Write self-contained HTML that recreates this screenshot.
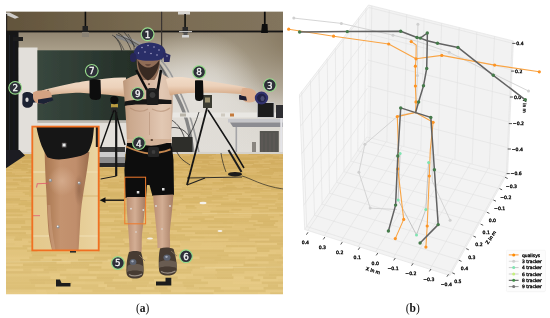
<!DOCTYPE html>
<html><head><meta charset="utf-8"><style>
html,body{margin:0;padding:0;background:#fff;width:550px;height:318px;overflow:hidden}
svg{position:absolute;left:0;top:0}
</style></head><body>
<svg width="550" height="318" viewBox="0 0 550 318">
<defs>
<clipPath id="pc"><rect x="6" y="11.5" width="277" height="282.7"/></clipPath>
<clipPath id="ic"><rect x="32.6" y="127" width="65.4" height="123"/></clipPath>
<linearGradient id="wallg" x1="0" y1="11.5" x2="0" y2="161.5" gradientUnits="userSpaceOnUse">
 <stop offset="0.13" stop-color="#908470"/><stop offset="0.25" stop-color="#a89d88"/><stop offset="0.4" stop-color="#c5beb0"/>
 <stop offset="0.6" stop-color="#d8d4cc"/><stop offset="1" stop-color="#e1ded9"/>
</linearGradient>
<linearGradient id="ceilg" x1="0" y1="0" x2="1" y2="0">
 <stop offset="0" stop-color="#62543c"/><stop offset="0.5" stop-color="#786a51"/><stop offset="1" stop-color="#82745d"/>
</linearGradient>
<radialGradient id="wallr" cx="292" cy="38" r="85" gradientUnits="userSpaceOnUse">
 <stop offset="0" stop-color="#84765e" stop-opacity="0.95"/><stop offset="0.6" stop-color="#968a74" stop-opacity="0.55"/><stop offset="1" stop-color="#a09480" stop-opacity="0"/>
</radialGradient>
<radialGradient id="walll" cx="195" cy="100" r="70" gradientUnits="userSpaceOnUse">
 <stop offset="0" stop-color="#e4e1dc" stop-opacity="0.9"/><stop offset="1" stop-color="#e4e1dc" stop-opacity="0"/>
</radialGradient>
<linearGradient id="chalk" x1="0" y1="0" x2="1" y2="0">
 <stop offset="0" stop-color="#38473e"/><stop offset="0.5" stop-color="#2d3a32"/><stop offset="1" stop-color="#222c25"/>
</linearGradient>
<linearGradient id="floorg" x1="0" y1="0" x2="0" y2="1">
 <stop offset="0" stop-color="#cca355"/><stop offset="0.3" stop-color="#d8b568"/><stop offset="0.7" stop-color="#e0c27b"/><stop offset="1" stop-color="#e4c984"/>
</linearGradient>
<linearGradient id="torso" x1="0" y1="0" x2="1" y2="0">
 <stop offset="0" stop-color="#bc9679"/><stop offset="0.15" stop-color="#cba98e"/><stop offset="0.5" stop-color="#d6b7a0"/><stop offset="0.78" stop-color="#e2c8b3"/><stop offset="0.95" stop-color="#dcc0aa"/><stop offset="1" stop-color="#c4a48c"/>
</linearGradient>
<linearGradient id="legg" x1="0" y1="0" x2="1" y2="0">
 <stop offset="0" stop-color="#b88a6c"/><stop offset="0.5" stop-color="#cfa487"/><stop offset="1" stop-color="#b2876b"/>
</linearGradient>
<linearGradient id="ilegg" x1="0" y1="0" x2="1" y2="0">
 <stop offset="0" stop-color="#a8764f"/><stop offset="0.35" stop-color="#c4936f"/><stop offset="0.7" stop-color="#c08e6c"/><stop offset="1" stop-color="#9b6c4c"/>
</linearGradient>
<linearGradient id="insetfl" x1="0" y1="0" x2="1" y2="0">
 <stop offset="0" stop-color="#e2c585" stop-opacity="0.6"/><stop offset="0.5" stop-color="#e2c585" stop-opacity="0"/><stop offset="1" stop-color="#efdcb0" stop-opacity="0.6"/>
</linearGradient>
<radialGradient id="kneeg"><stop offset="0" stop-color="#d8b092" stop-opacity="0.8"/><stop offset="1" stop-color="#d8b092" stop-opacity="0"/></radialGradient>
<radialGradient id="kneesh"><stop offset="0" stop-color="#7e553d" stop-opacity="0.5"/><stop offset="1" stop-color="#7e553d" stop-opacity="0"/></radialGradient>
<filter id="soft" x="-5%" y="-5%" width="110%" height="110%"><feGaussianBlur stdDeviation="0.6"/></filter>
</defs>
<g clip-path="url(#pc)">
<g filter="url(#soft)">
<!-- wall -->
<rect x="6" y="11.5" width="277" height="150" fill="url(#wallg)"/>
<rect x="100" y="31" width="183" height="100" fill="url(#wallr)"/>
<rect x="120" y="31" width="163" height="120" fill="url(#walll)"/>
<!-- ceiling -->
<rect x="6" y="11.5" width="277" height="20" fill="url(#ceilg)"/>
<polygon points="6,12.6 9.5,12.6 19,17.3 15,18.8 8,15.8 6,15.5" fill="#cfcdca"/>
<rect x="6" y="14" width="1.2" height="17" fill="#2a2520"/>
<rect x="178" y="11.5" width="12" height="3" fill="#d9d7d3"/>
<rect x="6" y="30.6" width="277" height="1.8" fill="#171614"/>
<!-- hanging cameras -->
<rect x="84.6" y="11.5" width="1.6" height="20" fill="#111"/><rect x="82.5" y="26" width="5.5" height="6" fill="#222"/><rect x="82" y="32" width="7" height="5" fill="#8a8274"/>
<rect x="184.3" y="14" width="1.6" height="18" fill="#111"/><rect x="182.5" y="27" width="5.5" height="6" fill="#2a2a2a"/><rect x="179" y="31" width="13" height="1.2" fill="#bdbdbd"/><rect x="182" y="35" width="7" height="2.5" fill="#d6d6d6"/><rect x="183.5" y="33" width="4" height="2" fill="#555"/>
<rect x="263.9" y="11.5" width="1.8" height="20" fill="#111"/><polygon points="262,24 267.5,24 268,33 261,33" fill="#111"/>
<rect x="161" y="11.5" width="1.2" height="50" fill="#3a3630"/>
<!-- curtain -->
<polygon points="6,31 18.5,31 19.5,160 19,167 6,167" fill="#131519"/>
<rect x="9" y="35" width="1" height="128" fill="#1f222a"/><rect x="13.5" y="35" width="1" height="128" fill="#1c1f26"/>
<rect x="13" y="37" width="10" height="4" fill="#1d1d1d"/>
<!-- white wall panel -->
<rect x="18.5" y="47.5" width="19" height="106" fill="#e2dfda"/>
<!-- chalkboard -->
<rect x="37.4" y="50.3" width="105" height="70.3" fill="url(#chalk)"/>
<rect x="37.4" y="120.3" width="105" height="2.6" fill="#bcb8b0"/>
<rect x="37.4" y="123" width="105" height="30" fill="#e3e0db"/>
<!-- metal arc -->
<path d="M116,36 C140,44 158,58 168,80 C178,98 188,112 193,153" fill="none" stroke="#858585" stroke-width="3.4"/>
<path d="M123,36 C146,44 164,58 174,80 C183,98 192,115 199,153" fill="none" stroke="#9a9a9a" stroke-width="1.6"/>
<path d="M116,34.5 C140,42.5 158,56.5 167,78" fill="none" stroke="#4a4a4a" stroke-width="0.8"/>
<path d="M112,35 C118,38 121,44 124,50 M128,34 C132,40 135,46 134,52" fill="none" stroke="#444" stroke-width="0.8"/>
<!-- outlets / desk right -->
<rect x="165" y="112.5" width="118" height="5" fill="#e9e7e3"/>
<rect x="180" y="113.5" width="6" height="3" fill="#b8b3a8"/><rect x="230" y="113.5" width="4" height="3" fill="#c47a3a"/><rect x="221" y="113.5" width="4" height="3" fill="#cfcac0"/>
<rect x="257" y="102.2" width="17.4" height="15.6" fill="#c9c9cb"/><rect x="257.8" y="103" width="15.8" height="14" fill="#1a1a1c"/><rect x="276" y="105" width="7" height="13" fill="#2e2e30"/>
<rect x="228" y="118.9" width="55" height="3.6" fill="#c6c6ca"/>
<polygon points="230,122.5 283,122.5 283,127 233,127" fill="#8c8c92"/>
<polyline points="236.3,127 236.3,162 240.5,165.5" fill="none" stroke="#a5a5a8" stroke-width="1.6"/>
<rect x="259.8" y="131" width="19" height="27" fill="#3f3d3a" opacity="0.85"/>
<path d="M262,133 L262,157 M266,133 L266,157 M270,133 L270,157 M274,133 L274,157" stroke="#6a6660" stroke-width="0.6"/>
<rect x="252" y="142" width="4" height="14" fill="#8a8680"/>
<rect x="280.3" y="118" width="2.2" height="44" fill="#e4e4e8"/>
<rect x="272" y="160" width="11" height="5" fill="#d6d6dc"/><circle cx="274.5" cy="166" r="1.6" fill="#444"/>
<path d="M168,118 C176,122 182,128 185,140 M170,128 C178,126 186,130 190,138 M199,112 C196,122 192,132 186,140" fill="none" stroke="#2a2a2a" stroke-width="0.8"/>
<rect x="172" y="137" width="20.5" height="19" fill="#2e2d2c"/>
<rect x="172" y="156" width="20.5" height="4.5" fill="#9a9896"/>
<rect x="172" y="160.5" width="20.5" height="4.5" fill="#c4c2bf"/>
<!-- floor -->
<rect x="6" y="153" width="277" height="142" fill="url(#floorg)"/>
<g opacity="0.45">
<rect x="6.0" y="154.0" width="8.9" height="1.20" fill="rgb(216, 185, 110)"/>
<rect x="14.9" y="154.0" width="5.4" height="1.20" fill="rgb(216, 185, 110)"/>
<rect x="20.4" y="154.0" width="5.5" height="1.20" fill="rgb(219, 189, 115)"/>
<rect x="25.9" y="154.0" width="10.4" height="1.20" fill="rgb(217, 186, 112)"/>
<rect x="36.3" y="154.0" width="11.9" height="1.20" fill="rgb(211, 180, 103)"/>
<rect x="48.1" y="154.0" width="6.4" height="1.20" fill="rgb(213, 182, 106)"/>
<rect x="54.5" y="154.0" width="12.3" height="1.20" fill="rgb(214, 183, 107)"/>
<rect x="66.8" y="154.0" width="9.9" height="1.20" fill="rgb(219, 189, 115)"/>
<rect x="76.6" y="154.0" width="15.8" height="1.20" fill="rgb(232, 203, 134)"/>
<rect x="92.4" y="154.0" width="11.7" height="1.20" fill="rgb(233, 204, 136)"/>
<rect x="104.1" y="154.0" width="13.5" height="1.20" fill="rgb(214, 183, 107)"/>
<rect x="117.7" y="154.0" width="13.0" height="1.20" fill="rgb(228, 199, 129)"/>
<rect x="130.7" y="154.0" width="13.9" height="1.20" fill="rgb(213, 182, 106)"/>
<rect x="144.6" y="154.0" width="11.2" height="1.20" fill="rgb(235, 206, 139)"/>
<rect x="155.7" y="154.0" width="10.8" height="1.20" fill="rgb(231, 202, 133)"/>
<rect x="166.5" y="154.0" width="8.0" height="1.20" fill="rgb(213, 181, 105)"/>
<rect x="174.5" y="154.0" width="7.9" height="1.20" fill="rgb(233, 204, 135)"/>
<rect x="182.4" y="154.0" width="16.0" height="1.20" fill="rgb(230, 201, 132)"/>
<rect x="198.4" y="154.0" width="17.3" height="1.20" fill="rgb(214, 183, 108)"/>
<rect x="215.7" y="154.0" width="6.9" height="1.20" fill="rgb(229, 200, 130)"/>
<rect x="222.6" y="154.0" width="11.1" height="1.20" fill="rgb(210, 179, 101)"/>
<rect x="233.7" y="154.0" width="5.8" height="1.20" fill="rgb(231, 202, 133)"/>
<rect x="239.5" y="154.0" width="9.3" height="1.20" fill="rgb(233, 204, 136)"/>
<rect x="248.8" y="154.0" width="10.6" height="1.20" fill="rgb(210, 179, 101)"/>
<rect x="259.4" y="154.0" width="10.9" height="1.20" fill="rgb(219, 188, 115)"/>
<rect x="270.3" y="154.0" width="13.8" height="1.20" fill="rgb(230, 201, 132)"/>
<rect x="6.0" y="155.2" width="9.8" height="1.21" fill="rgb(228, 198, 128)"/>
<rect x="15.8" y="155.2" width="10.8" height="1.21" fill="rgb(213, 182, 106)"/>
<rect x="26.6" y="155.2" width="11.2" height="1.21" fill="rgb(212, 181, 104)"/>
<rect x="37.8" y="155.2" width="6.5" height="1.21" fill="rgb(216, 185, 110)"/>
<rect x="44.3" y="155.2" width="16.6" height="1.21" fill="rgb(228, 199, 129)"/>
<rect x="60.9" y="155.2" width="10.6" height="1.21" fill="rgb(236, 208, 141)"/>
<rect x="71.5" y="155.2" width="15.4" height="1.21" fill="rgb(235, 206, 138)"/>
<rect x="86.9" y="155.2" width="17.5" height="1.21" fill="rgb(237, 208, 142)"/>
<rect x="104.4" y="155.2" width="6.8" height="1.21" fill="rgb(218, 187, 113)"/>
<rect x="111.2" y="155.2" width="13.3" height="1.21" fill="rgb(215, 184, 108)"/>
<rect x="124.5" y="155.2" width="12.4" height="1.21" fill="rgb(230, 201, 132)"/>
<rect x="137.0" y="155.2" width="6.7" height="1.21" fill="rgb(234, 205, 137)"/>
<rect x="143.7" y="155.2" width="8.9" height="1.21" fill="rgb(213, 182, 105)"/>
<rect x="152.6" y="155.2" width="11.5" height="1.21" fill="rgb(215, 184, 109)"/>
<rect x="164.1" y="155.2" width="16.1" height="1.21" fill="rgb(231, 202, 133)"/>
<rect x="180.1" y="155.2" width="9.9" height="1.21" fill="rgb(234, 205, 137)"/>
<rect x="190.0" y="155.2" width="5.6" height="1.21" fill="rgb(210, 178, 101)"/>
<rect x="195.7" y="155.2" width="10.5" height="1.21" fill="rgb(216, 185, 110)"/>
<rect x="206.2" y="155.2" width="5.5" height="1.21" fill="rgb(214, 183, 107)"/>
<rect x="211.7" y="155.2" width="11.7" height="1.21" fill="rgb(234, 205, 137)"/>
<rect x="223.4" y="155.2" width="5.7" height="1.21" fill="rgb(213, 182, 106)"/>
<rect x="229.2" y="155.2" width="6.7" height="1.21" fill="rgb(237, 208, 142)"/>
<rect x="235.9" y="155.2" width="12.6" height="1.21" fill="rgb(229, 199, 129)"/>
<rect x="248.5" y="155.2" width="15.8" height="1.21" fill="rgb(232, 203, 135)"/>
<rect x="264.3" y="155.2" width="8.8" height="1.21" fill="rgb(218, 188, 114)"/>
<rect x="273.1" y="155.2" width="9.2" height="1.21" fill="rgb(232, 203, 135)"/>
<rect x="282.4" y="155.2" width="13.7" height="1.21" fill="rgb(217, 187, 112)"/>
<rect x="6.0" y="156.4" width="17.2" height="1.23" fill="rgb(229, 200, 130)"/>
<rect x="23.2" y="156.4" width="11.9" height="1.23" fill="rgb(212, 181, 104)"/>
<rect x="35.1" y="156.4" width="8.7" height="1.23" fill="rgb(213, 181, 105)"/>
<rect x="43.8" y="156.4" width="8.2" height="1.23" fill="rgb(237, 208, 141)"/>
<rect x="52.1" y="156.4" width="9.5" height="1.23" fill="rgb(214, 183, 108)"/>
<rect x="61.6" y="156.4" width="15.0" height="1.23" fill="rgb(234, 205, 137)"/>
<rect x="76.5" y="156.4" width="12.8" height="1.23" fill="rgb(211, 180, 103)"/>
<rect x="89.3" y="156.4" width="15.5" height="1.23" fill="rgb(218, 187, 113)"/>
<rect x="104.8" y="156.4" width="11.3" height="1.23" fill="rgb(210, 178, 101)"/>
<rect x="116.1" y="156.4" width="15.1" height="1.23" fill="rgb(230, 201, 131)"/>
<rect x="131.2" y="156.4" width="13.8" height="1.23" fill="rgb(232, 203, 134)"/>
<rect x="145.0" y="156.4" width="17.0" height="1.23" fill="rgb(237, 208, 142)"/>
<rect x="162.0" y="156.4" width="9.6" height="1.23" fill="rgb(218, 188, 114)"/>
<rect x="171.6" y="156.4" width="11.0" height="1.23" fill="rgb(230, 200, 131)"/>
<rect x="182.6" y="156.4" width="13.0" height="1.23" fill="rgb(215, 184, 108)"/>
<rect x="195.5" y="156.4" width="13.3" height="1.23" fill="rgb(211, 180, 103)"/>
<rect x="208.8" y="156.4" width="6.4" height="1.23" fill="rgb(235, 207, 139)"/>
<rect x="215.3" y="156.4" width="14.6" height="1.23" fill="rgb(236, 208, 141)"/>
<rect x="229.8" y="156.4" width="10.5" height="1.23" fill="rgb(228, 199, 129)"/>
<rect x="240.3" y="156.4" width="17.1" height="1.23" fill="rgb(232, 203, 134)"/>
<rect x="257.5" y="156.4" width="14.5" height="1.23" fill="rgb(212, 181, 105)"/>
<rect x="272.0" y="156.4" width="7.1" height="1.23" fill="rgb(219, 189, 115)"/>
<rect x="279.0" y="156.4" width="12.5" height="1.23" fill="rgb(236, 207, 140)"/>
<rect x="6.0" y="157.6" width="6.8" height="1.24" fill="rgb(234, 205, 137)"/>
<rect x="12.8" y="157.6" width="9.5" height="1.24" fill="rgb(219, 189, 115)"/>
<rect x="22.3" y="157.6" width="15.3" height="1.24" fill="rgb(214, 183, 108)"/>
<rect x="37.6" y="157.6" width="17.1" height="1.24" fill="rgb(237, 209, 142)"/>
<rect x="54.7" y="157.6" width="7.4" height="1.24" fill="rgb(219, 189, 115)"/>
<rect x="62.1" y="157.6" width="7.7" height="1.24" fill="rgb(212, 181, 104)"/>
<rect x="69.8" y="157.6" width="9.1" height="1.24" fill="rgb(236, 207, 140)"/>
<rect x="78.9" y="157.6" width="5.7" height="1.24" fill="rgb(236, 208, 141)"/>
<rect x="84.6" y="157.6" width="13.5" height="1.24" fill="rgb(236, 207, 140)"/>
<rect x="98.2" y="157.6" width="16.4" height="1.24" fill="rgb(214, 183, 108)"/>
<rect x="114.5" y="157.6" width="11.7" height="1.24" fill="rgb(211, 179, 102)"/>
<rect x="126.2" y="157.6" width="15.0" height="1.24" fill="rgb(212, 181, 104)"/>
<rect x="141.3" y="157.6" width="6.8" height="1.24" fill="rgb(215, 184, 108)"/>
<rect x="148.1" y="157.6" width="14.4" height="1.24" fill="rgb(216, 186, 111)"/>
<rect x="162.5" y="157.6" width="11.7" height="1.24" fill="rgb(235, 207, 139)"/>
<rect x="174.1" y="157.6" width="6.3" height="1.24" fill="rgb(217, 186, 112)"/>
<rect x="180.4" y="157.6" width="8.5" height="1.24" fill="rgb(214, 184, 108)"/>
<rect x="188.9" y="157.6" width="12.2" height="1.24" fill="rgb(215, 184, 109)"/>
<rect x="201.1" y="157.6" width="12.9" height="1.24" fill="rgb(213, 181, 105)"/>
<rect x="214.0" y="157.6" width="10.8" height="1.24" fill="rgb(233, 203, 135)"/>
<rect x="224.8" y="157.6" width="8.1" height="1.24" fill="rgb(237, 208, 141)"/>
<rect x="232.9" y="157.6" width="16.5" height="1.24" fill="rgb(211, 180, 103)"/>
<rect x="249.5" y="157.6" width="6.7" height="1.24" fill="rgb(216, 185, 110)"/>
<rect x="256.2" y="157.6" width="9.0" height="1.24" fill="rgb(215, 184, 109)"/>
<rect x="265.2" y="157.6" width="7.7" height="1.24" fill="rgb(235, 207, 139)"/>
<rect x="272.9" y="157.6" width="16.6" height="1.24" fill="rgb(210, 179, 101)"/>
<rect x="6.0" y="158.9" width="13.4" height="1.26" fill="rgb(229, 199, 130)"/>
<rect x="19.4" y="158.9" width="16.5" height="1.26" fill="rgb(230, 200, 131)"/>
<rect x="35.9" y="158.9" width="17.4" height="1.26" fill="rgb(236, 208, 141)"/>
<rect x="53.3" y="158.9" width="7.1" height="1.26" fill="rgb(218, 187, 113)"/>
<rect x="60.4" y="158.9" width="10.6" height="1.26" fill="rgb(231, 202, 133)"/>
<rect x="71.0" y="158.9" width="7.5" height="1.26" fill="rgb(228, 199, 129)"/>
<rect x="78.5" y="158.9" width="9.7" height="1.26" fill="rgb(233, 204, 136)"/>
<rect x="88.2" y="158.9" width="10.7" height="1.26" fill="rgb(216, 185, 110)"/>
<rect x="98.9" y="158.9" width="11.7" height="1.26" fill="rgb(233, 204, 135)"/>
<rect x="110.7" y="158.9" width="5.8" height="1.26" fill="rgb(210, 178, 101)"/>
<rect x="116.4" y="158.9" width="6.3" height="1.26" fill="rgb(230, 201, 132)"/>
<rect x="122.7" y="158.9" width="16.8" height="1.26" fill="rgb(217, 186, 111)"/>
<rect x="139.6" y="158.9" width="6.6" height="1.26" fill="rgb(236, 207, 140)"/>
<rect x="146.2" y="158.9" width="13.8" height="1.26" fill="rgb(232, 202, 134)"/>
<rect x="160.0" y="158.9" width="12.0" height="1.26" fill="rgb(235, 206, 138)"/>
<rect x="172.0" y="158.9" width="6.1" height="1.26" fill="rgb(212, 180, 104)"/>
<rect x="178.1" y="158.9" width="7.3" height="1.26" fill="rgb(217, 186, 111)"/>
<rect x="185.4" y="158.9" width="5.1" height="1.26" fill="rgb(211, 180, 103)"/>
<rect x="190.5" y="158.9" width="6.0" height="1.26" fill="rgb(219, 188, 115)"/>
<rect x="196.6" y="158.9" width="16.3" height="1.26" fill="rgb(228, 198, 128)"/>
<rect x="212.8" y="158.9" width="18.0" height="1.26" fill="rgb(237, 208, 141)"/>
<rect x="230.8" y="158.9" width="8.4" height="1.26" fill="rgb(219, 189, 115)"/>
<rect x="239.2" y="158.9" width="14.2" height="1.26" fill="rgb(210, 178, 101)"/>
<rect x="253.5" y="158.9" width="8.4" height="1.26" fill="rgb(217, 187, 112)"/>
<rect x="261.9" y="158.9" width="9.0" height="1.26" fill="rgb(233, 204, 135)"/>
<rect x="270.9" y="158.9" width="7.6" height="1.26" fill="rgb(233, 203, 135)"/>
<rect x="278.5" y="158.9" width="7.3" height="1.26" fill="rgb(236, 207, 140)"/>
<rect x="6.0" y="160.1" width="18.1" height="1.27" fill="rgb(219, 189, 115)"/>
<rect x="24.1" y="160.1" width="14.6" height="1.27" fill="rgb(214, 183, 108)"/>
<rect x="38.8" y="160.1" width="8.2" height="1.27" fill="rgb(229, 199, 129)"/>
<rect x="47.0" y="160.1" width="15.8" height="1.27" fill="rgb(234, 205, 137)"/>
<rect x="62.7" y="160.1" width="12.2" height="1.27" fill="rgb(237, 209, 142)"/>
<rect x="74.9" y="160.1" width="9.0" height="1.27" fill="rgb(210, 178, 101)"/>
<rect x="83.9" y="160.1" width="9.5" height="1.27" fill="rgb(215, 185, 109)"/>
<rect x="93.4" y="160.1" width="9.6" height="1.27" fill="rgb(211, 180, 103)"/>
<rect x="103.0" y="160.1" width="5.1" height="1.27" fill="rgb(232, 203, 134)"/>
<rect x="108.1" y="160.1" width="5.7" height="1.27" fill="rgb(236, 207, 141)"/>
<rect x="113.8" y="160.1" width="13.8" height="1.27" fill="rgb(233, 204, 136)"/>
<rect x="127.7" y="160.1" width="14.1" height="1.27" fill="rgb(215, 184, 109)"/>
<rect x="141.8" y="160.1" width="7.0" height="1.27" fill="rgb(228, 198, 128)"/>
<rect x="148.8" y="160.1" width="9.8" height="1.27" fill="rgb(237, 209, 142)"/>
<rect x="158.6" y="160.1" width="12.2" height="1.27" fill="rgb(219, 189, 115)"/>
<rect x="170.8" y="160.1" width="16.6" height="1.27" fill="rgb(216, 185, 110)"/>
<rect x="187.4" y="160.1" width="5.0" height="1.27" fill="rgb(228, 199, 129)"/>
<rect x="192.4" y="160.1" width="8.6" height="1.27" fill="rgb(217, 186, 112)"/>
<rect x="201.0" y="160.1" width="15.2" height="1.27" fill="rgb(217, 186, 112)"/>
<rect x="216.2" y="160.1" width="6.1" height="1.27" fill="rgb(233, 204, 136)"/>
<rect x="222.4" y="160.1" width="10.2" height="1.27" fill="rgb(231, 201, 132)"/>
<rect x="232.5" y="160.1" width="8.0" height="1.27" fill="rgb(213, 182, 106)"/>
<rect x="240.6" y="160.1" width="14.4" height="1.27" fill="rgb(235, 206, 139)"/>
<rect x="255.0" y="160.1" width="14.5" height="1.27" fill="rgb(229, 200, 130)"/>
<rect x="269.5" y="160.1" width="14.5" height="1.27" fill="rgb(219, 189, 115)"/>
<rect x="6.0" y="161.4" width="16.1" height="1.28" fill="rgb(235, 206, 139)"/>
<rect x="22.1" y="161.4" width="15.8" height="1.28" fill="rgb(210, 179, 102)"/>
<rect x="37.9" y="161.4" width="15.0" height="1.28" fill="rgb(211, 180, 103)"/>
<rect x="52.9" y="161.4" width="12.8" height="1.28" fill="rgb(219, 188, 114)"/>
<rect x="65.7" y="161.4" width="5.5" height="1.28" fill="rgb(237, 208, 142)"/>
<rect x="71.2" y="161.4" width="10.0" height="1.28" fill="rgb(233, 204, 136)"/>
<rect x="81.2" y="161.4" width="13.3" height="1.28" fill="rgb(215, 184, 108)"/>
<rect x="94.6" y="161.4" width="5.0" height="1.28" fill="rgb(212, 181, 104)"/>
<rect x="99.6" y="161.4" width="11.7" height="1.28" fill="rgb(213, 182, 106)"/>
<rect x="111.3" y="161.4" width="5.9" height="1.28" fill="rgb(230, 201, 131)"/>
<rect x="117.2" y="161.4" width="6.0" height="1.28" fill="rgb(230, 200, 131)"/>
<rect x="123.1" y="161.4" width="15.1" height="1.28" fill="rgb(212, 181, 104)"/>
<rect x="138.2" y="161.4" width="18.0" height="1.28" fill="rgb(236, 207, 140)"/>
<rect x="156.2" y="161.4" width="6.0" height="1.28" fill="rgb(235, 206, 139)"/>
<rect x="162.2" y="161.4" width="13.2" height="1.28" fill="rgb(219, 188, 114)"/>
<rect x="175.4" y="161.4" width="7.0" height="1.28" fill="rgb(234, 205, 137)"/>
<rect x="182.3" y="161.4" width="14.2" height="1.28" fill="rgb(219, 189, 115)"/>
<rect x="196.6" y="161.4" width="5.8" height="1.28" fill="rgb(237, 209, 142)"/>
<rect x="202.4" y="161.4" width="6.3" height="1.28" fill="rgb(213, 182, 105)"/>
<rect x="208.7" y="161.4" width="8.9" height="1.28" fill="rgb(232, 203, 134)"/>
<rect x="217.5" y="161.4" width="11.2" height="1.28" fill="rgb(210, 178, 101)"/>
<rect x="228.7" y="161.4" width="12.3" height="1.28" fill="rgb(237, 209, 142)"/>
<rect x="241.0" y="161.4" width="17.5" height="1.28" fill="rgb(217, 186, 111)"/>
<rect x="258.5" y="161.4" width="6.0" height="1.28" fill="rgb(237, 209, 142)"/>
<rect x="264.5" y="161.4" width="10.1" height="1.28" fill="rgb(219, 188, 114)"/>
<rect x="274.6" y="161.4" width="6.2" height="1.28" fill="rgb(237, 208, 142)"/>
<rect x="280.8" y="161.4" width="6.8" height="1.28" fill="rgb(236, 208, 141)"/>
<rect x="6.0" y="162.7" width="14.4" height="1.30" fill="rgb(215, 184, 108)"/>
<rect x="20.4" y="162.7" width="16.8" height="1.30" fill="rgb(228, 198, 128)"/>
<rect x="37.2" y="162.7" width="5.1" height="1.30" fill="rgb(234, 205, 138)"/>
<rect x="42.3" y="162.7" width="10.5" height="1.30" fill="rgb(215, 185, 109)"/>
<rect x="52.7" y="162.7" width="10.1" height="1.30" fill="rgb(211, 180, 103)"/>
<rect x="62.8" y="162.7" width="5.0" height="1.30" fill="rgb(236, 207, 140)"/>
<rect x="67.8" y="162.7" width="6.6" height="1.30" fill="rgb(212, 181, 105)"/>
<rect x="74.5" y="162.7" width="17.1" height="1.30" fill="rgb(230, 201, 131)"/>
<rect x="91.6" y="162.7" width="5.9" height="1.30" fill="rgb(237, 209, 142)"/>
<rect x="97.5" y="162.7" width="12.9" height="1.30" fill="rgb(237, 208, 141)"/>
<rect x="110.4" y="162.7" width="15.1" height="1.30" fill="rgb(217, 186, 111)"/>
<rect x="125.5" y="162.7" width="5.7" height="1.30" fill="rgb(234, 205, 137)"/>
<rect x="131.2" y="162.7" width="7.0" height="1.30" fill="rgb(232, 203, 134)"/>
<rect x="138.3" y="162.7" width="9.3" height="1.30" fill="rgb(235, 207, 139)"/>
<rect x="147.5" y="162.7" width="10.8" height="1.30" fill="rgb(211, 180, 103)"/>
<rect x="158.3" y="162.7" width="13.5" height="1.30" fill="rgb(212, 181, 105)"/>
<rect x="171.7" y="162.7" width="5.7" height="1.30" fill="rgb(232, 203, 134)"/>
<rect x="177.4" y="162.7" width="15.1" height="1.30" fill="rgb(232, 203, 135)"/>
<rect x="192.5" y="162.7" width="17.2" height="1.30" fill="rgb(218, 187, 113)"/>
<rect x="209.8" y="162.7" width="10.6" height="1.30" fill="rgb(230, 201, 132)"/>
<rect x="220.4" y="162.7" width="14.9" height="1.30" fill="rgb(232, 202, 134)"/>
<rect x="235.3" y="162.7" width="8.2" height="1.30" fill="rgb(233, 204, 136)"/>
<rect x="243.5" y="162.7" width="10.3" height="1.30" fill="rgb(213, 182, 106)"/>
<rect x="253.8" y="162.7" width="6.0" height="1.30" fill="rgb(233, 204, 136)"/>
<rect x="259.8" y="162.7" width="11.1" height="1.30" fill="rgb(237, 209, 142)"/>
<rect x="270.9" y="162.7" width="11.1" height="1.30" fill="rgb(214, 183, 107)"/>
<rect x="282.0" y="162.7" width="8.3" height="1.30" fill="rgb(216, 185, 110)"/>
<rect x="6.0" y="164.0" width="6.3" height="1.31" fill="rgb(216, 185, 110)"/>
<rect x="12.3" y="164.0" width="16.0" height="1.31" fill="rgb(211, 179, 102)"/>
<rect x="28.3" y="164.0" width="15.2" height="1.31" fill="rgb(231, 202, 133)"/>
<rect x="43.4" y="164.0" width="15.1" height="1.31" fill="rgb(216, 185, 110)"/>
<rect x="58.5" y="164.0" width="9.6" height="1.31" fill="rgb(215, 184, 108)"/>
<rect x="68.2" y="164.0" width="12.8" height="1.31" fill="rgb(229, 199, 129)"/>
<rect x="81.0" y="164.0" width="11.8" height="1.31" fill="rgb(219, 188, 114)"/>
<rect x="92.8" y="164.0" width="17.2" height="1.31" fill="rgb(231, 202, 133)"/>
<rect x="110.0" y="164.0" width="11.1" height="1.31" fill="rgb(236, 207, 140)"/>
<rect x="121.0" y="164.0" width="16.8" height="1.31" fill="rgb(218, 188, 114)"/>
<rect x="137.9" y="164.0" width="10.8" height="1.31" fill="rgb(237, 209, 142)"/>
<rect x="148.6" y="164.0" width="11.7" height="1.31" fill="rgb(216, 185, 110)"/>
<rect x="160.3" y="164.0" width="17.6" height="1.31" fill="rgb(237, 209, 142)"/>
<rect x="177.9" y="164.0" width="8.4" height="1.31" fill="rgb(217, 187, 112)"/>
<rect x="186.3" y="164.0" width="7.1" height="1.31" fill="rgb(210, 179, 101)"/>
<rect x="193.4" y="164.0" width="14.8" height="1.31" fill="rgb(228, 199, 129)"/>
<rect x="208.2" y="164.0" width="15.5" height="1.31" fill="rgb(212, 180, 104)"/>
<rect x="223.7" y="164.0" width="8.2" height="1.31" fill="rgb(213, 182, 106)"/>
<rect x="231.9" y="164.0" width="9.2" height="1.31" fill="rgb(213, 182, 106)"/>
<rect x="241.0" y="164.0" width="12.2" height="1.31" fill="rgb(234, 206, 138)"/>
<rect x="253.2" y="164.0" width="6.6" height="1.31" fill="rgb(216, 186, 111)"/>
<rect x="259.8" y="164.0" width="17.8" height="1.31" fill="rgb(216, 185, 110)"/>
<rect x="277.6" y="164.0" width="8.1" height="1.31" fill="rgb(219, 189, 115)"/>
<rect x="6.0" y="165.3" width="9.2" height="1.33" fill="rgb(230, 201, 132)"/>
<rect x="15.2" y="165.3" width="9.4" height="1.33" fill="rgb(215, 184, 108)"/>
<rect x="24.6" y="165.3" width="8.3" height="1.33" fill="rgb(219, 189, 115)"/>
<rect x="32.8" y="165.3" width="10.7" height="1.33" fill="rgb(228, 199, 128)"/>
<rect x="43.5" y="165.3" width="7.7" height="1.33" fill="rgb(228, 199, 129)"/>
<rect x="51.3" y="165.3" width="8.2" height="1.33" fill="rgb(237, 208, 141)"/>
<rect x="59.4" y="165.3" width="8.2" height="1.33" fill="rgb(213, 181, 105)"/>
<rect x="67.6" y="165.3" width="14.8" height="1.33" fill="rgb(234, 205, 138)"/>
<rect x="82.4" y="165.3" width="7.8" height="1.33" fill="rgb(235, 206, 139)"/>
<rect x="90.2" y="165.3" width="11.9" height="1.33" fill="rgb(215, 184, 108)"/>
<rect x="102.2" y="165.3" width="7.8" height="1.33" fill="rgb(217, 187, 112)"/>
<rect x="110.0" y="165.3" width="8.1" height="1.33" fill="rgb(229, 199, 129)"/>
<rect x="118.1" y="165.3" width="13.6" height="1.33" fill="rgb(211, 179, 102)"/>
<rect x="131.6" y="165.3" width="11.7" height="1.33" fill="rgb(210, 179, 101)"/>
<rect x="143.3" y="165.3" width="7.1" height="1.33" fill="rgb(228, 198, 128)"/>
<rect x="150.4" y="165.3" width="5.4" height="1.33" fill="rgb(215, 185, 109)"/>
<rect x="155.8" y="165.3" width="14.7" height="1.33" fill="rgb(216, 185, 110)"/>
<rect x="170.5" y="165.3" width="17.3" height="1.33" fill="rgb(235, 206, 138)"/>
<rect x="187.8" y="165.3" width="18.6" height="1.33" fill="rgb(216, 185, 111)"/>
<rect x="206.4" y="165.3" width="7.6" height="1.33" fill="rgb(228, 198, 128)"/>
<rect x="214.1" y="165.3" width="14.1" height="1.33" fill="rgb(236, 207, 140)"/>
<rect x="228.2" y="165.3" width="18.5" height="1.33" fill="rgb(229, 200, 130)"/>
<rect x="246.6" y="165.3" width="5.1" height="1.33" fill="rgb(228, 199, 129)"/>
<rect x="251.8" y="165.3" width="10.8" height="1.33" fill="rgb(214, 183, 107)"/>
<rect x="262.6" y="165.3" width="15.4" height="1.33" fill="rgb(231, 202, 133)"/>
<rect x="277.9" y="165.3" width="16.2" height="1.33" fill="rgb(228, 199, 129)"/>
<rect x="6.0" y="166.6" width="14.8" height="1.34" fill="rgb(216, 185, 110)"/>
<rect x="20.8" y="166.6" width="17.7" height="1.34" fill="rgb(216, 186, 111)"/>
<rect x="38.5" y="166.6" width="15.2" height="1.34" fill="rgb(228, 198, 128)"/>
<rect x="53.7" y="166.6" width="10.7" height="1.34" fill="rgb(228, 198, 128)"/>
<rect x="64.4" y="166.6" width="5.6" height="1.34" fill="rgb(211, 180, 103)"/>
<rect x="70.0" y="166.6" width="6.0" height="1.34" fill="rgb(212, 181, 104)"/>
<rect x="76.0" y="166.6" width="17.4" height="1.34" fill="rgb(231, 202, 133)"/>
<rect x="93.4" y="166.6" width="9.7" height="1.34" fill="rgb(217, 186, 112)"/>
<rect x="103.1" y="166.6" width="14.9" height="1.34" fill="rgb(237, 208, 141)"/>
<rect x="118.0" y="166.6" width="9.2" height="1.34" fill="rgb(219, 189, 115)"/>
<rect x="127.2" y="166.6" width="8.3" height="1.34" fill="rgb(235, 206, 138)"/>
<rect x="135.5" y="166.6" width="11.5" height="1.34" fill="rgb(235, 207, 139)"/>
<rect x="147.0" y="166.6" width="17.6" height="1.34" fill="rgb(229, 199, 129)"/>
<rect x="164.6" y="166.6" width="11.9" height="1.34" fill="rgb(211, 180, 103)"/>
<rect x="176.5" y="166.6" width="15.2" height="1.34" fill="rgb(213, 182, 106)"/>
<rect x="191.7" y="166.6" width="9.6" height="1.34" fill="rgb(232, 203, 134)"/>
<rect x="201.3" y="166.6" width="15.8" height="1.34" fill="rgb(214, 183, 108)"/>
<rect x="217.2" y="166.6" width="10.5" height="1.34" fill="rgb(217, 186, 112)"/>
<rect x="227.7" y="166.6" width="6.0" height="1.34" fill="rgb(215, 184, 108)"/>
<rect x="233.7" y="166.6" width="12.6" height="1.34" fill="rgb(210, 178, 101)"/>
<rect x="246.2" y="166.6" width="17.2" height="1.34" fill="rgb(217, 186, 112)"/>
<rect x="263.4" y="166.6" width="6.3" height="1.34" fill="rgb(215, 184, 109)"/>
<rect x="269.7" y="166.6" width="18.6" height="1.34" fill="rgb(229, 200, 130)"/>
<rect x="6.0" y="168.0" width="7.0" height="1.36" fill="rgb(234, 205, 137)"/>
<rect x="13.0" y="168.0" width="14.4" height="1.36" fill="rgb(212, 181, 104)"/>
<rect x="27.4" y="168.0" width="9.2" height="1.36" fill="rgb(233, 204, 136)"/>
<rect x="36.6" y="168.0" width="10.3" height="1.36" fill="rgb(229, 200, 130)"/>
<rect x="46.9" y="168.0" width="8.6" height="1.36" fill="rgb(217, 187, 112)"/>
<rect x="55.5" y="168.0" width="9.0" height="1.36" fill="rgb(216, 186, 111)"/>
<rect x="64.5" y="168.0" width="10.6" height="1.36" fill="rgb(214, 184, 108)"/>
<rect x="75.1" y="168.0" width="8.3" height="1.36" fill="rgb(213, 182, 106)"/>
<rect x="83.5" y="168.0" width="18.8" height="1.36" fill="rgb(219, 189, 115)"/>
<rect x="102.3" y="168.0" width="17.3" height="1.36" fill="rgb(211, 180, 103)"/>
<rect x="119.6" y="168.0" width="17.7" height="1.36" fill="rgb(211, 179, 102)"/>
<rect x="137.3" y="168.0" width="8.4" height="1.36" fill="rgb(218, 187, 113)"/>
<rect x="145.7" y="168.0" width="18.5" height="1.36" fill="rgb(210, 179, 102)"/>
<rect x="164.2" y="168.0" width="10.3" height="1.36" fill="rgb(215, 184, 109)"/>
<rect x="174.5" y="168.0" width="8.7" height="1.36" fill="rgb(218, 188, 114)"/>
<rect x="183.2" y="168.0" width="13.4" height="1.36" fill="rgb(230, 200, 131)"/>
<rect x="196.6" y="168.0" width="10.2" height="1.36" fill="rgb(219, 189, 115)"/>
<rect x="206.8" y="168.0" width="18.9" height="1.36" fill="rgb(214, 183, 107)"/>
<rect x="225.7" y="168.0" width="14.1" height="1.36" fill="rgb(211, 180, 103)"/>
<rect x="239.9" y="168.0" width="16.4" height="1.36" fill="rgb(234, 205, 138)"/>
<rect x="256.3" y="168.0" width="7.7" height="1.36" fill="rgb(228, 199, 129)"/>
<rect x="264.0" y="168.0" width="5.6" height="1.36" fill="rgb(233, 204, 136)"/>
<rect x="269.6" y="168.0" width="6.0" height="1.36" fill="rgb(212, 180, 104)"/>
<rect x="275.6" y="168.0" width="14.3" height="1.36" fill="rgb(213, 182, 106)"/>
<rect x="6.0" y="169.3" width="6.5" height="1.38" fill="rgb(216, 185, 110)"/>
<rect x="12.5" y="169.3" width="9.0" height="1.38" fill="rgb(234, 205, 138)"/>
<rect x="21.4" y="169.3" width="11.0" height="1.38" fill="rgb(216, 186, 111)"/>
<rect x="32.4" y="169.3" width="13.0" height="1.38" fill="rgb(232, 202, 134)"/>
<rect x="45.4" y="169.3" width="5.4" height="1.38" fill="rgb(234, 205, 137)"/>
<rect x="50.9" y="169.3" width="10.6" height="1.38" fill="rgb(230, 200, 131)"/>
<rect x="61.5" y="169.3" width="5.3" height="1.38" fill="rgb(215, 184, 109)"/>
<rect x="66.8" y="169.3" width="16.6" height="1.38" fill="rgb(233, 204, 136)"/>
<rect x="83.3" y="169.3" width="10.2" height="1.38" fill="rgb(218, 188, 114)"/>
<rect x="93.6" y="169.3" width="5.9" height="1.38" fill="rgb(213, 182, 106)"/>
<rect x="99.5" y="169.3" width="17.8" height="1.38" fill="rgb(214, 183, 107)"/>
<rect x="117.3" y="169.3" width="18.0" height="1.38" fill="rgb(218, 187, 113)"/>
<rect x="135.3" y="169.3" width="9.1" height="1.38" fill="rgb(210, 179, 102)"/>
<rect x="144.4" y="169.3" width="6.7" height="1.38" fill="rgb(235, 206, 139)"/>
<rect x="151.1" y="169.3" width="16.2" height="1.38" fill="rgb(216, 186, 111)"/>
<rect x="167.3" y="169.3" width="16.8" height="1.38" fill="rgb(210, 178, 101)"/>
<rect x="184.1" y="169.3" width="11.9" height="1.38" fill="rgb(213, 182, 106)"/>
<rect x="196.0" y="169.3" width="14.0" height="1.38" fill="rgb(210, 179, 102)"/>
<rect x="210.0" y="169.3" width="13.8" height="1.38" fill="rgb(213, 182, 106)"/>
<rect x="223.8" y="169.3" width="17.1" height="1.38" fill="rgb(234, 205, 137)"/>
<rect x="240.8" y="169.3" width="7.9" height="1.38" fill="rgb(229, 200, 130)"/>
<rect x="248.7" y="169.3" width="8.2" height="1.38" fill="rgb(237, 208, 142)"/>
<rect x="257.0" y="169.3" width="7.4" height="1.38" fill="rgb(229, 199, 129)"/>
<rect x="264.3" y="169.3" width="8.6" height="1.38" fill="rgb(219, 189, 115)"/>
<rect x="272.9" y="169.3" width="13.0" height="1.38" fill="rgb(213, 182, 105)"/>
<rect x="6.0" y="170.7" width="9.8" height="1.39" fill="rgb(233, 204, 136)"/>
<rect x="15.8" y="170.7" width="12.9" height="1.39" fill="rgb(234, 205, 137)"/>
<rect x="28.7" y="170.7" width="9.5" height="1.39" fill="rgb(215, 184, 109)"/>
<rect x="38.2" y="170.7" width="14.4" height="1.39" fill="rgb(233, 203, 135)"/>
<rect x="52.6" y="170.7" width="7.7" height="1.39" fill="rgb(213, 182, 106)"/>
<rect x="60.3" y="170.7" width="12.1" height="1.39" fill="rgb(215, 184, 109)"/>
<rect x="72.4" y="170.7" width="13.9" height="1.39" fill="rgb(236, 207, 140)"/>
<rect x="86.2" y="170.7" width="16.5" height="1.39" fill="rgb(229, 199, 129)"/>
<rect x="102.8" y="170.7" width="7.0" height="1.39" fill="rgb(231, 202, 133)"/>
<rect x="109.8" y="170.7" width="16.4" height="1.39" fill="rgb(219, 189, 115)"/>
<rect x="126.2" y="170.7" width="7.0" height="1.39" fill="rgb(235, 206, 139)"/>
<rect x="133.3" y="170.7" width="12.4" height="1.39" fill="rgb(212, 181, 104)"/>
<rect x="145.6" y="170.7" width="17.7" height="1.39" fill="rgb(219, 189, 115)"/>
<rect x="163.3" y="170.7" width="6.2" height="1.39" fill="rgb(218, 187, 113)"/>
<rect x="169.5" y="170.7" width="18.9" height="1.39" fill="rgb(230, 201, 132)"/>
<rect x="188.4" y="170.7" width="16.5" height="1.39" fill="rgb(213, 182, 105)"/>
<rect x="204.9" y="170.7" width="15.3" height="1.39" fill="rgb(219, 188, 115)"/>
<rect x="220.2" y="170.7" width="10.1" height="1.39" fill="rgb(229, 200, 130)"/>
<rect x="230.4" y="170.7" width="17.7" height="1.39" fill="rgb(237, 208, 141)"/>
<rect x="248.1" y="170.7" width="11.6" height="1.39" fill="rgb(233, 203, 135)"/>
<rect x="259.7" y="170.7" width="18.1" height="1.39" fill="rgb(214, 183, 107)"/>
<rect x="277.7" y="170.7" width="13.8" height="1.39" fill="rgb(216, 186, 111)"/>
<rect x="6.0" y="172.1" width="5.8" height="1.41" fill="rgb(215, 185, 109)"/>
<rect x="11.8" y="172.1" width="14.2" height="1.41" fill="rgb(234, 205, 138)"/>
<rect x="26.0" y="172.1" width="17.8" height="1.41" fill="rgb(212, 180, 104)"/>
<rect x="43.8" y="172.1" width="9.0" height="1.41" fill="rgb(213, 182, 106)"/>
<rect x="52.8" y="172.1" width="10.3" height="1.41" fill="rgb(233, 204, 136)"/>
<rect x="63.1" y="172.1" width="13.4" height="1.41" fill="rgb(217, 186, 112)"/>
<rect x="76.5" y="172.1" width="12.8" height="1.41" fill="rgb(235, 206, 139)"/>
<rect x="89.3" y="172.1" width="10.5" height="1.41" fill="rgb(237, 209, 142)"/>
<rect x="99.8" y="172.1" width="13.4" height="1.41" fill="rgb(231, 202, 132)"/>
<rect x="113.2" y="172.1" width="6.4" height="1.41" fill="rgb(218, 187, 113)"/>
<rect x="119.6" y="172.1" width="15.7" height="1.41" fill="rgb(217, 186, 111)"/>
<rect x="135.3" y="172.1" width="12.5" height="1.41" fill="rgb(234, 205, 137)"/>
<rect x="147.8" y="172.1" width="19.1" height="1.41" fill="rgb(235, 206, 138)"/>
<rect x="166.9" y="172.1" width="15.8" height="1.41" fill="rgb(218, 187, 113)"/>
<rect x="182.6" y="172.1" width="13.9" height="1.41" fill="rgb(232, 202, 134)"/>
<rect x="196.6" y="172.1" width="10.4" height="1.41" fill="rgb(218, 188, 114)"/>
<rect x="206.9" y="172.1" width="8.5" height="1.41" fill="rgb(219, 189, 115)"/>
<rect x="215.4" y="172.1" width="5.3" height="1.41" fill="rgb(231, 201, 132)"/>
<rect x="220.7" y="172.1" width="12.6" height="1.41" fill="rgb(215, 185, 109)"/>
<rect x="233.3" y="172.1" width="9.5" height="1.41" fill="rgb(217, 187, 112)"/>
<rect x="242.8" y="172.1" width="14.0" height="1.41" fill="rgb(229, 200, 130)"/>
<rect x="256.8" y="172.1" width="5.5" height="1.41" fill="rgb(212, 181, 105)"/>
<rect x="262.3" y="172.1" width="11.6" height="1.41" fill="rgb(213, 182, 106)"/>
<rect x="273.9" y="172.1" width="17.5" height="1.41" fill="rgb(232, 202, 134)"/>
<rect x="6.0" y="173.5" width="9.0" height="1.42" fill="rgb(219, 188, 115)"/>
<rect x="15.0" y="173.5" width="16.9" height="1.42" fill="rgb(233, 204, 136)"/>
<rect x="31.9" y="173.5" width="13.5" height="1.42" fill="rgb(230, 201, 131)"/>
<rect x="45.4" y="173.5" width="18.1" height="1.42" fill="rgb(219, 188, 115)"/>
<rect x="63.5" y="173.5" width="5.7" height="1.42" fill="rgb(217, 186, 112)"/>
<rect x="69.2" y="173.5" width="6.1" height="1.42" fill="rgb(219, 189, 115)"/>
<rect x="75.3" y="173.5" width="13.1" height="1.42" fill="rgb(218, 188, 113)"/>
<rect x="88.4" y="173.5" width="8.1" height="1.42" fill="rgb(236, 207, 140)"/>
<rect x="96.5" y="173.5" width="7.8" height="1.42" fill="rgb(228, 199, 128)"/>
<rect x="104.3" y="173.5" width="14.2" height="1.42" fill="rgb(235, 206, 138)"/>
<rect x="118.4" y="173.5" width="5.4" height="1.42" fill="rgb(235, 206, 139)"/>
<rect x="123.8" y="173.5" width="11.9" height="1.42" fill="rgb(229, 200, 130)"/>
<rect x="135.7" y="173.5" width="19.4" height="1.42" fill="rgb(230, 200, 131)"/>
<rect x="155.1" y="173.5" width="5.9" height="1.42" fill="rgb(236, 208, 141)"/>
<rect x="160.9" y="173.5" width="18.4" height="1.42" fill="rgb(235, 206, 138)"/>
<rect x="179.3" y="173.5" width="9.1" height="1.42" fill="rgb(234, 205, 138)"/>
<rect x="188.4" y="173.5" width="18.3" height="1.42" fill="rgb(230, 201, 132)"/>
<rect x="206.7" y="173.5" width="18.4" height="1.42" fill="rgb(219, 188, 114)"/>
<rect x="225.1" y="173.5" width="12.5" height="1.42" fill="rgb(217, 186, 112)"/>
<rect x="237.6" y="173.5" width="8.6" height="1.42" fill="rgb(210, 179, 101)"/>
<rect x="246.2" y="173.5" width="15.9" height="1.42" fill="rgb(229, 200, 130)"/>
<rect x="262.0" y="173.5" width="10.8" height="1.42" fill="rgb(216, 185, 110)"/>
<rect x="272.8" y="173.5" width="17.3" height="1.42" fill="rgb(232, 203, 135)"/>
<rect x="6.0" y="174.9" width="12.9" height="1.44" fill="rgb(211, 180, 103)"/>
<rect x="18.9" y="174.9" width="11.6" height="1.44" fill="rgb(214, 183, 107)"/>
<rect x="30.5" y="174.9" width="9.7" height="1.44" fill="rgb(216, 185, 110)"/>
<rect x="40.2" y="174.9" width="13.7" height="1.44" fill="rgb(218, 188, 113)"/>
<rect x="53.8" y="174.9" width="5.7" height="1.44" fill="rgb(213, 182, 106)"/>
<rect x="59.6" y="174.9" width="7.6" height="1.44" fill="rgb(212, 181, 105)"/>
<rect x="67.2" y="174.9" width="5.8" height="1.44" fill="rgb(213, 181, 105)"/>
<rect x="73.0" y="174.9" width="14.4" height="1.44" fill="rgb(212, 181, 104)"/>
<rect x="87.3" y="174.9" width="6.3" height="1.44" fill="rgb(229, 200, 130)"/>
<rect x="93.6" y="174.9" width="18.9" height="1.44" fill="rgb(211, 179, 102)"/>
<rect x="112.5" y="174.9" width="16.1" height="1.44" fill="rgb(229, 199, 129)"/>
<rect x="128.6" y="174.9" width="8.3" height="1.44" fill="rgb(219, 189, 115)"/>
<rect x="136.9" y="174.9" width="18.9" height="1.44" fill="rgb(211, 180, 103)"/>
<rect x="155.8" y="174.9" width="14.3" height="1.44" fill="rgb(232, 203, 135)"/>
<rect x="170.1" y="174.9" width="7.2" height="1.44" fill="rgb(217, 186, 111)"/>
<rect x="177.3" y="174.9" width="10.1" height="1.44" fill="rgb(228, 198, 128)"/>
<rect x="187.5" y="174.9" width="9.0" height="1.44" fill="rgb(228, 198, 128)"/>
<rect x="196.4" y="174.9" width="16.2" height="1.44" fill="rgb(235, 206, 139)"/>
<rect x="212.6" y="174.9" width="13.9" height="1.44" fill="rgb(236, 207, 140)"/>
<rect x="226.5" y="174.9" width="14.1" height="1.44" fill="rgb(212, 180, 104)"/>
<rect x="240.6" y="174.9" width="5.8" height="1.44" fill="rgb(216, 185, 110)"/>
<rect x="246.4" y="174.9" width="15.4" height="1.44" fill="rgb(212, 181, 105)"/>
<rect x="261.8" y="174.9" width="17.1" height="1.44" fill="rgb(229, 200, 130)"/>
<rect x="278.9" y="174.9" width="5.4" height="1.44" fill="rgb(217, 186, 111)"/>
<rect x="6.0" y="176.4" width="16.1" height="1.46" fill="rgb(219, 189, 115)"/>
<rect x="22.1" y="176.4" width="12.4" height="1.46" fill="rgb(234, 206, 138)"/>
<rect x="34.5" y="176.4" width="17.2" height="1.46" fill="rgb(233, 204, 136)"/>
<rect x="51.8" y="176.4" width="19.1" height="1.46" fill="rgb(233, 204, 136)"/>
<rect x="70.8" y="176.4" width="7.7" height="1.46" fill="rgb(210, 179, 101)"/>
<rect x="78.5" y="176.4" width="8.7" height="1.46" fill="rgb(218, 188, 114)"/>
<rect x="87.2" y="176.4" width="14.5" height="1.46" fill="rgb(215, 184, 108)"/>
<rect x="101.7" y="176.4" width="19.6" height="1.46" fill="rgb(213, 182, 106)"/>
<rect x="121.3" y="176.4" width="10.5" height="1.46" fill="rgb(237, 208, 141)"/>
<rect x="131.7" y="176.4" width="18.2" height="1.46" fill="rgb(215, 184, 109)"/>
<rect x="149.9" y="176.4" width="14.6" height="1.46" fill="rgb(230, 200, 131)"/>
<rect x="164.5" y="176.4" width="9.1" height="1.46" fill="rgb(216, 185, 110)"/>
<rect x="173.7" y="176.4" width="18.0" height="1.46" fill="rgb(210, 179, 101)"/>
<rect x="191.7" y="176.4" width="7.2" height="1.46" fill="rgb(216, 185, 110)"/>
<rect x="198.9" y="176.4" width="10.1" height="1.46" fill="rgb(211, 180, 102)"/>
<rect x="209.0" y="176.4" width="11.8" height="1.46" fill="rgb(229, 200, 130)"/>
<rect x="220.8" y="176.4" width="11.7" height="1.46" fill="rgb(233, 204, 136)"/>
<rect x="232.5" y="176.4" width="7.2" height="1.46" fill="rgb(234, 205, 137)"/>
<rect x="239.7" y="176.4" width="15.4" height="1.46" fill="rgb(217, 186, 111)"/>
<rect x="255.0" y="176.4" width="16.2" height="1.46" fill="rgb(212, 181, 105)"/>
<rect x="271.2" y="176.4" width="19.3" height="1.46" fill="rgb(234, 205, 137)"/>
<rect x="6.0" y="177.8" width="10.4" height="1.47" fill="rgb(216, 185, 111)"/>
<rect x="16.4" y="177.8" width="8.1" height="1.47" fill="rgb(218, 187, 113)"/>
<rect x="24.6" y="177.8" width="14.9" height="1.47" fill="rgb(216, 185, 110)"/>
<rect x="39.5" y="177.8" width="19.6" height="1.47" fill="rgb(235, 206, 138)"/>
<rect x="59.1" y="177.8" width="11.7" height="1.47" fill="rgb(218, 188, 114)"/>
<rect x="70.8" y="177.8" width="18.6" height="1.47" fill="rgb(230, 200, 131)"/>
<rect x="89.4" y="177.8" width="11.0" height="1.47" fill="rgb(219, 189, 115)"/>
<rect x="100.4" y="177.8" width="17.7" height="1.47" fill="rgb(234, 206, 138)"/>
<rect x="118.1" y="177.8" width="12.6" height="1.47" fill="rgb(232, 203, 134)"/>
<rect x="130.8" y="177.8" width="7.5" height="1.47" fill="rgb(228, 198, 128)"/>
<rect x="138.2" y="177.8" width="8.9" height="1.47" fill="rgb(235, 206, 138)"/>
<rect x="147.1" y="177.8" width="13.9" height="1.47" fill="rgb(236, 207, 140)"/>
<rect x="161.0" y="177.8" width="15.1" height="1.47" fill="rgb(213, 182, 105)"/>
<rect x="176.1" y="177.8" width="14.7" height="1.47" fill="rgb(232, 203, 134)"/>
<rect x="190.8" y="177.8" width="9.2" height="1.47" fill="rgb(211, 179, 102)"/>
<rect x="199.9" y="177.8" width="8.9" height="1.47" fill="rgb(235, 206, 138)"/>
<rect x="208.8" y="177.8" width="14.5" height="1.47" fill="rgb(236, 207, 140)"/>
<rect x="223.3" y="177.8" width="12.4" height="1.47" fill="rgb(213, 182, 106)"/>
<rect x="235.7" y="177.8" width="11.3" height="1.47" fill="rgb(211, 179, 102)"/>
<rect x="247.0" y="177.8" width="10.1" height="1.47" fill="rgb(216, 185, 110)"/>
<rect x="257.2" y="177.8" width="12.5" height="1.47" fill="rgb(219, 189, 115)"/>
<rect x="269.7" y="177.8" width="13.3" height="1.47" fill="rgb(212, 181, 105)"/>
<rect x="282.9" y="177.8" width="19.1" height="1.47" fill="rgb(214, 183, 108)"/>
<rect x="6.0" y="179.3" width="6.9" height="1.49" fill="rgb(233, 204, 136)"/>
<rect x="12.9" y="179.3" width="15.9" height="1.49" fill="rgb(213, 182, 106)"/>
<rect x="28.8" y="179.3" width="17.5" height="1.49" fill="rgb(232, 202, 134)"/>
<rect x="46.3" y="179.3" width="19.2" height="1.49" fill="rgb(210, 178, 101)"/>
<rect x="65.5" y="179.3" width="8.1" height="1.49" fill="rgb(212, 181, 105)"/>
<rect x="73.6" y="179.3" width="14.4" height="1.49" fill="rgb(217, 186, 112)"/>
<rect x="88.0" y="179.3" width="11.0" height="1.49" fill="rgb(219, 189, 115)"/>
<rect x="99.0" y="179.3" width="11.5" height="1.49" fill="rgb(234, 205, 137)"/>
<rect x="110.6" y="179.3" width="15.3" height="1.49" fill="rgb(229, 199, 129)"/>
<rect x="125.8" y="179.3" width="9.9" height="1.49" fill="rgb(237, 208, 142)"/>
<rect x="135.7" y="179.3" width="13.1" height="1.49" fill="rgb(210, 178, 101)"/>
<rect x="148.8" y="179.3" width="19.4" height="1.49" fill="rgb(230, 200, 131)"/>
<rect x="168.2" y="179.3" width="7.3" height="1.49" fill="rgb(211, 180, 103)"/>
<rect x="175.5" y="179.3" width="14.7" height="1.49" fill="rgb(234, 205, 137)"/>
<rect x="190.2" y="179.3" width="15.9" height="1.49" fill="rgb(216, 185, 110)"/>
<rect x="206.1" y="179.3" width="14.7" height="1.49" fill="rgb(232, 203, 135)"/>
<rect x="220.9" y="179.3" width="9.7" height="1.49" fill="rgb(212, 181, 104)"/>
<rect x="230.6" y="179.3" width="12.3" height="1.49" fill="rgb(217, 186, 111)"/>
<rect x="242.9" y="179.3" width="10.9" height="1.49" fill="rgb(237, 209, 142)"/>
<rect x="253.8" y="179.3" width="15.3" height="1.49" fill="rgb(228, 198, 128)"/>
<rect x="269.1" y="179.3" width="15.9" height="1.49" fill="rgb(231, 202, 133)"/>
<rect x="6.0" y="180.8" width="15.1" height="1.51" fill="rgb(232, 203, 135)"/>
<rect x="21.1" y="180.8" width="11.8" height="1.51" fill="rgb(213, 182, 106)"/>
<rect x="32.8" y="180.8" width="10.8" height="1.51" fill="rgb(236, 207, 140)"/>
<rect x="43.6" y="180.8" width="6.3" height="1.51" fill="rgb(235, 207, 139)"/>
<rect x="49.9" y="180.8" width="7.5" height="1.51" fill="rgb(234, 205, 137)"/>
<rect x="57.5" y="180.8" width="5.7" height="1.51" fill="rgb(217, 187, 112)"/>
<rect x="63.2" y="180.8" width="6.5" height="1.51" fill="rgb(230, 201, 131)"/>
<rect x="69.7" y="180.8" width="7.0" height="1.51" fill="rgb(211, 180, 103)"/>
<rect x="76.7" y="180.8" width="8.2" height="1.51" fill="rgb(231, 202, 133)"/>
<rect x="84.9" y="180.8" width="7.7" height="1.51" fill="rgb(235, 207, 139)"/>
<rect x="92.6" y="180.8" width="7.9" height="1.51" fill="rgb(213, 182, 105)"/>
<rect x="100.6" y="180.8" width="18.6" height="1.51" fill="rgb(229, 200, 130)"/>
<rect x="119.2" y="180.8" width="15.6" height="1.51" fill="rgb(212, 181, 104)"/>
<rect x="134.8" y="180.8" width="11.9" height="1.51" fill="rgb(214, 183, 107)"/>
<rect x="146.7" y="180.8" width="9.4" height="1.51" fill="rgb(211, 180, 103)"/>
<rect x="156.1" y="180.8" width="12.4" height="1.51" fill="rgb(215, 184, 108)"/>
<rect x="168.5" y="180.8" width="18.7" height="1.51" fill="rgb(230, 201, 131)"/>
<rect x="187.2" y="180.8" width="7.9" height="1.51" fill="rgb(218, 187, 113)"/>
<rect x="195.1" y="180.8" width="10.2" height="1.51" fill="rgb(234, 205, 137)"/>
<rect x="205.3" y="180.8" width="17.8" height="1.51" fill="rgb(232, 203, 134)"/>
<rect x="223.1" y="180.8" width="20.1" height="1.51" fill="rgb(218, 187, 113)"/>
<rect x="243.2" y="180.8" width="10.8" height="1.51" fill="rgb(219, 189, 115)"/>
<rect x="254.0" y="180.8" width="6.2" height="1.51" fill="rgb(236, 207, 140)"/>
<rect x="260.1" y="180.8" width="6.9" height="1.51" fill="rgb(232, 203, 135)"/>
<rect x="267.0" y="180.8" width="18.6" height="1.51" fill="rgb(217, 187, 112)"/>
<rect x="6.0" y="182.3" width="11.7" height="1.52" fill="rgb(216, 185, 110)"/>
<rect x="17.7" y="182.3" width="18.2" height="1.52" fill="rgb(231, 202, 133)"/>
<rect x="35.9" y="182.3" width="17.0" height="1.52" fill="rgb(217, 186, 111)"/>
<rect x="52.9" y="182.3" width="10.6" height="1.52" fill="rgb(233, 204, 136)"/>
<rect x="63.5" y="182.3" width="17.7" height="1.52" fill="rgb(231, 202, 133)"/>
<rect x="81.2" y="182.3" width="12.8" height="1.52" fill="rgb(233, 203, 135)"/>
<rect x="94.0" y="182.3" width="9.5" height="1.52" fill="rgb(237, 209, 142)"/>
<rect x="103.5" y="182.3" width="15.2" height="1.52" fill="rgb(216, 185, 111)"/>
<rect x="118.7" y="182.3" width="10.2" height="1.52" fill="rgb(229, 199, 129)"/>
<rect x="128.9" y="182.3" width="19.9" height="1.52" fill="rgb(212, 180, 104)"/>
<rect x="148.8" y="182.3" width="6.1" height="1.52" fill="rgb(233, 204, 136)"/>
<rect x="154.9" y="182.3" width="6.3" height="1.52" fill="rgb(229, 199, 129)"/>
<rect x="161.1" y="182.3" width="6.2" height="1.52" fill="rgb(234, 205, 137)"/>
<rect x="167.3" y="182.3" width="15.2" height="1.52" fill="rgb(234, 205, 137)"/>
<rect x="182.6" y="182.3" width="14.8" height="1.52" fill="rgb(217, 187, 112)"/>
<rect x="197.3" y="182.3" width="15.4" height="1.52" fill="rgb(234, 205, 137)"/>
<rect x="212.7" y="182.3" width="8.1" height="1.52" fill="rgb(211, 180, 102)"/>
<rect x="220.8" y="182.3" width="11.7" height="1.52" fill="rgb(210, 179, 102)"/>
<rect x="232.5" y="182.3" width="15.2" height="1.52" fill="rgb(236, 207, 141)"/>
<rect x="247.7" y="182.3" width="7.6" height="1.52" fill="rgb(233, 204, 136)"/>
<rect x="255.3" y="182.3" width="9.3" height="1.52" fill="rgb(229, 200, 130)"/>
<rect x="264.6" y="182.3" width="6.0" height="1.52" fill="rgb(215, 184, 109)"/>
<rect x="270.7" y="182.3" width="15.0" height="1.52" fill="rgb(215, 184, 108)"/>
<rect x="6.0" y="183.8" width="13.3" height="1.54" fill="rgb(212, 181, 104)"/>
<rect x="19.3" y="183.8" width="11.8" height="1.54" fill="rgb(232, 203, 134)"/>
<rect x="31.1" y="183.8" width="5.8" height="1.54" fill="rgb(233, 204, 136)"/>
<rect x="36.9" y="183.8" width="20.3" height="1.54" fill="rgb(215, 184, 108)"/>
<rect x="57.2" y="183.8" width="11.7" height="1.54" fill="rgb(219, 188, 114)"/>
<rect x="68.9" y="183.8" width="12.6" height="1.54" fill="rgb(213, 182, 106)"/>
<rect x="81.5" y="183.8" width="11.9" height="1.54" fill="rgb(213, 182, 105)"/>
<rect x="93.4" y="183.8" width="7.4" height="1.54" fill="rgb(217, 187, 112)"/>
<rect x="100.8" y="183.8" width="7.4" height="1.54" fill="rgb(228, 198, 128)"/>
<rect x="108.1" y="183.8" width="16.2" height="1.54" fill="rgb(215, 184, 109)"/>
<rect x="124.4" y="183.8" width="16.6" height="1.54" fill="rgb(216, 185, 110)"/>
<rect x="141.0" y="183.8" width="16.7" height="1.54" fill="rgb(212, 181, 105)"/>
<rect x="157.7" y="183.8" width="6.8" height="1.54" fill="rgb(232, 203, 134)"/>
<rect x="164.5" y="183.8" width="19.4" height="1.54" fill="rgb(237, 208, 141)"/>
<rect x="183.9" y="183.8" width="6.3" height="1.54" fill="rgb(219, 189, 115)"/>
<rect x="190.2" y="183.8" width="5.8" height="1.54" fill="rgb(216, 185, 110)"/>
<rect x="196.0" y="183.8" width="10.2" height="1.54" fill="rgb(210, 179, 101)"/>
<rect x="206.2" y="183.8" width="18.0" height="1.54" fill="rgb(216, 186, 111)"/>
<rect x="224.2" y="183.8" width="19.7" height="1.54" fill="rgb(232, 203, 135)"/>
<rect x="243.8" y="183.8" width="8.0" height="1.54" fill="rgb(216, 185, 110)"/>
<rect x="251.9" y="183.8" width="15.1" height="1.54" fill="rgb(232, 203, 135)"/>
<rect x="267.0" y="183.8" width="17.1" height="1.54" fill="rgb(237, 208, 142)"/>
<rect x="6.0" y="185.4" width="17.3" height="1.56" fill="rgb(230, 201, 132)"/>
<rect x="23.3" y="185.4" width="6.5" height="1.56" fill="rgb(236, 207, 141)"/>
<rect x="29.9" y="185.4" width="16.5" height="1.56" fill="rgb(211, 180, 103)"/>
<rect x="46.3" y="185.4" width="14.6" height="1.56" fill="rgb(233, 204, 136)"/>
<rect x="60.9" y="185.4" width="20.2" height="1.56" fill="rgb(216, 185, 110)"/>
<rect x="81.1" y="185.4" width="15.8" height="1.56" fill="rgb(211, 180, 103)"/>
<rect x="96.9" y="185.4" width="9.8" height="1.56" fill="rgb(216, 186, 111)"/>
<rect x="106.8" y="185.4" width="9.6" height="1.56" fill="rgb(214, 183, 107)"/>
<rect x="116.4" y="185.4" width="17.8" height="1.56" fill="rgb(217, 186, 111)"/>
<rect x="134.2" y="185.4" width="7.7" height="1.56" fill="rgb(217, 186, 111)"/>
<rect x="141.9" y="185.4" width="18.3" height="1.56" fill="rgb(231, 202, 133)"/>
<rect x="160.3" y="185.4" width="6.9" height="1.56" fill="rgb(235, 207, 139)"/>
<rect x="167.1" y="185.4" width="8.6" height="1.56" fill="rgb(216, 186, 111)"/>
<rect x="175.7" y="185.4" width="6.5" height="1.56" fill="rgb(232, 203, 134)"/>
<rect x="182.2" y="185.4" width="8.7" height="1.56" fill="rgb(233, 204, 136)"/>
<rect x="190.9" y="185.4" width="5.7" height="1.56" fill="rgb(232, 203, 134)"/>
<rect x="196.6" y="185.4" width="6.9" height="1.56" fill="rgb(235, 206, 139)"/>
<rect x="203.6" y="185.4" width="9.1" height="1.56" fill="rgb(236, 208, 141)"/>
<rect x="212.6" y="185.4" width="13.4" height="1.56" fill="rgb(233, 203, 135)"/>
<rect x="226.1" y="185.4" width="8.6" height="1.56" fill="rgb(218, 187, 113)"/>
<rect x="234.7" y="185.4" width="8.3" height="1.56" fill="rgb(231, 202, 133)"/>
<rect x="243.0" y="185.4" width="14.0" height="1.56" fill="rgb(235, 206, 139)"/>
<rect x="257.0" y="185.4" width="18.4" height="1.56" fill="rgb(219, 189, 115)"/>
<rect x="275.5" y="185.4" width="20.5" height="1.56" fill="rgb(236, 207, 140)"/>
<rect x="6.0" y="186.9" width="11.2" height="1.58" fill="rgb(235, 207, 139)"/>
<rect x="17.2" y="186.9" width="8.0" height="1.58" fill="rgb(216, 185, 110)"/>
<rect x="25.2" y="186.9" width="13.5" height="1.58" fill="rgb(219, 188, 114)"/>
<rect x="38.7" y="186.9" width="8.7" height="1.58" fill="rgb(233, 204, 136)"/>
<rect x="47.4" y="186.9" width="8.9" height="1.58" fill="rgb(232, 203, 134)"/>
<rect x="56.3" y="186.9" width="19.9" height="1.58" fill="rgb(217, 186, 112)"/>
<rect x="76.2" y="186.9" width="6.2" height="1.58" fill="rgb(210, 178, 101)"/>
<rect x="82.4" y="186.9" width="11.3" height="1.58" fill="rgb(219, 189, 115)"/>
<rect x="93.8" y="186.9" width="14.0" height="1.58" fill="rgb(232, 203, 135)"/>
<rect x="107.8" y="186.9" width="18.4" height="1.58" fill="rgb(211, 180, 103)"/>
<rect x="126.2" y="186.9" width="15.3" height="1.58" fill="rgb(212, 181, 105)"/>
<rect x="141.5" y="186.9" width="7.0" height="1.58" fill="rgb(233, 204, 136)"/>
<rect x="148.5" y="186.9" width="15.3" height="1.58" fill="rgb(229, 200, 130)"/>
<rect x="163.8" y="186.9" width="18.4" height="1.58" fill="rgb(237, 209, 142)"/>
<rect x="182.2" y="186.9" width="20.6" height="1.58" fill="rgb(218, 187, 113)"/>
<rect x="202.8" y="186.9" width="19.8" height="1.58" fill="rgb(228, 199, 128)"/>
<rect x="222.6" y="186.9" width="14.0" height="1.58" fill="rgb(211, 180, 103)"/>
<rect x="236.6" y="186.9" width="6.4" height="1.58" fill="rgb(228, 199, 128)"/>
<rect x="242.9" y="186.9" width="7.8" height="1.58" fill="rgb(210, 179, 101)"/>
<rect x="250.7" y="186.9" width="15.8" height="1.58" fill="rgb(233, 204, 136)"/>
<rect x="266.6" y="186.9" width="12.3" height="1.58" fill="rgb(215, 184, 108)"/>
<rect x="278.9" y="186.9" width="11.2" height="1.58" fill="rgb(229, 199, 129)"/>
<rect x="6.0" y="188.5" width="13.0" height="1.59" fill="rgb(215, 184, 109)"/>
<rect x="19.0" y="188.5" width="17.9" height="1.59" fill="rgb(215, 184, 108)"/>
<rect x="36.9" y="188.5" width="19.5" height="1.59" fill="rgb(218, 187, 113)"/>
<rect x="56.4" y="188.5" width="18.3" height="1.59" fill="rgb(210, 179, 101)"/>
<rect x="74.8" y="188.5" width="18.8" height="1.59" fill="rgb(212, 181, 104)"/>
<rect x="93.6" y="188.5" width="20.2" height="1.59" fill="rgb(236, 207, 140)"/>
<rect x="113.8" y="188.5" width="15.2" height="1.59" fill="rgb(237, 209, 142)"/>
<rect x="129.0" y="188.5" width="10.6" height="1.59" fill="rgb(215, 184, 108)"/>
<rect x="139.6" y="188.5" width="15.2" height="1.59" fill="rgb(216, 185, 111)"/>
<rect x="154.8" y="188.5" width="16.8" height="1.59" fill="rgb(212, 181, 105)"/>
<rect x="171.7" y="188.5" width="14.1" height="1.59" fill="rgb(215, 184, 109)"/>
<rect x="185.8" y="188.5" width="8.0" height="1.59" fill="rgb(232, 202, 134)"/>
<rect x="193.7" y="188.5" width="8.0" height="1.59" fill="rgb(233, 204, 136)"/>
<rect x="201.8" y="188.5" width="10.2" height="1.59" fill="rgb(217, 186, 112)"/>
<rect x="211.9" y="188.5" width="7.3" height="1.59" fill="rgb(237, 208, 141)"/>
<rect x="219.3" y="188.5" width="7.4" height="1.59" fill="rgb(213, 182, 106)"/>
<rect x="226.7" y="188.5" width="17.6" height="1.59" fill="rgb(214, 183, 107)"/>
<rect x="244.3" y="188.5" width="18.4" height="1.59" fill="rgb(217, 186, 112)"/>
<rect x="262.7" y="188.5" width="8.7" height="1.59" fill="rgb(232, 203, 134)"/>
<rect x="271.4" y="188.5" width="9.7" height="1.59" fill="rgb(210, 179, 102)"/>
<rect x="281.1" y="188.5" width="7.2" height="1.59" fill="rgb(232, 202, 134)"/>
<rect x="6.0" y="190.1" width="8.2" height="1.61" fill="rgb(229, 199, 130)"/>
<rect x="14.2" y="190.1" width="15.5" height="1.61" fill="rgb(236, 207, 140)"/>
<rect x="29.7" y="190.1" width="10.9" height="1.61" fill="rgb(215, 184, 109)"/>
<rect x="40.6" y="190.1" width="17.8" height="1.61" fill="rgb(229, 200, 130)"/>
<rect x="58.4" y="190.1" width="12.4" height="1.61" fill="rgb(230, 200, 131)"/>
<rect x="70.8" y="190.1" width="14.5" height="1.61" fill="rgb(211, 180, 103)"/>
<rect x="85.3" y="190.1" width="13.7" height="1.61" fill="rgb(212, 181, 105)"/>
<rect x="99.0" y="190.1" width="8.7" height="1.61" fill="rgb(211, 180, 103)"/>
<rect x="107.7" y="190.1" width="19.3" height="1.61" fill="rgb(235, 206, 139)"/>
<rect x="127.0" y="190.1" width="8.4" height="1.61" fill="rgb(213, 182, 106)"/>
<rect x="135.4" y="190.1" width="16.5" height="1.61" fill="rgb(214, 183, 107)"/>
<rect x="151.9" y="190.1" width="8.8" height="1.61" fill="rgb(213, 181, 105)"/>
<rect x="160.8" y="190.1" width="13.7" height="1.61" fill="rgb(214, 183, 108)"/>
<rect x="174.4" y="190.1" width="11.0" height="1.61" fill="rgb(236, 207, 140)"/>
<rect x="185.5" y="190.1" width="18.9" height="1.61" fill="rgb(228, 199, 129)"/>
<rect x="204.4" y="190.1" width="12.0" height="1.61" fill="rgb(229, 199, 129)"/>
<rect x="216.4" y="190.1" width="15.9" height="1.61" fill="rgb(218, 187, 113)"/>
<rect x="232.3" y="190.1" width="18.4" height="1.61" fill="rgb(228, 198, 128)"/>
<rect x="250.7" y="190.1" width="16.5" height="1.61" fill="rgb(216, 185, 110)"/>
<rect x="267.2" y="190.1" width="20.0" height="1.61" fill="rgb(218, 188, 114)"/>
<rect x="6.0" y="191.7" width="16.8" height="1.63" fill="rgb(235, 206, 139)"/>
<rect x="22.8" y="191.7" width="19.1" height="1.63" fill="rgb(217, 186, 111)"/>
<rect x="41.9" y="191.7" width="7.4" height="1.63" fill="rgb(232, 203, 134)"/>
<rect x="49.3" y="191.7" width="6.2" height="1.63" fill="rgb(219, 189, 115)"/>
<rect x="55.5" y="191.7" width="20.7" height="1.63" fill="rgb(213, 182, 106)"/>
<rect x="76.1" y="191.7" width="8.4" height="1.63" fill="rgb(230, 201, 131)"/>
<rect x="84.5" y="191.7" width="18.3" height="1.63" fill="rgb(219, 189, 115)"/>
<rect x="102.8" y="191.7" width="20.0" height="1.63" fill="rgb(217, 186, 112)"/>
<rect x="122.8" y="191.7" width="18.7" height="1.63" fill="rgb(233, 204, 135)"/>
<rect x="141.5" y="191.7" width="16.6" height="1.63" fill="rgb(216, 185, 110)"/>
<rect x="158.1" y="191.7" width="7.2" height="1.63" fill="rgb(219, 189, 115)"/>
<rect x="165.3" y="191.7" width="7.7" height="1.63" fill="rgb(233, 204, 136)"/>
<rect x="173.0" y="191.7" width="17.5" height="1.63" fill="rgb(218, 188, 114)"/>
<rect x="190.4" y="191.7" width="12.0" height="1.63" fill="rgb(214, 183, 107)"/>
<rect x="202.5" y="191.7" width="9.3" height="1.63" fill="rgb(218, 187, 113)"/>
<rect x="211.7" y="191.7" width="14.6" height="1.63" fill="rgb(229, 200, 130)"/>
<rect x="226.3" y="191.7" width="18.5" height="1.63" fill="rgb(234, 206, 138)"/>
<rect x="244.8" y="191.7" width="15.0" height="1.63" fill="rgb(216, 185, 110)"/>
<rect x="259.7" y="191.7" width="20.3" height="1.63" fill="rgb(231, 202, 133)"/>
<rect x="280.0" y="191.7" width="9.5" height="1.63" fill="rgb(235, 206, 138)"/>
<rect x="6.0" y="193.3" width="18.9" height="1.65" fill="rgb(236, 207, 140)"/>
<rect x="24.9" y="193.3" width="18.9" height="1.65" fill="rgb(216, 186, 111)"/>
<rect x="43.8" y="193.3" width="8.1" height="1.65" fill="rgb(230, 201, 131)"/>
<rect x="51.9" y="193.3" width="12.4" height="1.65" fill="rgb(216, 185, 110)"/>
<rect x="64.3" y="193.3" width="14.0" height="1.65" fill="rgb(216, 186, 111)"/>
<rect x="78.3" y="193.3" width="8.9" height="1.65" fill="rgb(217, 187, 112)"/>
<rect x="87.2" y="193.3" width="12.3" height="1.65" fill="rgb(235, 206, 139)"/>
<rect x="99.6" y="193.3" width="20.3" height="1.65" fill="rgb(211, 180, 103)"/>
<rect x="119.9" y="193.3" width="19.5" height="1.65" fill="rgb(219, 189, 115)"/>
<rect x="139.4" y="193.3" width="15.8" height="1.65" fill="rgb(237, 208, 141)"/>
<rect x="155.2" y="193.3" width="15.5" height="1.65" fill="rgb(213, 182, 106)"/>
<rect x="170.6" y="193.3" width="9.7" height="1.65" fill="rgb(215, 184, 109)"/>
<rect x="180.3" y="193.3" width="20.5" height="1.65" fill="rgb(229, 199, 129)"/>
<rect x="200.9" y="193.3" width="11.2" height="1.65" fill="rgb(218, 188, 114)"/>
<rect x="212.1" y="193.3" width="15.0" height="1.65" fill="rgb(228, 199, 129)"/>
<rect x="227.1" y="193.3" width="15.0" height="1.65" fill="rgb(215, 184, 109)"/>
<rect x="242.0" y="193.3" width="13.7" height="1.65" fill="rgb(237, 208, 141)"/>
<rect x="255.8" y="193.3" width="14.8" height="1.65" fill="rgb(230, 201, 131)"/>
<rect x="270.5" y="193.3" width="7.2" height="1.65" fill="rgb(236, 207, 140)"/>
<rect x="277.7" y="193.3" width="15.3" height="1.65" fill="rgb(213, 182, 106)"/>
<rect x="6.0" y="195.0" width="9.0" height="1.67" fill="rgb(232, 203, 134)"/>
<rect x="15.0" y="195.0" width="14.4" height="1.67" fill="rgb(232, 203, 135)"/>
<rect x="29.4" y="195.0" width="10.7" height="1.67" fill="rgb(216, 185, 110)"/>
<rect x="40.1" y="195.0" width="8.8" height="1.67" fill="rgb(237, 209, 142)"/>
<rect x="48.9" y="195.0" width="12.0" height="1.67" fill="rgb(229, 200, 130)"/>
<rect x="60.9" y="195.0" width="20.7" height="1.67" fill="rgb(233, 204, 136)"/>
<rect x="81.7" y="195.0" width="13.5" height="1.67" fill="rgb(236, 208, 141)"/>
<rect x="95.2" y="195.0" width="9.2" height="1.67" fill="rgb(212, 181, 104)"/>
<rect x="104.4" y="195.0" width="8.3" height="1.67" fill="rgb(213, 182, 106)"/>
<rect x="112.7" y="195.0" width="11.3" height="1.67" fill="rgb(214, 183, 108)"/>
<rect x="124.0" y="195.0" width="18.9" height="1.67" fill="rgb(235, 206, 139)"/>
<rect x="142.9" y="195.0" width="7.6" height="1.67" fill="rgb(210, 178, 101)"/>
<rect x="150.5" y="195.0" width="16.4" height="1.67" fill="rgb(215, 185, 109)"/>
<rect x="166.9" y="195.0" width="16.3" height="1.67" fill="rgb(213, 182, 105)"/>
<rect x="183.2" y="195.0" width="15.5" height="1.67" fill="rgb(236, 207, 140)"/>
<rect x="198.7" y="195.0" width="13.9" height="1.67" fill="rgb(230, 201, 132)"/>
<rect x="212.6" y="195.0" width="15.7" height="1.67" fill="rgb(215, 185, 109)"/>
<rect x="228.3" y="195.0" width="7.5" height="1.67" fill="rgb(235, 206, 139)"/>
<rect x="235.8" y="195.0" width="15.0" height="1.67" fill="rgb(231, 202, 133)"/>
<rect x="250.8" y="195.0" width="21.4" height="1.67" fill="rgb(215, 185, 109)"/>
<rect x="272.1" y="195.0" width="18.1" height="1.67" fill="rgb(216, 185, 110)"/>
<rect x="6.0" y="196.7" width="13.0" height="1.69" fill="rgb(230, 201, 132)"/>
<rect x="19.0" y="196.7" width="11.4" height="1.69" fill="rgb(231, 202, 133)"/>
<rect x="30.5" y="196.7" width="14.6" height="1.69" fill="rgb(234, 205, 137)"/>
<rect x="45.1" y="196.7" width="6.0" height="1.69" fill="rgb(231, 202, 133)"/>
<rect x="51.1" y="196.7" width="10.6" height="1.69" fill="rgb(236, 207, 140)"/>
<rect x="61.7" y="196.7" width="12.7" height="1.69" fill="rgb(233, 204, 136)"/>
<rect x="74.4" y="196.7" width="7.3" height="1.69" fill="rgb(231, 201, 132)"/>
<rect x="81.7" y="196.7" width="19.2" height="1.69" fill="rgb(210, 179, 101)"/>
<rect x="100.9" y="196.7" width="9.1" height="1.69" fill="rgb(236, 208, 141)"/>
<rect x="110.0" y="196.7" width="20.9" height="1.69" fill="rgb(219, 189, 115)"/>
<rect x="130.9" y="196.7" width="14.8" height="1.69" fill="rgb(230, 201, 132)"/>
<rect x="145.7" y="196.7" width="14.3" height="1.69" fill="rgb(233, 204, 136)"/>
<rect x="160.0" y="196.7" width="21.6" height="1.69" fill="rgb(231, 202, 133)"/>
<rect x="181.6" y="196.7" width="11.5" height="1.69" fill="rgb(232, 203, 134)"/>
<rect x="193.2" y="196.7" width="6.1" height="1.69" fill="rgb(214, 183, 108)"/>
<rect x="199.2" y="196.7" width="7.5" height="1.69" fill="rgb(233, 203, 135)"/>
<rect x="206.7" y="196.7" width="16.1" height="1.69" fill="rgb(211, 179, 102)"/>
<rect x="222.8" y="196.7" width="21.1" height="1.69" fill="rgb(232, 202, 134)"/>
<rect x="243.8" y="196.7" width="18.0" height="1.69" fill="rgb(234, 206, 138)"/>
<rect x="261.8" y="196.7" width="17.6" height="1.69" fill="rgb(218, 187, 113)"/>
<rect x="279.4" y="196.7" width="10.9" height="1.69" fill="rgb(211, 180, 103)"/>
<rect x="6.0" y="198.3" width="14.1" height="1.71" fill="rgb(213, 182, 106)"/>
<rect x="20.1" y="198.3" width="10.6" height="1.71" fill="rgb(236, 207, 140)"/>
<rect x="30.7" y="198.3" width="21.6" height="1.71" fill="rgb(234, 205, 137)"/>
<rect x="52.3" y="198.3" width="14.2" height="1.71" fill="rgb(214, 184, 108)"/>
<rect x="66.5" y="198.3" width="8.9" height="1.71" fill="rgb(219, 188, 115)"/>
<rect x="75.5" y="198.3" width="14.9" height="1.71" fill="rgb(216, 185, 110)"/>
<rect x="90.3" y="198.3" width="21.7" height="1.71" fill="rgb(213, 181, 105)"/>
<rect x="112.0" y="198.3" width="6.1" height="1.71" fill="rgb(216, 186, 111)"/>
<rect x="118.1" y="198.3" width="16.9" height="1.71" fill="rgb(210, 179, 102)"/>
<rect x="135.0" y="198.3" width="12.2" height="1.71" fill="rgb(214, 183, 107)"/>
<rect x="147.3" y="198.3" width="16.5" height="1.71" fill="rgb(218, 187, 113)"/>
<rect x="163.8" y="198.3" width="18.1" height="1.71" fill="rgb(236, 207, 141)"/>
<rect x="181.9" y="198.3" width="20.1" height="1.71" fill="rgb(214, 183, 107)"/>
<rect x="202.0" y="198.3" width="12.5" height="1.71" fill="rgb(218, 188, 113)"/>
<rect x="214.5" y="198.3" width="14.2" height="1.71" fill="rgb(219, 189, 115)"/>
<rect x="228.6" y="198.3" width="7.1" height="1.71" fill="rgb(236, 207, 140)"/>
<rect x="235.8" y="198.3" width="15.7" height="1.71" fill="rgb(213, 182, 106)"/>
<rect x="251.4" y="198.3" width="16.8" height="1.71" fill="rgb(229, 199, 130)"/>
<rect x="268.2" y="198.3" width="9.7" height="1.71" fill="rgb(229, 200, 130)"/>
<rect x="277.9" y="198.3" width="10.2" height="1.71" fill="rgb(211, 180, 103)"/>
<rect x="6.0" y="200.0" width="21.1" height="1.73" fill="rgb(216, 185, 110)"/>
<rect x="27.1" y="200.0" width="13.2" height="1.73" fill="rgb(228, 198, 128)"/>
<rect x="40.3" y="200.0" width="9.5" height="1.73" fill="rgb(233, 204, 136)"/>
<rect x="49.8" y="200.0" width="21.3" height="1.73" fill="rgb(228, 199, 128)"/>
<rect x="71.1" y="200.0" width="9.8" height="1.73" fill="rgb(219, 189, 115)"/>
<rect x="80.8" y="200.0" width="20.8" height="1.73" fill="rgb(216, 186, 111)"/>
<rect x="101.7" y="200.0" width="20.3" height="1.73" fill="rgb(231, 201, 132)"/>
<rect x="122.0" y="200.0" width="15.6" height="1.73" fill="rgb(237, 209, 142)"/>
<rect x="137.6" y="200.0" width="7.1" height="1.73" fill="rgb(234, 205, 138)"/>
<rect x="144.7" y="200.0" width="15.3" height="1.73" fill="rgb(231, 201, 132)"/>
<rect x="160.0" y="200.0" width="20.0" height="1.73" fill="rgb(228, 198, 128)"/>
<rect x="179.9" y="200.0" width="19.8" height="1.73" fill="rgb(218, 187, 113)"/>
<rect x="199.8" y="200.0" width="11.7" height="1.73" fill="rgb(219, 189, 115)"/>
<rect x="211.5" y="200.0" width="20.1" height="1.73" fill="rgb(233, 204, 136)"/>
<rect x="231.5" y="200.0" width="7.8" height="1.73" fill="rgb(231, 202, 133)"/>
<rect x="239.4" y="200.0" width="16.4" height="1.73" fill="rgb(215, 184, 109)"/>
<rect x="255.7" y="200.0" width="20.6" height="1.73" fill="rgb(216, 185, 110)"/>
<rect x="276.3" y="200.0" width="13.4" height="1.73" fill="rgb(230, 201, 131)"/>
<rect x="6.0" y="201.8" width="6.6" height="1.75" fill="rgb(216, 185, 110)"/>
<rect x="12.6" y="201.8" width="8.5" height="1.75" fill="rgb(219, 188, 114)"/>
<rect x="21.1" y="201.8" width="10.4" height="1.75" fill="rgb(214, 183, 107)"/>
<rect x="31.5" y="201.8" width="13.5" height="1.75" fill="rgb(218, 187, 113)"/>
<rect x="45.0" y="201.8" width="11.7" height="1.75" fill="rgb(231, 202, 133)"/>
<rect x="56.7" y="201.8" width="21.4" height="1.75" fill="rgb(217, 186, 111)"/>
<rect x="78.2" y="201.8" width="13.7" height="1.75" fill="rgb(217, 187, 112)"/>
<rect x="91.8" y="201.8" width="13.3" height="1.75" fill="rgb(210, 179, 101)"/>
<rect x="105.1" y="201.8" width="22.1" height="1.75" fill="rgb(233, 204, 136)"/>
<rect x="127.2" y="201.8" width="11.9" height="1.75" fill="rgb(215, 185, 109)"/>
<rect x="139.2" y="201.8" width="14.2" height="1.75" fill="rgb(211, 180, 102)"/>
<rect x="153.4" y="201.8" width="8.0" height="1.75" fill="rgb(214, 183, 107)"/>
<rect x="161.4" y="201.8" width="10.4" height="1.75" fill="rgb(228, 198, 128)"/>
<rect x="171.8" y="201.8" width="17.6" height="1.75" fill="rgb(216, 186, 111)"/>
<rect x="189.3" y="201.8" width="12.3" height="1.75" fill="rgb(213, 181, 105)"/>
<rect x="201.6" y="201.8" width="18.5" height="1.75" fill="rgb(216, 186, 111)"/>
<rect x="220.1" y="201.8" width="16.7" height="1.75" fill="rgb(219, 188, 114)"/>
<rect x="236.8" y="201.8" width="20.7" height="1.75" fill="rgb(229, 200, 130)"/>
<rect x="257.6" y="201.8" width="17.6" height="1.75" fill="rgb(217, 187, 112)"/>
<rect x="275.1" y="201.8" width="8.1" height="1.75" fill="rgb(230, 201, 132)"/>
<rect x="6.0" y="203.5" width="12.6" height="1.77" fill="rgb(235, 206, 139)"/>
<rect x="18.6" y="203.5" width="20.4" height="1.77" fill="rgb(210, 179, 101)"/>
<rect x="39.0" y="203.5" width="8.9" height="1.77" fill="rgb(234, 205, 138)"/>
<rect x="47.9" y="203.5" width="16.8" height="1.77" fill="rgb(236, 208, 141)"/>
<rect x="64.7" y="203.5" width="6.5" height="1.77" fill="rgb(230, 201, 131)"/>
<rect x="71.2" y="203.5" width="19.8" height="1.77" fill="rgb(237, 208, 141)"/>
<rect x="91.0" y="203.5" width="7.7" height="1.77" fill="rgb(229, 199, 129)"/>
<rect x="98.7" y="203.5" width="20.9" height="1.77" fill="rgb(212, 181, 105)"/>
<rect x="119.5" y="203.5" width="6.7" height="1.77" fill="rgb(213, 182, 106)"/>
<rect x="126.2" y="203.5" width="13.0" height="1.77" fill="rgb(229, 200, 130)"/>
<rect x="139.3" y="203.5" width="18.0" height="1.77" fill="rgb(234, 205, 137)"/>
<rect x="157.3" y="203.5" width="21.3" height="1.77" fill="rgb(214, 183, 107)"/>
<rect x="178.6" y="203.5" width="17.7" height="1.77" fill="rgb(237, 208, 141)"/>
<rect x="196.3" y="203.5" width="16.9" height="1.77" fill="rgb(237, 208, 142)"/>
<rect x="213.2" y="203.5" width="7.9" height="1.77" fill="rgb(237, 208, 141)"/>
<rect x="221.1" y="203.5" width="20.2" height="1.77" fill="rgb(210, 178, 101)"/>
<rect x="241.4" y="203.5" width="17.1" height="1.77" fill="rgb(212, 180, 104)"/>
<rect x="258.5" y="203.5" width="9.5" height="1.77" fill="rgb(235, 206, 139)"/>
<rect x="268.0" y="203.5" width="7.5" height="1.77" fill="rgb(237, 209, 142)"/>
<rect x="275.4" y="203.5" width="16.0" height="1.77" fill="rgb(217, 186, 111)"/>
<rect x="6.0" y="205.3" width="7.6" height="1.79" fill="rgb(232, 203, 134)"/>
<rect x="13.6" y="205.3" width="11.7" height="1.79" fill="rgb(233, 203, 135)"/>
<rect x="25.3" y="205.3" width="17.2" height="1.79" fill="rgb(215, 184, 109)"/>
<rect x="42.4" y="205.3" width="14.5" height="1.79" fill="rgb(215, 184, 108)"/>
<rect x="56.9" y="205.3" width="9.2" height="1.79" fill="rgb(229, 200, 130)"/>
<rect x="66.1" y="205.3" width="8.8" height="1.79" fill="rgb(214, 183, 107)"/>
<rect x="74.9" y="205.3" width="10.2" height="1.79" fill="rgb(218, 187, 113)"/>
<rect x="85.1" y="205.3" width="11.8" height="1.79" fill="rgb(217, 187, 112)"/>
<rect x="96.9" y="205.3" width="11.2" height="1.79" fill="rgb(213, 182, 105)"/>
<rect x="108.0" y="205.3" width="14.1" height="1.79" fill="rgb(230, 201, 131)"/>
<rect x="122.1" y="205.3" width="10.1" height="1.79" fill="rgb(229, 199, 129)"/>
<rect x="132.2" y="205.3" width="16.6" height="1.79" fill="rgb(229, 199, 130)"/>
<rect x="148.7" y="205.3" width="17.7" height="1.79" fill="rgb(216, 185, 110)"/>
<rect x="166.4" y="205.3" width="19.4" height="1.79" fill="rgb(235, 206, 139)"/>
<rect x="185.8" y="205.3" width="8.9" height="1.79" fill="rgb(214, 183, 107)"/>
<rect x="194.7" y="205.3" width="13.6" height="1.79" fill="rgb(236, 207, 140)"/>
<rect x="208.4" y="205.3" width="8.0" height="1.79" fill="rgb(228, 198, 128)"/>
<rect x="216.3" y="205.3" width="14.1" height="1.79" fill="rgb(219, 188, 115)"/>
<rect x="230.4" y="205.3" width="10.7" height="1.79" fill="rgb(218, 188, 114)"/>
<rect x="241.1" y="205.3" width="11.2" height="1.79" fill="rgb(218, 187, 113)"/>
<rect x="252.3" y="205.3" width="13.4" height="1.79" fill="rgb(230, 201, 132)"/>
<rect x="265.6" y="205.3" width="15.2" height="1.79" fill="rgb(219, 189, 115)"/>
<rect x="280.9" y="205.3" width="22.3" height="1.79" fill="rgb(228, 199, 129)"/>
<rect x="6.0" y="207.1" width="18.0" height="1.81" fill="rgb(229, 199, 129)"/>
<rect x="24.0" y="207.1" width="14.2" height="1.81" fill="rgb(232, 203, 135)"/>
<rect x="38.2" y="207.1" width="19.1" height="1.81" fill="rgb(228, 198, 128)"/>
<rect x="57.2" y="207.1" width="21.3" height="1.81" fill="rgb(234, 205, 137)"/>
<rect x="78.5" y="207.1" width="21.5" height="1.81" fill="rgb(234, 205, 137)"/>
<rect x="100.0" y="207.1" width="7.4" height="1.81" fill="rgb(219, 189, 115)"/>
<rect x="107.5" y="207.1" width="12.7" height="1.81" fill="rgb(217, 186, 111)"/>
<rect x="120.1" y="207.1" width="9.2" height="1.81" fill="rgb(218, 188, 114)"/>
<rect x="129.4" y="207.1" width="18.0" height="1.81" fill="rgb(235, 206, 139)"/>
<rect x="147.3" y="207.1" width="11.5" height="1.81" fill="rgb(213, 182, 106)"/>
<rect x="158.9" y="207.1" width="12.0" height="1.81" fill="rgb(216, 185, 110)"/>
<rect x="170.9" y="207.1" width="15.2" height="1.81" fill="rgb(236, 207, 140)"/>
<rect x="186.1" y="207.1" width="10.3" height="1.81" fill="rgb(219, 189, 115)"/>
<rect x="196.5" y="207.1" width="15.5" height="1.81" fill="rgb(237, 208, 141)"/>
<rect x="211.9" y="207.1" width="21.7" height="1.81" fill="rgb(232, 203, 134)"/>
<rect x="233.6" y="207.1" width="18.2" height="1.81" fill="rgb(234, 205, 137)"/>
<rect x="251.8" y="207.1" width="16.5" height="1.81" fill="rgb(213, 182, 105)"/>
<rect x="268.3" y="207.1" width="8.9" height="1.81" fill="rgb(234, 205, 137)"/>
<rect x="277.1" y="207.1" width="12.8" height="1.81" fill="rgb(211, 180, 103)"/>
<rect x="6.0" y="208.9" width="14.2" height="1.83" fill="rgb(212, 181, 105)"/>
<rect x="20.2" y="208.9" width="6.3" height="1.83" fill="rgb(229, 199, 130)"/>
<rect x="26.4" y="208.9" width="7.4" height="1.83" fill="rgb(214, 183, 108)"/>
<rect x="33.8" y="208.9" width="13.2" height="1.83" fill="rgb(228, 199, 128)"/>
<rect x="47.0" y="208.9" width="6.4" height="1.83" fill="rgb(210, 179, 102)"/>
<rect x="53.4" y="208.9" width="8.9" height="1.83" fill="rgb(228, 198, 128)"/>
<rect x="62.3" y="208.9" width="19.5" height="1.83" fill="rgb(233, 204, 136)"/>
<rect x="81.8" y="208.9" width="14.0" height="1.83" fill="rgb(233, 204, 135)"/>
<rect x="95.8" y="208.9" width="13.3" height="1.83" fill="rgb(210, 178, 101)"/>
<rect x="109.1" y="208.9" width="22.1" height="1.83" fill="rgb(211, 180, 103)"/>
<rect x="131.2" y="208.9" width="7.2" height="1.83" fill="rgb(234, 205, 137)"/>
<rect x="138.5" y="208.9" width="11.1" height="1.83" fill="rgb(237, 208, 142)"/>
<rect x="149.6" y="208.9" width="14.2" height="1.83" fill="rgb(217, 186, 111)"/>
<rect x="163.8" y="208.9" width="11.9" height="1.83" fill="rgb(211, 180, 103)"/>
<rect x="175.7" y="208.9" width="9.9" height="1.83" fill="rgb(234, 206, 138)"/>
<rect x="185.6" y="208.9" width="8.6" height="1.83" fill="rgb(233, 204, 136)"/>
<rect x="194.2" y="208.9" width="21.8" height="1.83" fill="rgb(233, 204, 135)"/>
<rect x="216.0" y="208.9" width="15.6" height="1.83" fill="rgb(230, 201, 131)"/>
<rect x="231.6" y="208.9" width="10.0" height="1.83" fill="rgb(214, 183, 107)"/>
<rect x="241.6" y="208.9" width="8.1" height="1.83" fill="rgb(234, 205, 137)"/>
<rect x="249.6" y="208.9" width="9.3" height="1.83" fill="rgb(235, 206, 138)"/>
<rect x="259.0" y="208.9" width="10.0" height="1.83" fill="rgb(230, 200, 131)"/>
<rect x="268.9" y="208.9" width="15.7" height="1.83" fill="rgb(212, 181, 104)"/>
<rect x="6.0" y="210.7" width="21.4" height="1.85" fill="rgb(211, 180, 103)"/>
<rect x="27.4" y="210.7" width="17.6" height="1.85" fill="rgb(229, 199, 130)"/>
<rect x="45.0" y="210.7" width="14.7" height="1.85" fill="rgb(213, 182, 106)"/>
<rect x="59.7" y="210.7" width="22.3" height="1.85" fill="rgb(215, 184, 109)"/>
<rect x="82.0" y="210.7" width="17.7" height="1.85" fill="rgb(210, 178, 101)"/>
<rect x="99.7" y="210.7" width="9.5" height="1.85" fill="rgb(235, 206, 139)"/>
<rect x="109.1" y="210.7" width="8.5" height="1.85" fill="rgb(215, 185, 109)"/>
<rect x="117.7" y="210.7" width="7.0" height="1.85" fill="rgb(219, 189, 115)"/>
<rect x="124.7" y="210.7" width="16.2" height="1.85" fill="rgb(215, 184, 109)"/>
<rect x="140.9" y="210.7" width="8.3" height="1.85" fill="rgb(215, 184, 109)"/>
<rect x="149.2" y="210.7" width="21.1" height="1.85" fill="rgb(214, 183, 107)"/>
<rect x="170.3" y="210.7" width="21.6" height="1.85" fill="rgb(229, 200, 130)"/>
<rect x="191.8" y="210.7" width="18.7" height="1.85" fill="rgb(236, 207, 140)"/>
<rect x="210.5" y="210.7" width="18.5" height="1.85" fill="rgb(211, 180, 103)"/>
<rect x="229.1" y="210.7" width="8.3" height="1.85" fill="rgb(233, 204, 135)"/>
<rect x="237.4" y="210.7" width="15.0" height="1.85" fill="rgb(235, 206, 138)"/>
<rect x="252.4" y="210.7" width="7.0" height="1.85" fill="rgb(228, 199, 129)"/>
<rect x="259.4" y="210.7" width="15.4" height="1.85" fill="rgb(219, 189, 115)"/>
<rect x="274.8" y="210.7" width="21.4" height="1.85" fill="rgb(217, 186, 112)"/>
<rect x="6.0" y="212.6" width="9.6" height="1.87" fill="rgb(228, 198, 128)"/>
<rect x="15.6" y="212.6" width="22.9" height="1.87" fill="rgb(229, 199, 129)"/>
<rect x="38.5" y="212.6" width="6.7" height="1.87" fill="rgb(219, 188, 114)"/>
<rect x="45.1" y="212.6" width="10.7" height="1.87" fill="rgb(214, 183, 107)"/>
<rect x="55.8" y="212.6" width="11.2" height="1.87" fill="rgb(236, 207, 140)"/>
<rect x="67.0" y="212.6" width="16.2" height="1.87" fill="rgb(233, 204, 136)"/>
<rect x="83.2" y="212.6" width="17.9" height="1.87" fill="rgb(237, 208, 142)"/>
<rect x="101.1" y="212.6" width="6.5" height="1.87" fill="rgb(237, 209, 142)"/>
<rect x="107.6" y="212.6" width="14.5" height="1.87" fill="rgb(236, 208, 141)"/>
<rect x="122.1" y="212.6" width="19.8" height="1.87" fill="rgb(219, 188, 114)"/>
<rect x="141.9" y="212.6" width="16.7" height="1.87" fill="rgb(236, 207, 140)"/>
<rect x="158.6" y="212.6" width="22.6" height="1.87" fill="rgb(231, 202, 133)"/>
<rect x="181.2" y="212.6" width="21.0" height="1.87" fill="rgb(216, 185, 110)"/>
<rect x="202.2" y="212.6" width="15.2" height="1.87" fill="rgb(236, 208, 141)"/>
<rect x="217.4" y="212.6" width="16.2" height="1.87" fill="rgb(217, 187, 112)"/>
<rect x="233.6" y="212.6" width="20.1" height="1.87" fill="rgb(231, 202, 132)"/>
<rect x="253.7" y="212.6" width="14.2" height="1.87" fill="rgb(231, 201, 132)"/>
<rect x="267.8" y="212.6" width="11.9" height="1.87" fill="rgb(231, 202, 133)"/>
<rect x="279.8" y="212.6" width="6.7" height="1.87" fill="rgb(236, 208, 141)"/>
<rect x="6.0" y="214.4" width="16.7" height="1.89" fill="rgb(212, 181, 105)"/>
<rect x="22.7" y="214.4" width="8.8" height="1.89" fill="rgb(230, 201, 132)"/>
<rect x="31.5" y="214.4" width="14.8" height="1.89" fill="rgb(231, 202, 133)"/>
<rect x="46.3" y="214.4" width="16.1" height="1.89" fill="rgb(210, 178, 101)"/>
<rect x="62.4" y="214.4" width="6.9" height="1.89" fill="rgb(211, 180, 102)"/>
<rect x="69.3" y="214.4" width="19.5" height="1.89" fill="rgb(216, 185, 110)"/>
<rect x="88.8" y="214.4" width="11.1" height="1.89" fill="rgb(211, 179, 102)"/>
<rect x="99.9" y="214.4" width="22.3" height="1.89" fill="rgb(216, 186, 111)"/>
<rect x="122.1" y="214.4" width="19.3" height="1.89" fill="rgb(233, 203, 135)"/>
<rect x="141.4" y="214.4" width="17.1" height="1.89" fill="rgb(236, 208, 141)"/>
<rect x="158.5" y="214.4" width="18.5" height="1.89" fill="rgb(228, 199, 128)"/>
<rect x="177.0" y="214.4" width="12.1" height="1.89" fill="rgb(236, 208, 141)"/>
<rect x="189.1" y="214.4" width="19.6" height="1.89" fill="rgb(236, 208, 141)"/>
<rect x="208.7" y="214.4" width="20.1" height="1.89" fill="rgb(229, 200, 130)"/>
<rect x="228.8" y="214.4" width="9.8" height="1.89" fill="rgb(232, 202, 134)"/>
<rect x="238.6" y="214.4" width="13.1" height="1.89" fill="rgb(237, 208, 141)"/>
<rect x="251.7" y="214.4" width="16.3" height="1.89" fill="rgb(216, 186, 111)"/>
<rect x="268.0" y="214.4" width="11.6" height="1.89" fill="rgb(228, 199, 129)"/>
<rect x="279.5" y="214.4" width="9.6" height="1.89" fill="rgb(214, 183, 107)"/>
<rect x="6.0" y="216.3" width="11.6" height="1.91" fill="rgb(237, 209, 142)"/>
<rect x="17.6" y="216.3" width="12.5" height="1.91" fill="rgb(235, 206, 138)"/>
<rect x="30.1" y="216.3" width="22.1" height="1.91" fill="rgb(231, 201, 132)"/>
<rect x="52.2" y="216.3" width="9.4" height="1.91" fill="rgb(233, 204, 136)"/>
<rect x="61.6" y="216.3" width="19.4" height="1.91" fill="rgb(230, 201, 131)"/>
<rect x="81.0" y="216.3" width="6.7" height="1.91" fill="rgb(216, 185, 110)"/>
<rect x="87.7" y="216.3" width="9.8" height="1.91" fill="rgb(236, 207, 140)"/>
<rect x="97.6" y="216.3" width="17.5" height="1.91" fill="rgb(217, 186, 112)"/>
<rect x="115.0" y="216.3" width="7.4" height="1.91" fill="rgb(213, 182, 106)"/>
<rect x="122.4" y="216.3" width="7.8" height="1.91" fill="rgb(235, 206, 138)"/>
<rect x="130.1" y="216.3" width="6.5" height="1.91" fill="rgb(233, 204, 136)"/>
<rect x="136.6" y="216.3" width="21.3" height="1.91" fill="rgb(237, 208, 141)"/>
<rect x="158.0" y="216.3" width="10.0" height="1.91" fill="rgb(236, 207, 141)"/>
<rect x="168.0" y="216.3" width="6.9" height="1.91" fill="rgb(232, 202, 134)"/>
<rect x="174.9" y="216.3" width="18.0" height="1.91" fill="rgb(229, 200, 130)"/>
<rect x="192.9" y="216.3" width="21.1" height="1.91" fill="rgb(219, 188, 114)"/>
<rect x="214.0" y="216.3" width="16.9" height="1.91" fill="rgb(237, 209, 142)"/>
<rect x="230.9" y="216.3" width="13.2" height="1.91" fill="rgb(236, 208, 141)"/>
<rect x="244.1" y="216.3" width="6.8" height="1.91" fill="rgb(233, 204, 136)"/>
<rect x="250.9" y="216.3" width="23.3" height="1.91" fill="rgb(215, 185, 109)"/>
<rect x="274.2" y="216.3" width="18.5" height="1.91" fill="rgb(229, 200, 130)"/>
<rect x="6.0" y="218.2" width="6.8" height="1.93" fill="rgb(218, 188, 113)"/>
<rect x="12.8" y="218.2" width="19.7" height="1.93" fill="rgb(216, 185, 110)"/>
<rect x="32.4" y="218.2" width="12.7" height="1.93" fill="rgb(233, 204, 136)"/>
<rect x="45.1" y="218.2" width="16.6" height="1.93" fill="rgb(213, 182, 106)"/>
<rect x="61.7" y="218.2" width="16.8" height="1.93" fill="rgb(230, 200, 131)"/>
<rect x="78.5" y="218.2" width="17.1" height="1.93" fill="rgb(235, 206, 139)"/>
<rect x="95.6" y="218.2" width="19.8" height="1.93" fill="rgb(234, 205, 137)"/>
<rect x="115.4" y="218.2" width="15.9" height="1.93" fill="rgb(233, 204, 136)"/>
<rect x="131.3" y="218.2" width="12.7" height="1.93" fill="rgb(229, 199, 129)"/>
<rect x="143.9" y="218.2" width="6.6" height="1.93" fill="rgb(228, 199, 129)"/>
<rect x="150.6" y="218.2" width="20.4" height="1.93" fill="rgb(229, 200, 130)"/>
<rect x="170.9" y="218.2" width="17.3" height="1.93" fill="rgb(235, 206, 139)"/>
<rect x="188.2" y="218.2" width="8.0" height="1.93" fill="rgb(213, 182, 106)"/>
<rect x="196.2" y="218.2" width="8.6" height="1.93" fill="rgb(214, 183, 107)"/>
<rect x="204.7" y="218.2" width="9.6" height="1.93" fill="rgb(235, 206, 139)"/>
<rect x="214.3" y="218.2" width="22.0" height="1.93" fill="rgb(214, 183, 108)"/>
<rect x="236.3" y="218.2" width="12.5" height="1.93" fill="rgb(215, 184, 109)"/>
<rect x="248.8" y="218.2" width="21.2" height="1.93" fill="rgb(213, 182, 106)"/>
<rect x="270.0" y="218.2" width="12.4" height="1.93" fill="rgb(232, 203, 134)"/>
<rect x="282.4" y="218.2" width="12.0" height="1.93" fill="rgb(218, 188, 114)"/>
<rect x="6.0" y="220.2" width="19.2" height="1.96" fill="rgb(211, 180, 103)"/>
<rect x="25.2" y="220.2" width="22.3" height="1.96" fill="rgb(228, 199, 128)"/>
<rect x="47.6" y="220.2" width="16.3" height="1.96" fill="rgb(237, 208, 141)"/>
<rect x="63.8" y="220.2" width="13.0" height="1.96" fill="rgb(219, 189, 115)"/>
<rect x="76.9" y="220.2" width="6.9" height="1.96" fill="rgb(230, 201, 131)"/>
<rect x="83.7" y="220.2" width="12.6" height="1.96" fill="rgb(235, 206, 139)"/>
<rect x="96.4" y="220.2" width="17.6" height="1.96" fill="rgb(236, 208, 141)"/>
<rect x="114.0" y="220.2" width="15.1" height="1.96" fill="rgb(215, 184, 108)"/>
<rect x="129.1" y="220.2" width="22.7" height="1.96" fill="rgb(237, 208, 142)"/>
<rect x="151.8" y="220.2" width="8.9" height="1.96" fill="rgb(230, 201, 132)"/>
<rect x="160.7" y="220.2" width="12.2" height="1.96" fill="rgb(236, 207, 141)"/>
<rect x="173.0" y="220.2" width="10.8" height="1.96" fill="rgb(234, 205, 138)"/>
<rect x="183.8" y="220.2" width="16.9" height="1.96" fill="rgb(230, 200, 131)"/>
<rect x="200.6" y="220.2" width="7.4" height="1.96" fill="rgb(211, 180, 103)"/>
<rect x="208.1" y="220.2" width="19.3" height="1.96" fill="rgb(212, 181, 104)"/>
<rect x="227.3" y="220.2" width="21.5" height="1.96" fill="rgb(215, 184, 109)"/>
<rect x="248.8" y="220.2" width="8.9" height="1.96" fill="rgb(234, 205, 138)"/>
<rect x="257.7" y="220.2" width="20.5" height="1.96" fill="rgb(210, 178, 101)"/>
<rect x="278.2" y="220.2" width="6.7" height="1.96" fill="rgb(229, 200, 130)"/>
<rect x="6.0" y="222.1" width="19.4" height="1.98" fill="rgb(212, 181, 104)"/>
<rect x="25.4" y="222.1" width="14.7" height="1.98" fill="rgb(228, 199, 129)"/>
<rect x="40.1" y="222.1" width="12.5" height="1.98" fill="rgb(236, 208, 141)"/>
<rect x="52.6" y="222.1" width="23.7" height="1.98" fill="rgb(214, 183, 107)"/>
<rect x="76.2" y="222.1" width="10.1" height="1.98" fill="rgb(219, 189, 115)"/>
<rect x="86.3" y="222.1" width="15.4" height="1.98" fill="rgb(214, 183, 107)"/>
<rect x="101.7" y="222.1" width="18.8" height="1.98" fill="rgb(219, 189, 115)"/>
<rect x="120.4" y="222.1" width="22.2" height="1.98" fill="rgb(211, 179, 102)"/>
<rect x="142.6" y="222.1" width="8.7" height="1.98" fill="rgb(237, 209, 142)"/>
<rect x="151.2" y="222.1" width="15.7" height="1.98" fill="rgb(218, 187, 113)"/>
<rect x="167.0" y="222.1" width="18.5" height="1.98" fill="rgb(213, 182, 106)"/>
<rect x="185.5" y="222.1" width="16.1" height="1.98" fill="rgb(214, 183, 108)"/>
<rect x="201.6" y="222.1" width="21.2" height="1.98" fill="rgb(216, 185, 110)"/>
<rect x="222.8" y="222.1" width="10.3" height="1.98" fill="rgb(212, 181, 105)"/>
<rect x="233.1" y="222.1" width="11.3" height="1.98" fill="rgb(219, 189, 115)"/>
<rect x="244.4" y="222.1" width="11.3" height="1.98" fill="rgb(218, 187, 113)"/>
<rect x="255.7" y="222.1" width="7.4" height="1.98" fill="rgb(230, 201, 132)"/>
<rect x="263.1" y="222.1" width="12.2" height="1.98" fill="rgb(213, 182, 106)"/>
<rect x="275.3" y="222.1" width="16.1" height="1.98" fill="rgb(234, 205, 138)"/>
<rect x="6.0" y="224.1" width="23.9" height="2.00" fill="rgb(231, 202, 133)"/>
<rect x="29.9" y="224.1" width="12.2" height="2.00" fill="rgb(231, 202, 133)"/>
<rect x="42.1" y="224.1" width="9.3" height="2.00" fill="rgb(236, 208, 141)"/>
<rect x="51.4" y="224.1" width="20.8" height="2.00" fill="rgb(217, 186, 112)"/>
<rect x="72.1" y="224.1" width="15.4" height="2.00" fill="rgb(234, 206, 138)"/>
<rect x="87.5" y="224.1" width="19.5" height="2.00" fill="rgb(211, 180, 103)"/>
<rect x="107.0" y="224.1" width="18.3" height="2.00" fill="rgb(211, 180, 103)"/>
<rect x="125.3" y="224.1" width="20.4" height="2.00" fill="rgb(215, 185, 109)"/>
<rect x="145.7" y="224.1" width="16.4" height="2.00" fill="rgb(233, 204, 136)"/>
<rect x="162.1" y="224.1" width="12.2" height="2.00" fill="rgb(215, 184, 108)"/>
<rect x="174.3" y="224.1" width="18.0" height="2.00" fill="rgb(233, 204, 135)"/>
<rect x="192.3" y="224.1" width="17.0" height="2.00" fill="rgb(230, 200, 131)"/>
<rect x="209.3" y="224.1" width="17.7" height="2.00" fill="rgb(231, 202, 133)"/>
<rect x="227.0" y="224.1" width="7.7" height="2.00" fill="rgb(234, 205, 137)"/>
<rect x="234.7" y="224.1" width="18.5" height="2.00" fill="rgb(228, 199, 129)"/>
<rect x="253.3" y="224.1" width="20.6" height="2.00" fill="rgb(210, 179, 102)"/>
<rect x="273.9" y="224.1" width="20.1" height="2.00" fill="rgb(237, 208, 141)"/>
<rect x="6.0" y="226.1" width="15.1" height="2.02" fill="rgb(233, 204, 135)"/>
<rect x="21.1" y="226.1" width="15.1" height="2.02" fill="rgb(210, 178, 101)"/>
<rect x="36.2" y="226.1" width="7.8" height="2.02" fill="rgb(233, 204, 135)"/>
<rect x="44.0" y="226.1" width="16.0" height="2.02" fill="rgb(230, 201, 131)"/>
<rect x="60.0" y="226.1" width="9.7" height="2.02" fill="rgb(229, 200, 130)"/>
<rect x="69.7" y="226.1" width="23.5" height="2.02" fill="rgb(216, 186, 111)"/>
<rect x="93.2" y="226.1" width="13.1" height="2.02" fill="rgb(229, 199, 129)"/>
<rect x="106.2" y="226.1" width="9.4" height="2.02" fill="rgb(231, 202, 133)"/>
<rect x="115.6" y="226.1" width="13.1" height="2.02" fill="rgb(232, 203, 134)"/>
<rect x="128.8" y="226.1" width="8.2" height="2.02" fill="rgb(230, 201, 132)"/>
<rect x="137.0" y="226.1" width="14.6" height="2.02" fill="rgb(215, 184, 109)"/>
<rect x="151.5" y="226.1" width="15.1" height="2.02" fill="rgb(212, 181, 104)"/>
<rect x="166.7" y="226.1" width="9.3" height="2.02" fill="rgb(216, 185, 110)"/>
<rect x="176.0" y="226.1" width="15.9" height="2.02" fill="rgb(213, 182, 106)"/>
<rect x="191.9" y="226.1" width="15.9" height="2.02" fill="rgb(230, 201, 131)"/>
<rect x="207.8" y="226.1" width="16.5" height="2.02" fill="rgb(214, 183, 107)"/>
<rect x="224.4" y="226.1" width="7.7" height="2.02" fill="rgb(216, 186, 111)"/>
<rect x="232.0" y="226.1" width="16.3" height="2.02" fill="rgb(230, 201, 131)"/>
<rect x="248.4" y="226.1" width="11.4" height="2.02" fill="rgb(228, 199, 129)"/>
<rect x="259.7" y="226.1" width="17.9" height="2.02" fill="rgb(217, 187, 112)"/>
<rect x="277.7" y="226.1" width="14.2" height="2.02" fill="rgb(234, 205, 137)"/>
<rect x="6.0" y="228.1" width="13.4" height="2.05" fill="rgb(212, 181, 105)"/>
<rect x="19.4" y="228.1" width="13.4" height="2.05" fill="rgb(212, 181, 105)"/>
<rect x="32.8" y="228.1" width="12.0" height="2.05" fill="rgb(232, 203, 134)"/>
<rect x="44.8" y="228.1" width="17.6" height="2.05" fill="rgb(231, 202, 133)"/>
<rect x="62.3" y="228.1" width="13.6" height="2.05" fill="rgb(210, 179, 102)"/>
<rect x="75.9" y="228.1" width="10.1" height="2.05" fill="rgb(228, 199, 128)"/>
<rect x="86.1" y="228.1" width="10.3" height="2.05" fill="rgb(219, 188, 114)"/>
<rect x="96.4" y="228.1" width="14.7" height="2.05" fill="rgb(233, 204, 135)"/>
<rect x="111.1" y="228.1" width="15.6" height="2.05" fill="rgb(218, 188, 114)"/>
<rect x="126.7" y="228.1" width="16.8" height="2.05" fill="rgb(235, 206, 138)"/>
<rect x="143.4" y="228.1" width="14.5" height="2.05" fill="rgb(229, 200, 130)"/>
<rect x="157.9" y="228.1" width="7.9" height="2.05" fill="rgb(232, 203, 135)"/>
<rect x="165.8" y="228.1" width="15.9" height="2.05" fill="rgb(213, 182, 105)"/>
<rect x="181.7" y="228.1" width="19.9" height="2.05" fill="rgb(233, 204, 136)"/>
<rect x="201.6" y="228.1" width="23.3" height="2.05" fill="rgb(233, 204, 136)"/>
<rect x="224.9" y="228.1" width="20.5" height="2.05" fill="rgb(229, 199, 129)"/>
<rect x="245.3" y="228.1" width="10.7" height="2.05" fill="rgb(214, 183, 107)"/>
<rect x="256.0" y="228.1" width="7.0" height="2.05" fill="rgb(228, 199, 129)"/>
<rect x="263.0" y="228.1" width="20.2" height="2.05" fill="rgb(228, 199, 128)"/>
<rect x="6.0" y="230.2" width="19.0" height="2.07" fill="rgb(232, 203, 135)"/>
<rect x="25.0" y="230.2" width="7.7" height="2.07" fill="rgb(236, 207, 140)"/>
<rect x="32.8" y="230.2" width="9.3" height="2.07" fill="rgb(236, 207, 140)"/>
<rect x="42.1" y="230.2" width="22.5" height="2.07" fill="rgb(216, 186, 111)"/>
<rect x="64.5" y="230.2" width="10.2" height="2.07" fill="rgb(218, 187, 113)"/>
<rect x="74.7" y="230.2" width="16.5" height="2.07" fill="rgb(228, 199, 129)"/>
<rect x="91.2" y="230.2" width="13.7" height="2.07" fill="rgb(233, 204, 136)"/>
<rect x="104.9" y="230.2" width="16.0" height="2.07" fill="rgb(234, 205, 138)"/>
<rect x="120.8" y="230.2" width="12.3" height="2.07" fill="rgb(211, 180, 102)"/>
<rect x="133.1" y="230.2" width="21.2" height="2.07" fill="rgb(231, 201, 132)"/>
<rect x="154.3" y="230.2" width="9.1" height="2.07" fill="rgb(214, 183, 107)"/>
<rect x="163.5" y="230.2" width="13.5" height="2.07" fill="rgb(234, 205, 137)"/>
<rect x="177.0" y="230.2" width="19.6" height="2.07" fill="rgb(216, 185, 110)"/>
<rect x="196.5" y="230.2" width="21.2" height="2.07" fill="rgb(215, 184, 109)"/>
<rect x="217.7" y="230.2" width="19.5" height="2.07" fill="rgb(212, 181, 105)"/>
<rect x="237.2" y="230.2" width="6.9" height="2.07" fill="rgb(215, 185, 109)"/>
<rect x="244.1" y="230.2" width="16.9" height="2.07" fill="rgb(228, 198, 128)"/>
<rect x="261.1" y="230.2" width="10.7" height="2.07" fill="rgb(230, 201, 132)"/>
<rect x="271.8" y="230.2" width="19.6" height="2.07" fill="rgb(232, 202, 134)"/>
<rect x="6.0" y="232.2" width="20.0" height="2.09" fill="rgb(211, 179, 102)"/>
<rect x="26.0" y="232.2" width="7.9" height="2.09" fill="rgb(236, 207, 140)"/>
<rect x="33.9" y="232.2" width="9.1" height="2.09" fill="rgb(211, 180, 103)"/>
<rect x="43.0" y="232.2" width="8.1" height="2.09" fill="rgb(229, 200, 130)"/>
<rect x="51.1" y="232.2" width="23.6" height="2.09" fill="rgb(215, 184, 108)"/>
<rect x="74.7" y="232.2" width="19.1" height="2.09" fill="rgb(236, 207, 140)"/>
<rect x="93.7" y="232.2" width="16.5" height="2.09" fill="rgb(218, 187, 113)"/>
<rect x="110.2" y="232.2" width="23.5" height="2.09" fill="rgb(214, 183, 108)"/>
<rect x="133.7" y="232.2" width="15.3" height="2.09" fill="rgb(212, 180, 104)"/>
<rect x="149.0" y="232.2" width="24.1" height="2.09" fill="rgb(230, 200, 131)"/>
<rect x="173.1" y="232.2" width="22.0" height="2.09" fill="rgb(234, 205, 138)"/>
<rect x="195.0" y="232.2" width="9.6" height="2.09" fill="rgb(210, 179, 102)"/>
<rect x="204.6" y="232.2" width="9.2" height="2.09" fill="rgb(211, 180, 103)"/>
<rect x="213.9" y="232.2" width="12.1" height="2.09" fill="rgb(211, 179, 102)"/>
<rect x="226.0" y="232.2" width="21.3" height="2.09" fill="rgb(216, 186, 111)"/>
<rect x="247.3" y="232.2" width="11.5" height="2.09" fill="rgb(218, 187, 113)"/>
<rect x="258.8" y="232.2" width="21.3" height="2.09" fill="rgb(216, 185, 110)"/>
<rect x="280.1" y="232.2" width="7.4" height="2.09" fill="rgb(229, 200, 130)"/>
<rect x="6.0" y="234.3" width="12.2" height="2.12" fill="rgb(218, 187, 113)"/>
<rect x="18.2" y="234.3" width="9.6" height="2.12" fill="rgb(215, 184, 109)"/>
<rect x="27.8" y="234.3" width="19.3" height="2.12" fill="rgb(219, 189, 115)"/>
<rect x="47.1" y="234.3" width="13.3" height="2.12" fill="rgb(210, 178, 101)"/>
<rect x="60.4" y="234.3" width="24.1" height="2.12" fill="rgb(217, 186, 111)"/>
<rect x="84.5" y="234.3" width="13.2" height="2.12" fill="rgb(236, 208, 141)"/>
<rect x="97.7" y="234.3" width="23.6" height="2.12" fill="rgb(215, 184, 108)"/>
<rect x="121.3" y="234.3" width="22.7" height="2.12" fill="rgb(217, 187, 112)"/>
<rect x="144.0" y="234.3" width="15.5" height="2.12" fill="rgb(214, 183, 107)"/>
<rect x="159.4" y="234.3" width="12.4" height="2.12" fill="rgb(210, 178, 101)"/>
<rect x="171.8" y="234.3" width="13.2" height="2.12" fill="rgb(213, 182, 106)"/>
<rect x="185.0" y="234.3" width="7.8" height="2.12" fill="rgb(231, 202, 133)"/>
<rect x="192.7" y="234.3" width="15.7" height="2.12" fill="rgb(235, 206, 139)"/>
<rect x="208.4" y="234.3" width="10.1" height="2.12" fill="rgb(236, 207, 140)"/>
<rect x="218.6" y="234.3" width="20.1" height="2.12" fill="rgb(228, 199, 129)"/>
<rect x="238.7" y="234.3" width="17.0" height="2.12" fill="rgb(214, 183, 107)"/>
<rect x="255.6" y="234.3" width="15.3" height="2.12" fill="rgb(219, 189, 115)"/>
<rect x="270.9" y="234.3" width="17.5" height="2.12" fill="rgb(234, 205, 137)"/>
<rect x="6.0" y="236.4" width="9.4" height="2.14" fill="rgb(228, 199, 129)"/>
<rect x="15.4" y="236.4" width="20.3" height="2.14" fill="rgb(216, 185, 110)"/>
<rect x="35.7" y="236.4" width="19.2" height="2.14" fill="rgb(216, 185, 111)"/>
<rect x="54.9" y="236.4" width="22.5" height="2.14" fill="rgb(231, 201, 132)"/>
<rect x="77.3" y="236.4" width="11.7" height="2.14" fill="rgb(211, 179, 102)"/>
<rect x="89.1" y="236.4" width="9.1" height="2.14" fill="rgb(230, 201, 132)"/>
<rect x="98.1" y="236.4" width="16.9" height="2.14" fill="rgb(232, 203, 135)"/>
<rect x="115.0" y="236.4" width="9.9" height="2.14" fill="rgb(214, 184, 108)"/>
<rect x="125.0" y="236.4" width="13.7" height="2.14" fill="rgb(217, 186, 111)"/>
<rect x="138.7" y="236.4" width="17.2" height="2.14" fill="rgb(210, 179, 102)"/>
<rect x="155.8" y="236.4" width="20.3" height="2.14" fill="rgb(211, 179, 102)"/>
<rect x="176.2" y="236.4" width="7.2" height="2.14" fill="rgb(215, 184, 108)"/>
<rect x="183.4" y="236.4" width="21.5" height="2.14" fill="rgb(213, 182, 105)"/>
<rect x="204.9" y="236.4" width="11.2" height="2.14" fill="rgb(218, 187, 113)"/>
<rect x="216.0" y="236.4" width="11.8" height="2.14" fill="rgb(215, 184, 109)"/>
<rect x="227.8" y="236.4" width="18.4" height="2.14" fill="rgb(217, 186, 111)"/>
<rect x="246.3" y="236.4" width="23.4" height="2.14" fill="rgb(213, 182, 106)"/>
<rect x="269.6" y="236.4" width="10.9" height="2.14" fill="rgb(214, 183, 107)"/>
<rect x="280.6" y="236.4" width="21.4" height="2.14" fill="rgb(211, 180, 103)"/>
<rect x="6.0" y="238.6" width="8.3" height="2.17" fill="rgb(237, 209, 142)"/>
<rect x="14.3" y="238.6" width="7.7" height="2.17" fill="rgb(211, 180, 103)"/>
<rect x="22.1" y="238.6" width="13.3" height="2.17" fill="rgb(233, 204, 136)"/>
<rect x="35.4" y="238.6" width="10.4" height="2.17" fill="rgb(237, 208, 142)"/>
<rect x="45.8" y="238.6" width="14.6" height="2.17" fill="rgb(228, 198, 128)"/>
<rect x="60.4" y="238.6" width="21.6" height="2.17" fill="rgb(212, 181, 104)"/>
<rect x="82.1" y="238.6" width="19.6" height="2.17" fill="rgb(212, 180, 104)"/>
<rect x="101.7" y="238.6" width="21.3" height="2.17" fill="rgb(218, 187, 113)"/>
<rect x="123.0" y="238.6" width="11.1" height="2.17" fill="rgb(235, 206, 138)"/>
<rect x="134.0" y="238.6" width="8.2" height="2.17" fill="rgb(212, 180, 104)"/>
<rect x="142.3" y="238.6" width="15.9" height="2.17" fill="rgb(233, 204, 135)"/>
<rect x="158.2" y="238.6" width="13.1" height="2.17" fill="rgb(212, 181, 104)"/>
<rect x="171.3" y="238.6" width="18.8" height="2.17" fill="rgb(211, 180, 103)"/>
<rect x="190.1" y="238.6" width="7.9" height="2.17" fill="rgb(235, 207, 139)"/>
<rect x="198.0" y="238.6" width="8.7" height="2.17" fill="rgb(233, 204, 136)"/>
<rect x="206.7" y="238.6" width="21.9" height="2.17" fill="rgb(234, 205, 138)"/>
<rect x="228.6" y="238.6" width="20.8" height="2.17" fill="rgb(217, 186, 112)"/>
<rect x="249.4" y="238.6" width="19.9" height="2.17" fill="rgb(237, 208, 141)"/>
<rect x="269.3" y="238.6" width="20.8" height="2.17" fill="rgb(215, 184, 109)"/>
<rect x="6.0" y="240.8" width="22.5" height="2.19" fill="rgb(235, 206, 139)"/>
<rect x="28.5" y="240.8" width="18.2" height="2.19" fill="rgb(219, 188, 114)"/>
<rect x="46.7" y="240.8" width="21.7" height="2.19" fill="rgb(235, 206, 139)"/>
<rect x="68.4" y="240.8" width="22.9" height="2.19" fill="rgb(218, 187, 113)"/>
<rect x="91.3" y="240.8" width="15.6" height="2.19" fill="rgb(211, 179, 102)"/>
<rect x="106.9" y="240.8" width="17.8" height="2.19" fill="rgb(216, 185, 110)"/>
<rect x="124.7" y="240.8" width="21.7" height="2.19" fill="rgb(236, 207, 140)"/>
<rect x="146.5" y="240.8" width="14.6" height="2.19" fill="rgb(217, 187, 112)"/>
<rect x="161.1" y="240.8" width="19.6" height="2.19" fill="rgb(234, 205, 137)"/>
<rect x="180.7" y="240.8" width="24.0" height="2.19" fill="rgb(235, 207, 139)"/>
<rect x="204.7" y="240.8" width="7.1" height="2.19" fill="rgb(234, 205, 137)"/>
<rect x="211.8" y="240.8" width="24.9" height="2.19" fill="rgb(232, 203, 134)"/>
<rect x="236.7" y="240.8" width="18.4" height="2.19" fill="rgb(229, 200, 130)"/>
<rect x="255.1" y="240.8" width="17.3" height="2.19" fill="rgb(216, 185, 110)"/>
<rect x="272.3" y="240.8" width="22.9" height="2.19" fill="rgb(217, 186, 111)"/>
<rect x="6.0" y="243.0" width="8.8" height="2.22" fill="rgb(229, 200, 130)"/>
<rect x="14.8" y="243.0" width="23.9" height="2.22" fill="rgb(234, 205, 137)"/>
<rect x="38.6" y="243.0" width="22.3" height="2.22" fill="rgb(217, 187, 112)"/>
<rect x="61.0" y="243.0" width="18.9" height="2.22" fill="rgb(236, 207, 140)"/>
<rect x="79.9" y="243.0" width="10.6" height="2.22" fill="rgb(231, 202, 132)"/>
<rect x="90.5" y="243.0" width="9.9" height="2.22" fill="rgb(217, 187, 112)"/>
<rect x="100.4" y="243.0" width="23.9" height="2.22" fill="rgb(231, 201, 132)"/>
<rect x="124.3" y="243.0" width="13.1" height="2.22" fill="rgb(211, 180, 103)"/>
<rect x="137.4" y="243.0" width="25.4" height="2.22" fill="rgb(233, 204, 135)"/>
<rect x="162.8" y="243.0" width="7.1" height="2.22" fill="rgb(218, 188, 114)"/>
<rect x="169.9" y="243.0" width="11.7" height="2.22" fill="rgb(235, 206, 139)"/>
<rect x="181.7" y="243.0" width="19.9" height="2.22" fill="rgb(229, 199, 130)"/>
<rect x="201.5" y="243.0" width="21.3" height="2.22" fill="rgb(234, 205, 137)"/>
<rect x="222.9" y="243.0" width="8.5" height="2.22" fill="rgb(232, 203, 134)"/>
<rect x="231.4" y="243.0" width="25.2" height="2.22" fill="rgb(231, 201, 132)"/>
<rect x="256.6" y="243.0" width="20.5" height="2.22" fill="rgb(237, 208, 142)"/>
<rect x="277.1" y="243.0" width="22.4" height="2.22" fill="rgb(210, 179, 102)"/>
<rect x="6.0" y="245.2" width="16.6" height="2.24" fill="rgb(234, 206, 138)"/>
<rect x="22.6" y="245.2" width="7.5" height="2.24" fill="rgb(214, 183, 107)"/>
<rect x="30.1" y="245.2" width="15.7" height="2.24" fill="rgb(212, 181, 105)"/>
<rect x="45.8" y="245.2" width="21.4" height="2.24" fill="rgb(210, 179, 101)"/>
<rect x="67.2" y="245.2" width="16.3" height="2.24" fill="rgb(210, 179, 101)"/>
<rect x="83.6" y="245.2" width="24.1" height="2.24" fill="rgb(218, 187, 113)"/>
<rect x="107.7" y="245.2" width="24.6" height="2.24" fill="rgb(210, 178, 101)"/>
<rect x="132.3" y="245.2" width="10.5" height="2.24" fill="rgb(234, 205, 137)"/>
<rect x="142.8" y="245.2" width="11.7" height="2.24" fill="rgb(215, 184, 109)"/>
<rect x="154.5" y="245.2" width="25.8" height="2.24" fill="rgb(211, 180, 103)"/>
<rect x="180.3" y="245.2" width="20.0" height="2.24" fill="rgb(232, 203, 135)"/>
<rect x="200.3" y="245.2" width="25.7" height="2.24" fill="rgb(234, 205, 138)"/>
<rect x="226.0" y="245.2" width="12.4" height="2.24" fill="rgb(211, 180, 103)"/>
<rect x="238.5" y="245.2" width="16.6" height="2.24" fill="rgb(212, 180, 104)"/>
<rect x="255.1" y="245.2" width="13.8" height="2.24" fill="rgb(217, 187, 112)"/>
<rect x="268.8" y="245.2" width="22.5" height="2.24" fill="rgb(218, 187, 113)"/>
<rect x="6.0" y="247.4" width="21.4" height="2.27" fill="rgb(213, 182, 105)"/>
<rect x="27.4" y="247.4" width="24.6" height="2.27" fill="rgb(237, 209, 142)"/>
<rect x="52.0" y="247.4" width="22.1" height="2.27" fill="rgb(237, 208, 142)"/>
<rect x="74.1" y="247.4" width="10.8" height="2.27" fill="rgb(236, 208, 141)"/>
<rect x="84.9" y="247.4" width="16.3" height="2.27" fill="rgb(237, 208, 141)"/>
<rect x="101.3" y="247.4" width="14.9" height="2.27" fill="rgb(231, 202, 133)"/>
<rect x="116.2" y="247.4" width="13.3" height="2.27" fill="rgb(230, 201, 132)"/>
<rect x="129.5" y="247.4" width="11.1" height="2.27" fill="rgb(233, 203, 135)"/>
<rect x="140.7" y="247.4" width="15.0" height="2.27" fill="rgb(212, 181, 104)"/>
<rect x="155.7" y="247.4" width="13.2" height="2.27" fill="rgb(217, 186, 111)"/>
<rect x="168.9" y="247.4" width="17.5" height="2.27" fill="rgb(235, 206, 139)"/>
<rect x="186.4" y="247.4" width="12.5" height="2.27" fill="rgb(235, 206, 138)"/>
<rect x="198.9" y="247.4" width="14.8" height="2.27" fill="rgb(236, 207, 140)"/>
<rect x="213.7" y="247.4" width="9.5" height="2.27" fill="rgb(235, 206, 139)"/>
<rect x="223.3" y="247.4" width="8.0" height="2.27" fill="rgb(231, 202, 133)"/>
<rect x="231.3" y="247.4" width="25.3" height="2.27" fill="rgb(237, 209, 142)"/>
<rect x="256.5" y="247.4" width="24.2" height="2.27" fill="rgb(212, 181, 104)"/>
<rect x="280.7" y="247.4" width="20.2" height="2.27" fill="rgb(236, 207, 140)"/>
<rect x="6.0" y="249.7" width="21.0" height="2.29" fill="rgb(229, 200, 130)"/>
<rect x="27.0" y="249.7" width="10.7" height="2.29" fill="rgb(212, 181, 104)"/>
<rect x="37.7" y="249.7" width="14.9" height="2.29" fill="rgb(231, 202, 133)"/>
<rect x="52.6" y="249.7" width="16.9" height="2.29" fill="rgb(231, 202, 133)"/>
<rect x="69.6" y="249.7" width="10.9" height="2.29" fill="rgb(214, 183, 108)"/>
<rect x="80.4" y="249.7" width="17.4" height="2.29" fill="rgb(229, 199, 130)"/>
<rect x="97.8" y="249.7" width="13.8" height="2.29" fill="rgb(210, 179, 102)"/>
<rect x="111.6" y="249.7" width="8.6" height="2.29" fill="rgb(211, 180, 103)"/>
<rect x="120.1" y="249.7" width="20.2" height="2.29" fill="rgb(232, 202, 134)"/>
<rect x="140.3" y="249.7" width="18.4" height="2.29" fill="rgb(235, 207, 139)"/>
<rect x="158.7" y="249.7" width="20.4" height="2.29" fill="rgb(218, 187, 113)"/>
<rect x="179.1" y="249.7" width="20.3" height="2.29" fill="rgb(214, 184, 108)"/>
<rect x="199.4" y="249.7" width="24.7" height="2.29" fill="rgb(212, 181, 104)"/>
<rect x="224.0" y="249.7" width="23.2" height="2.29" fill="rgb(236, 208, 141)"/>
<rect x="247.2" y="249.7" width="9.8" height="2.29" fill="rgb(234, 205, 137)"/>
<rect x="257.0" y="249.7" width="12.6" height="2.29" fill="rgb(212, 181, 104)"/>
<rect x="269.6" y="249.7" width="19.0" height="2.29" fill="rgb(234, 205, 137)"/>
<rect x="6.0" y="252.0" width="25.0" height="2.32" fill="rgb(228, 199, 129)"/>
<rect x="31.0" y="252.0" width="20.5" height="2.32" fill="rgb(216, 185, 110)"/>
<rect x="51.5" y="252.0" width="21.0" height="2.32" fill="rgb(218, 188, 114)"/>
<rect x="72.4" y="252.0" width="25.9" height="2.32" fill="rgb(219, 189, 115)"/>
<rect x="98.4" y="252.0" width="19.6" height="2.32" fill="rgb(215, 184, 109)"/>
<rect x="118.0" y="252.0" width="17.1" height="2.32" fill="rgb(233, 204, 136)"/>
<rect x="135.1" y="252.0" width="18.9" height="2.32" fill="rgb(219, 189, 115)"/>
<rect x="154.1" y="252.0" width="23.5" height="2.32" fill="rgb(215, 184, 108)"/>
<rect x="177.5" y="252.0" width="13.1" height="2.32" fill="rgb(237, 209, 142)"/>
<rect x="190.6" y="252.0" width="17.7" height="2.32" fill="rgb(217, 187, 112)"/>
<rect x="208.3" y="252.0" width="22.8" height="2.32" fill="rgb(217, 186, 111)"/>
<rect x="231.1" y="252.0" width="26.3" height="2.32" fill="rgb(217, 187, 112)"/>
<rect x="257.4" y="252.0" width="10.7" height="2.32" fill="rgb(232, 203, 134)"/>
<rect x="268.1" y="252.0" width="8.5" height="2.32" fill="rgb(235, 206, 138)"/>
<rect x="276.7" y="252.0" width="18.7" height="2.32" fill="rgb(231, 202, 133)"/>
<rect x="6.0" y="254.3" width="26.2" height="2.35" fill="rgb(230, 200, 131)"/>
<rect x="32.2" y="254.3" width="24.5" height="2.35" fill="rgb(211, 180, 103)"/>
<rect x="56.6" y="254.3" width="26.3" height="2.35" fill="rgb(234, 205, 137)"/>
<rect x="82.9" y="254.3" width="12.3" height="2.35" fill="rgb(233, 204, 136)"/>
<rect x="95.2" y="254.3" width="15.9" height="2.35" fill="rgb(229, 200, 130)"/>
<rect x="111.1" y="254.3" width="19.5" height="2.35" fill="rgb(215, 185, 109)"/>
<rect x="130.6" y="254.3" width="12.9" height="2.35" fill="rgb(219, 188, 114)"/>
<rect x="143.5" y="254.3" width="25.0" height="2.35" fill="rgb(215, 184, 109)"/>
<rect x="168.6" y="254.3" width="11.3" height="2.35" fill="rgb(212, 181, 104)"/>
<rect x="179.8" y="254.3" width="11.3" height="2.35" fill="rgb(235, 206, 139)"/>
<rect x="191.2" y="254.3" width="26.0" height="2.35" fill="rgb(219, 188, 115)"/>
<rect x="217.2" y="254.3" width="11.4" height="2.35" fill="rgb(211, 180, 103)"/>
<rect x="228.6" y="254.3" width="20.0" height="2.35" fill="rgb(233, 204, 136)"/>
<rect x="248.7" y="254.3" width="19.7" height="2.35" fill="rgb(237, 209, 142)"/>
<rect x="268.4" y="254.3" width="13.4" height="2.35" fill="rgb(212, 181, 104)"/>
<rect x="281.8" y="254.3" width="21.0" height="2.35" fill="rgb(236, 208, 141)"/>
<rect x="6.0" y="256.6" width="23.4" height="2.37" fill="rgb(235, 206, 139)"/>
<rect x="29.4" y="256.6" width="14.2" height="2.37" fill="rgb(216, 185, 110)"/>
<rect x="43.6" y="256.6" width="25.0" height="2.37" fill="rgb(237, 209, 142)"/>
<rect x="68.6" y="256.6" width="25.5" height="2.37" fill="rgb(232, 203, 135)"/>
<rect x="94.1" y="256.6" width="23.7" height="2.37" fill="rgb(211, 180, 103)"/>
<rect x="117.9" y="256.6" width="17.9" height="2.37" fill="rgb(233, 203, 135)"/>
<rect x="135.8" y="256.6" width="11.6" height="2.37" fill="rgb(234, 205, 137)"/>
<rect x="147.4" y="256.6" width="26.0" height="2.37" fill="rgb(212, 181, 105)"/>
<rect x="173.4" y="256.6" width="26.2" height="2.37" fill="rgb(235, 206, 139)"/>
<rect x="199.6" y="256.6" width="21.8" height="2.37" fill="rgb(211, 180, 103)"/>
<rect x="221.5" y="256.6" width="24.1" height="2.37" fill="rgb(218, 188, 113)"/>
<rect x="245.6" y="256.6" width="9.6" height="2.37" fill="rgb(228, 198, 128)"/>
<rect x="255.2" y="256.6" width="23.6" height="2.37" fill="rgb(215, 184, 109)"/>
<rect x="278.8" y="256.6" width="8.3" height="2.37" fill="rgb(211, 180, 103)"/>
<rect x="6.0" y="259.0" width="14.3" height="2.40" fill="rgb(232, 203, 135)"/>
<rect x="20.3" y="259.0" width="20.3" height="2.40" fill="rgb(219, 189, 115)"/>
<rect x="40.6" y="259.0" width="11.6" height="2.40" fill="rgb(231, 202, 133)"/>
<rect x="52.1" y="259.0" width="9.6" height="2.40" fill="rgb(210, 179, 101)"/>
<rect x="61.7" y="259.0" width="16.3" height="2.40" fill="rgb(235, 206, 139)"/>
<rect x="78.0" y="259.0" width="18.9" height="2.40" fill="rgb(211, 180, 103)"/>
<rect x="96.9" y="259.0" width="10.9" height="2.40" fill="rgb(212, 181, 105)"/>
<rect x="107.8" y="259.0" width="16.9" height="2.40" fill="rgb(234, 205, 137)"/>
<rect x="124.7" y="259.0" width="9.9" height="2.40" fill="rgb(233, 204, 136)"/>
<rect x="134.6" y="259.0" width="8.8" height="2.40" fill="rgb(212, 180, 104)"/>
<rect x="143.3" y="259.0" width="25.3" height="2.40" fill="rgb(216, 185, 110)"/>
<rect x="168.6" y="259.0" width="23.3" height="2.40" fill="rgb(213, 182, 106)"/>
<rect x="191.9" y="259.0" width="22.3" height="2.40" fill="rgb(217, 186, 112)"/>
<rect x="214.2" y="259.0" width="25.7" height="2.40" fill="rgb(211, 180, 103)"/>
<rect x="239.9" y="259.0" width="8.3" height="2.40" fill="rgb(215, 185, 109)"/>
<rect x="248.1" y="259.0" width="26.3" height="2.40" fill="rgb(212, 181, 104)"/>
<rect x="274.5" y="259.0" width="8.4" height="2.40" fill="rgb(230, 201, 131)"/>
<rect x="282.8" y="259.0" width="10.6" height="2.40" fill="rgb(215, 184, 108)"/>
<rect x="6.0" y="261.4" width="26.8" height="2.43" fill="rgb(218, 187, 113)"/>
<rect x="32.8" y="261.4" width="23.8" height="2.43" fill="rgb(213, 182, 106)"/>
<rect x="56.7" y="261.4" width="14.1" height="2.43" fill="rgb(237, 208, 141)"/>
<rect x="70.8" y="261.4" width="7.6" height="2.43" fill="rgb(214, 183, 107)"/>
<rect x="78.4" y="261.4" width="24.1" height="2.43" fill="rgb(212, 181, 105)"/>
<rect x="102.5" y="261.4" width="20.9" height="2.43" fill="rgb(232, 203, 134)"/>
<rect x="123.4" y="261.4" width="21.1" height="2.43" fill="rgb(219, 189, 115)"/>
<rect x="144.5" y="261.4" width="24.3" height="2.43" fill="rgb(230, 200, 131)"/>
<rect x="168.8" y="261.4" width="21.8" height="2.43" fill="rgb(213, 182, 105)"/>
<rect x="190.6" y="261.4" width="27.4" height="2.43" fill="rgb(214, 183, 107)"/>
<rect x="218.0" y="261.4" width="14.7" height="2.43" fill="rgb(219, 188, 114)"/>
<rect x="232.7" y="261.4" width="12.4" height="2.43" fill="rgb(219, 188, 114)"/>
<rect x="245.1" y="261.4" width="13.1" height="2.43" fill="rgb(235, 206, 139)"/>
<rect x="258.1" y="261.4" width="10.5" height="2.43" fill="rgb(235, 206, 139)"/>
<rect x="268.7" y="261.4" width="7.7" height="2.43" fill="rgb(219, 189, 115)"/>
<rect x="276.4" y="261.4" width="21.3" height="2.43" fill="rgb(214, 183, 108)"/>
<rect x="6.0" y="263.8" width="16.9" height="2.46" fill="rgb(237, 208, 141)"/>
<rect x="22.9" y="263.8" width="19.3" height="2.46" fill="rgb(210, 179, 102)"/>
<rect x="42.2" y="263.8" width="22.5" height="2.46" fill="rgb(210, 179, 102)"/>
<rect x="64.7" y="263.8" width="24.6" height="2.46" fill="rgb(213, 182, 105)"/>
<rect x="89.4" y="263.8" width="10.4" height="2.46" fill="rgb(236, 207, 140)"/>
<rect x="99.7" y="263.8" width="8.7" height="2.46" fill="rgb(232, 203, 134)"/>
<rect x="108.5" y="263.8" width="22.0" height="2.46" fill="rgb(235, 207, 139)"/>
<rect x="130.5" y="263.8" width="24.8" height="2.46" fill="rgb(216, 186, 111)"/>
<rect x="155.3" y="263.8" width="9.6" height="2.46" fill="rgb(229, 200, 130)"/>
<rect x="164.8" y="263.8" width="26.9" height="2.46" fill="rgb(235, 206, 139)"/>
<rect x="191.7" y="263.8" width="24.6" height="2.46" fill="rgb(230, 201, 132)"/>
<rect x="216.3" y="263.8" width="12.7" height="2.46" fill="rgb(233, 204, 136)"/>
<rect x="229.1" y="263.8" width="14.6" height="2.46" fill="rgb(237, 208, 141)"/>
<rect x="243.6" y="263.8" width="14.3" height="2.46" fill="rgb(211, 179, 102)"/>
<rect x="257.9" y="263.8" width="23.8" height="2.46" fill="rgb(218, 188, 114)"/>
<rect x="281.7" y="263.8" width="24.4" height="2.46" fill="rgb(232, 203, 134)"/>
<rect x="6.0" y="266.3" width="14.6" height="2.48" fill="rgb(214, 183, 107)"/>
<rect x="20.6" y="266.3" width="27.5" height="2.48" fill="rgb(217, 187, 112)"/>
<rect x="48.1" y="266.3" width="8.8" height="2.48" fill="rgb(210, 179, 101)"/>
<rect x="56.9" y="266.3" width="16.0" height="2.48" fill="rgb(213, 182, 106)"/>
<rect x="72.9" y="266.3" width="12.2" height="2.48" fill="rgb(212, 181, 105)"/>
<rect x="85.1" y="266.3" width="16.5" height="2.48" fill="rgb(210, 178, 101)"/>
<rect x="101.6" y="266.3" width="11.3" height="2.48" fill="rgb(234, 205, 137)"/>
<rect x="112.9" y="266.3" width="11.1" height="2.48" fill="rgb(235, 206, 139)"/>
<rect x="124.0" y="266.3" width="12.8" height="2.48" fill="rgb(237, 208, 142)"/>
<rect x="136.8" y="266.3" width="9.6" height="2.48" fill="rgb(213, 182, 106)"/>
<rect x="146.3" y="266.3" width="20.4" height="2.48" fill="rgb(213, 182, 106)"/>
<rect x="166.7" y="266.3" width="19.9" height="2.48" fill="rgb(231, 201, 132)"/>
<rect x="186.6" y="266.3" width="9.0" height="2.48" fill="rgb(214, 183, 107)"/>
<rect x="195.6" y="266.3" width="9.2" height="2.48" fill="rgb(218, 188, 113)"/>
<rect x="204.8" y="266.3" width="10.0" height="2.48" fill="rgb(234, 205, 137)"/>
<rect x="214.8" y="266.3" width="18.1" height="2.48" fill="rgb(237, 208, 141)"/>
<rect x="233.0" y="266.3" width="16.9" height="2.48" fill="rgb(217, 186, 112)"/>
<rect x="249.9" y="266.3" width="15.8" height="2.48" fill="rgb(215, 184, 109)"/>
<rect x="265.7" y="266.3" width="22.6" height="2.48" fill="rgb(211, 180, 103)"/>
<rect x="6.0" y="268.8" width="17.3" height="2.51" fill="rgb(236, 207, 140)"/>
<rect x="23.3" y="268.8" width="8.4" height="2.51" fill="rgb(218, 188, 114)"/>
<rect x="31.7" y="268.8" width="12.1" height="2.51" fill="rgb(234, 205, 138)"/>
<rect x="43.7" y="268.8" width="13.5" height="2.51" fill="rgb(211, 180, 103)"/>
<rect x="57.2" y="268.8" width="9.3" height="2.51" fill="rgb(218, 187, 113)"/>
<rect x="66.5" y="268.8" width="21.4" height="2.51" fill="rgb(234, 205, 137)"/>
<rect x="87.8" y="268.8" width="11.5" height="2.51" fill="rgb(215, 184, 108)"/>
<rect x="99.3" y="268.8" width="25.0" height="2.51" fill="rgb(216, 185, 110)"/>
<rect x="124.4" y="268.8" width="21.2" height="2.51" fill="rgb(219, 188, 115)"/>
<rect x="145.6" y="268.8" width="13.9" height="2.51" fill="rgb(236, 207, 140)"/>
<rect x="159.5" y="268.8" width="10.4" height="2.51" fill="rgb(231, 202, 133)"/>
<rect x="169.9" y="268.8" width="22.7" height="2.51" fill="rgb(216, 185, 110)"/>
<rect x="192.6" y="268.8" width="23.0" height="2.51" fill="rgb(231, 202, 133)"/>
<rect x="215.6" y="268.8" width="18.6" height="2.51" fill="rgb(211, 180, 102)"/>
<rect x="234.2" y="268.8" width="26.5" height="2.51" fill="rgb(217, 186, 111)"/>
<rect x="260.7" y="268.8" width="15.6" height="2.51" fill="rgb(217, 187, 112)"/>
<rect x="276.3" y="268.8" width="11.8" height="2.51" fill="rgb(212, 181, 104)"/>
<rect x="6.0" y="271.3" width="25.6" height="2.54" fill="rgb(213, 182, 106)"/>
<rect x="31.6" y="271.3" width="17.6" height="2.54" fill="rgb(219, 189, 115)"/>
<rect x="49.2" y="271.3" width="21.6" height="2.54" fill="rgb(230, 200, 131)"/>
<rect x="70.9" y="271.3" width="8.4" height="2.54" fill="rgb(232, 203, 135)"/>
<rect x="79.3" y="271.3" width="10.1" height="2.54" fill="rgb(228, 199, 129)"/>
<rect x="89.4" y="271.3" width="10.3" height="2.54" fill="rgb(237, 208, 141)"/>
<rect x="99.7" y="271.3" width="26.8" height="2.54" fill="rgb(232, 203, 134)"/>
<rect x="126.5" y="271.3" width="10.3" height="2.54" fill="rgb(217, 186, 112)"/>
<rect x="136.8" y="271.3" width="17.1" height="2.54" fill="rgb(210, 179, 101)"/>
<rect x="153.8" y="271.3" width="19.4" height="2.54" fill="rgb(214, 183, 108)"/>
<rect x="173.2" y="271.3" width="17.9" height="2.54" fill="rgb(214, 183, 107)"/>
<rect x="191.1" y="271.3" width="26.0" height="2.54" fill="rgb(229, 199, 129)"/>
<rect x="217.1" y="271.3" width="27.5" height="2.54" fill="rgb(217, 186, 112)"/>
<rect x="244.5" y="271.3" width="11.4" height="2.54" fill="rgb(230, 200, 131)"/>
<rect x="255.9" y="271.3" width="9.5" height="2.54" fill="rgb(232, 203, 135)"/>
<rect x="265.5" y="271.3" width="27.5" height="2.54" fill="rgb(219, 188, 114)"/>
<rect x="6.0" y="273.8" width="17.4" height="2.57" fill="rgb(228, 199, 129)"/>
<rect x="23.4" y="273.8" width="13.8" height="2.57" fill="rgb(228, 199, 129)"/>
<rect x="37.2" y="273.8" width="22.7" height="2.57" fill="rgb(232, 203, 135)"/>
<rect x="59.8" y="273.8" width="11.7" height="2.57" fill="rgb(213, 182, 106)"/>
<rect x="71.5" y="273.8" width="24.9" height="2.57" fill="rgb(213, 182, 106)"/>
<rect x="96.4" y="273.8" width="22.3" height="2.57" fill="rgb(214, 183, 107)"/>
<rect x="118.8" y="273.8" width="12.8" height="2.57" fill="rgb(234, 205, 137)"/>
<rect x="131.6" y="273.8" width="10.8" height="2.57" fill="rgb(229, 199, 130)"/>
<rect x="142.4" y="273.8" width="24.8" height="2.57" fill="rgb(235, 206, 139)"/>
<rect x="167.1" y="273.8" width="25.9" height="2.57" fill="rgb(234, 205, 137)"/>
<rect x="193.0" y="273.8" width="21.6" height="2.57" fill="rgb(219, 189, 115)"/>
<rect x="214.6" y="273.8" width="17.5" height="2.57" fill="rgb(215, 184, 109)"/>
<rect x="232.1" y="273.8" width="25.7" height="2.57" fill="rgb(232, 203, 134)"/>
<rect x="257.9" y="273.8" width="10.8" height="2.57" fill="rgb(216, 186, 111)"/>
<rect x="268.7" y="273.8" width="14.5" height="2.57" fill="rgb(210, 179, 101)"/>
<rect x="6.0" y="276.4" width="16.5" height="2.60" fill="rgb(219, 189, 115)"/>
<rect x="22.5" y="276.4" width="28.0" height="2.60" fill="rgb(219, 188, 115)"/>
<rect x="50.5" y="276.4" width="15.9" height="2.60" fill="rgb(234, 205, 138)"/>
<rect x="66.4" y="276.4" width="12.4" height="2.60" fill="rgb(218, 187, 113)"/>
<rect x="78.8" y="276.4" width="17.9" height="2.60" fill="rgb(237, 209, 142)"/>
<rect x="96.7" y="276.4" width="17.6" height="2.60" fill="rgb(210, 178, 101)"/>
<rect x="114.4" y="276.4" width="24.0" height="2.60" fill="rgb(215, 185, 109)"/>
<rect x="138.3" y="276.4" width="15.2" height="2.60" fill="rgb(214, 183, 107)"/>
<rect x="153.6" y="276.4" width="24.3" height="2.60" fill="rgb(211, 180, 103)"/>
<rect x="177.8" y="276.4" width="8.0" height="2.60" fill="rgb(234, 205, 137)"/>
<rect x="185.8" y="276.4" width="18.0" height="2.60" fill="rgb(229, 199, 130)"/>
<rect x="203.8" y="276.4" width="13.0" height="2.60" fill="rgb(217, 186, 111)"/>
<rect x="216.8" y="276.4" width="16.8" height="2.60" fill="rgb(210, 178, 101)"/>
<rect x="233.6" y="276.4" width="10.8" height="2.60" fill="rgb(236, 208, 141)"/>
<rect x="244.4" y="276.4" width="9.2" height="2.60" fill="rgb(215, 184, 109)"/>
<rect x="253.6" y="276.4" width="9.6" height="2.60" fill="rgb(235, 207, 139)"/>
<rect x="263.2" y="276.4" width="13.3" height="2.60" fill="rgb(211, 180, 103)"/>
<rect x="276.5" y="276.4" width="28.2" height="2.60" fill="rgb(237, 209, 142)"/>
<rect x="6.0" y="279.0" width="23.2" height="2.63" fill="rgb(219, 189, 115)"/>
<rect x="29.2" y="279.0" width="27.6" height="2.63" fill="rgb(210, 178, 101)"/>
<rect x="56.8" y="279.0" width="27.3" height="2.63" fill="rgb(217, 186, 111)"/>
<rect x="84.1" y="279.0" width="28.7" height="2.63" fill="rgb(215, 184, 109)"/>
<rect x="112.8" y="279.0" width="19.3" height="2.63" fill="rgb(236, 207, 140)"/>
<rect x="132.1" y="279.0" width="22.0" height="2.63" fill="rgb(215, 184, 109)"/>
<rect x="154.1" y="279.0" width="18.7" height="2.63" fill="rgb(236, 208, 141)"/>
<rect x="172.8" y="279.0" width="28.6" height="2.63" fill="rgb(215, 184, 109)"/>
<rect x="201.4" y="279.0" width="20.7" height="2.63" fill="rgb(233, 204, 136)"/>
<rect x="222.1" y="279.0" width="11.9" height="2.63" fill="rgb(234, 205, 137)"/>
<rect x="233.9" y="279.0" width="16.8" height="2.63" fill="rgb(234, 205, 138)"/>
<rect x="250.8" y="279.0" width="9.6" height="2.63" fill="rgb(213, 182, 106)"/>
<rect x="260.4" y="279.0" width="18.1" height="2.63" fill="rgb(235, 207, 139)"/>
<rect x="278.4" y="279.0" width="8.2" height="2.63" fill="rgb(231, 202, 133)"/>
<rect x="6.0" y="281.6" width="24.5" height="2.66" fill="rgb(215, 184, 109)"/>
<rect x="30.5" y="281.6" width="15.1" height="2.66" fill="rgb(210, 178, 101)"/>
<rect x="45.5" y="281.6" width="10.0" height="2.66" fill="rgb(214, 183, 107)"/>
<rect x="55.5" y="281.6" width="16.7" height="2.66" fill="rgb(210, 179, 102)"/>
<rect x="72.3" y="281.6" width="13.1" height="2.66" fill="rgb(231, 202, 133)"/>
<rect x="85.4" y="281.6" width="18.7" height="2.66" fill="rgb(229, 199, 129)"/>
<rect x="104.1" y="281.6" width="12.9" height="2.66" fill="rgb(211, 179, 102)"/>
<rect x="117.0" y="281.6" width="10.5" height="2.66" fill="rgb(211, 179, 102)"/>
<rect x="127.5" y="281.6" width="21.4" height="2.66" fill="rgb(215, 184, 108)"/>
<rect x="148.9" y="281.6" width="17.9" height="2.66" fill="rgb(233, 204, 136)"/>
<rect x="166.7" y="281.6" width="15.7" height="2.66" fill="rgb(231, 201, 132)"/>
<rect x="182.5" y="281.6" width="25.6" height="2.66" fill="rgb(213, 182, 105)"/>
<rect x="208.0" y="281.6" width="24.9" height="2.66" fill="rgb(231, 202, 133)"/>
<rect x="233.0" y="281.6" width="28.8" height="2.66" fill="rgb(236, 207, 140)"/>
<rect x="261.8" y="281.6" width="21.9" height="2.66" fill="rgb(212, 181, 105)"/>
<rect x="6.0" y="284.3" width="29.2" height="2.69" fill="rgb(216, 185, 110)"/>
<rect x="35.2" y="284.3" width="26.6" height="2.69" fill="rgb(229, 200, 130)"/>
<rect x="61.8" y="284.3" width="9.6" height="2.69" fill="rgb(236, 207, 140)"/>
<rect x="71.3" y="284.3" width="27.2" height="2.69" fill="rgb(218, 187, 113)"/>
<rect x="98.5" y="284.3" width="8.5" height="2.69" fill="rgb(235, 206, 138)"/>
<rect x="107.0" y="284.3" width="14.1" height="2.69" fill="rgb(212, 180, 104)"/>
<rect x="121.1" y="284.3" width="26.3" height="2.69" fill="rgb(213, 181, 105)"/>
<rect x="147.4" y="284.3" width="8.2" height="2.69" fill="rgb(218, 187, 113)"/>
<rect x="155.6" y="284.3" width="27.7" height="2.69" fill="rgb(219, 189, 115)"/>
<rect x="183.4" y="284.3" width="10.6" height="2.69" fill="rgb(210, 178, 101)"/>
<rect x="194.0" y="284.3" width="11.4" height="2.69" fill="rgb(228, 199, 129)"/>
<rect x="205.4" y="284.3" width="15.7" height="2.69" fill="rgb(232, 202, 134)"/>
<rect x="221.1" y="284.3" width="18.6" height="2.69" fill="rgb(231, 202, 132)"/>
<rect x="239.7" y="284.3" width="28.3" height="2.69" fill="rgb(229, 200, 130)"/>
<rect x="268.0" y="284.3" width="10.1" height="2.69" fill="rgb(213, 181, 105)"/>
<rect x="278.1" y="284.3" width="13.9" height="2.69" fill="rgb(231, 202, 133)"/>
<rect x="6.0" y="287.0" width="19.0" height="2.72" fill="rgb(213, 182, 106)"/>
<rect x="25.0" y="287.0" width="29.9" height="2.72" fill="rgb(212, 181, 104)"/>
<rect x="54.9" y="287.0" width="26.6" height="2.72" fill="rgb(231, 202, 133)"/>
<rect x="81.5" y="287.0" width="23.9" height="2.72" fill="rgb(216, 186, 111)"/>
<rect x="105.4" y="287.0" width="9.8" height="2.72" fill="rgb(228, 199, 129)"/>
<rect x="115.2" y="287.0" width="21.1" height="2.72" fill="rgb(212, 180, 104)"/>
<rect x="136.3" y="287.0" width="18.1" height="2.72" fill="rgb(235, 207, 139)"/>
<rect x="154.4" y="287.0" width="13.3" height="2.72" fill="rgb(211, 180, 103)"/>
<rect x="167.7" y="287.0" width="18.6" height="2.72" fill="rgb(229, 199, 130)"/>
<rect x="186.3" y="287.0" width="12.4" height="2.72" fill="rgb(218, 188, 114)"/>
<rect x="198.7" y="287.0" width="22.1" height="2.72" fill="rgb(212, 181, 104)"/>
<rect x="220.9" y="287.0" width="19.2" height="2.72" fill="rgb(235, 206, 138)"/>
<rect x="240.1" y="287.0" width="8.9" height="2.72" fill="rgb(217, 187, 112)"/>
<rect x="249.0" y="287.0" width="14.6" height="2.72" fill="rgb(234, 205, 137)"/>
<rect x="263.6" y="287.0" width="28.0" height="2.72" fill="rgb(210, 178, 101)"/>
<rect x="6.0" y="289.7" width="30.3" height="2.75" fill="rgb(229, 199, 129)"/>
<rect x="36.3" y="289.7" width="9.7" height="2.75" fill="rgb(235, 206, 139)"/>
<rect x="46.0" y="289.7" width="26.6" height="2.75" fill="rgb(231, 202, 133)"/>
<rect x="72.5" y="289.7" width="19.8" height="2.75" fill="rgb(228, 199, 128)"/>
<rect x="92.4" y="289.7" width="21.8" height="2.75" fill="rgb(217, 186, 111)"/>
<rect x="114.1" y="289.7" width="15.5" height="2.75" fill="rgb(218, 187, 113)"/>
<rect x="129.6" y="289.7" width="28.9" height="2.75" fill="rgb(215, 184, 109)"/>
<rect x="158.5" y="289.7" width="12.7" height="2.75" fill="rgb(212, 180, 104)"/>
<rect x="171.1" y="289.7" width="24.2" height="2.75" fill="rgb(234, 205, 138)"/>
<rect x="195.3" y="289.7" width="18.8" height="2.75" fill="rgb(235, 206, 139)"/>
<rect x="214.1" y="289.7" width="10.6" height="2.75" fill="rgb(213, 182, 106)"/>
<rect x="224.8" y="289.7" width="18.0" height="2.75" fill="rgb(217, 186, 112)"/>
<rect x="242.7" y="289.7" width="23.1" height="2.75" fill="rgb(215, 184, 109)"/>
<rect x="265.8" y="289.7" width="27.1" height="2.75" fill="rgb(235, 206, 139)"/>
<rect x="6.0" y="292.4" width="16.6" height="2.78" fill="rgb(235, 206, 139)"/>
<rect x="22.6" y="292.4" width="24.5" height="2.78" fill="rgb(234, 205, 137)"/>
<rect x="47.2" y="292.4" width="10.7" height="2.78" fill="rgb(228, 199, 129)"/>
<rect x="57.9" y="292.4" width="28.9" height="2.78" fill="rgb(219, 189, 115)"/>
<rect x="86.8" y="292.4" width="30.2" height="2.78" fill="rgb(219, 188, 115)"/>
<rect x="117.0" y="292.4" width="23.6" height="2.78" fill="rgb(217, 186, 111)"/>
<rect x="140.6" y="292.4" width="9.9" height="2.78" fill="rgb(232, 203, 134)"/>
<rect x="150.5" y="292.4" width="10.3" height="2.78" fill="rgb(234, 206, 138)"/>
<rect x="160.8" y="292.4" width="24.3" height="2.78" fill="rgb(219, 189, 115)"/>
<rect x="185.1" y="292.4" width="28.6" height="2.78" fill="rgb(214, 183, 108)"/>
<rect x="213.7" y="292.4" width="24.0" height="2.78" fill="rgb(229, 200, 130)"/>
<rect x="237.7" y="292.4" width="20.2" height="2.78" fill="rgb(229, 200, 130)"/>
<rect x="257.9" y="292.4" width="12.2" height="2.78" fill="rgb(235, 206, 138)"/>
<rect x="270.2" y="292.4" width="16.4" height="2.78" fill="rgb(215, 184, 109)"/>
</g>
<rect x="6" y="152" width="277" height="2" fill="#d6d2ca"/>
<g stroke-width="0.9" opacity="0.35">
<line x1="6" y1="178" x2="120" y2="177" stroke="#f5e2b0"/><line x1="150" y1="190" x2="283" y2="188" stroke="#c9a865"/>
<line x1="6" y1="200" x2="100" y2="201" stroke="#c9a865"/><line x1="180" y1="214" x2="283" y2="213" stroke="#f5e2b0"/>
<line x1="6" y1="262" x2="110" y2="261" stroke="#f5e6bb"/><line x1="180" y1="242" x2="283" y2="241" stroke="#c9a865"/>
<line x1="6" y1="272" x2="60" y2="272" stroke="#d2b272"/><line x1="200" y1="268" x2="283" y2="267" stroke="#f5e6bb"/>
</g>
<polygon points="6,150 19.5,150 25,155.5 6,168.3" fill="#1d1e20"/>
<!-- right floor equipment -->

<path d="M221,153 C222,160 224,167 226,172 M242,176 C250,178 262,186 283,189" fill="none" stroke="#2a2824" stroke-width="0.7"/>
<line x1="228.5" y1="150" x2="241.5" y2="172" stroke="#1e1e1e" stroke-width="2"/>
<ellipse cx="235" cy="174.2" rx="7" ry="2.3" fill="#1a1a1a"/>
<line x1="187" y1="178" x2="242" y2="177" stroke="#222" stroke-width="0.9"/>
<!-- tripod left -->

<rect x="111" y="104" width="7" height="3.5" fill="#b89a40"/><rect x="111.5" y="107.5" width="6" height="5" fill="#2a2a2a"/>
<circle cx="114.3" cy="100" r="4.2" fill="#0f0f0f"/>
<rect x="99" y="147" width="26" height="5" fill="#3c3c3c"/>
<rect x="99" y="152" width="26" height="5" fill="#cdcdcd"/>
<rect x="99" y="157" width="26" height="6" fill="#8c8c8c"/>
<rect x="99" y="163" width="26" height="4" fill="#2c2c2c"/>
<line x1="114" y1="110" x2="100.5" y2="148" stroke="#111" stroke-width="1.4"/>
<line x1="115" y1="110" x2="125" y2="145" stroke="#111" stroke-width="1.4"/>
<line x1="116.2" y1="112" x2="116.2" y2="176" stroke="#161616" stroke-width="2.2"/>
<line x1="100.7" y1="179" x2="116.5" y2="176" stroke="#1a1a1a" stroke-width="1"/>

<path d="M176,150 C180,160 186,162 190,165" stroke="#2a2a2a" stroke-width="0.8" fill="none"/>
<!-- tripod right -->
<line x1="207" y1="108" x2="187" y2="185" stroke="#151515" stroke-width="1.8"/>
<polyline points="208,110 231,146 244,168" fill="none" stroke="#151515" stroke-width="1.5"/>

<line x1="187" y1="185" x2="205" y2="178" stroke="#222" stroke-width="1.3"/>
<rect x="203" y="95" width="9" height="13" fill="#3b3a33"/><rect x="205" y="97.5" width="5" height="5" fill="#9d9270"/>
<!-- inset (knee zoom) -->
<g clip-path="url(#ic)">
<rect x="32" y="126" width="68" height="126" fill="#e6cd96"/>
<rect x="32" y="126" width="68" height="126" fill="url(#insetfl)"/>
<line x1="33" y1="172" x2="98" y2="172" stroke="#f1e0b5" stroke-width="1"/>
<line x1="33" y1="196" x2="98" y2="196" stroke="#d6b677" stroke-width="1"/>
<line x1="33" y1="236" x2="98" y2="236" stroke="#f1e0b5" stroke-width="1"/>
<path d="M44.6,152 C45,165 45.5,180 46.5,195 C47,208 47.5,220 48.5,232 C49.5,240 51,246 52.5,252 L78.5,252 C79,243 79.5,234 80,225 C80.5,215 81.5,205 83.5,192 C85.5,180 87.5,168 89.4,152 Z" fill="url(#ilegg)"/>
<ellipse cx="62" cy="181" rx="14" ry="15" fill="url(#kneeg)"/>
<ellipse cx="79" cy="190" rx="5" ry="16" fill="url(#kneesh)"/>
<path d="M49,205 C49.5,220 51,235 54,250" fill="none" stroke="#d0a383" stroke-width="3" opacity="0.5"/>
<path d="M36.5,127 L94,127 C93.5,133 93,138 92.2,141.4 C91,146 89.5,150 87.9,152.2 C84,155 79,156.6 72,157.8 C66,158.8 62,159.5 59,159.5 C54,159.2 50,158.5 47.4,157.3 C45,153 43,149 41.6,145.7 C39.5,140 37.5,133 36.5,127 Z" fill="#131212"/>
<rect x="95.8" y="127" width="2.4" height="20" fill="#1a1a1a"/>
<rect x="61.8" y="142.8" width="4.6" height="4.6" fill="#6e6e6e"/><circle cx="64.1" cy="145.1" r="1.5" fill="#e8e8e8"/>
<circle cx="50.4" cy="180.4" r="1.6" fill="#8d8f92"/><circle cx="50.1" cy="180" r="0.8" fill="#f0f0f0"/><circle cx="79.2" cy="183" r="1.6" fill="#8d8f92"/><circle cx="78.9" cy="182.6" r="0.8" fill="#f0f0f0"/><circle cx="58" cy="226.8" r="1.6" fill="#8d8f92"/><circle cx="57.7" cy="226.4" r="0.8" fill="#f0f0f0"/>
<polyline points="36.5,187.5 37.3,183.8 48.5,183.3" fill="none" stroke="#e0566a" stroke-width="1.1" opacity="0.8"/>
<line x1="33" y1="215.7" x2="40" y2="215.7" stroke="#e0566a" stroke-width="1" opacity="0.75"/>
</g>
<rect x="32.3" y="126.6" width="66.4" height="123.8" fill="none" stroke="#f07020" stroke-width="1.8"/>
<!-- person -->
<defs>
<linearGradient id="armg" x1="0" y1="0" x2="0" y2="1">
 <stop offset="0" stop-color="#f1dcc8"/><stop offset="0.45" stop-color="#ecd1ba"/><stop offset="1" stop-color="#cf9f79"/>
</linearGradient>
</defs>
<!-- left arm -->
<path d="M126,77.5 C115,77 103,78.5 90,80.5 C84,81.3 80,82 76,82.6 C66,84.5 56,86.8 46,89.3 L42,90.5 L42,99.5 L48,95.4 C58,94.2 66,93.4 76,92.8 C82,92.9 86,93.2 90,93.5 C102,94 114,95 126,97 Z" fill="url(#armg)"/>
<path d="M89.5,80 C92,79 98,79 100.5,80 L101,96 C101,99 99,100 95.5,100 C92,100 90,99 89.5,96 Z" fill="#0e0e0e"/>
<circle cx="48" cy="90.5" r="0.7" fill="#5a3c2c"/>
<!-- left controller -->
<path d="M31,93.8 L44,94.6 L45.5,101 L31,103 Z" fill="#1f2234"/>
<path d="M33,92.5 C37,90 44,89.6 49,91 C52,93 52.5,97 51,100 C48.5,103.5 42,104.5 38,103.5 C35,102.5 33,100 33,97 Z" fill="#d4a282"/>
<path d="M38,99.5 L52,97.3 L53.5,100.3 L44,104 L38,103.5 Z" fill="#1f2234"/>
<path d="M22.5,96 C22,93 24.5,92 27.5,92 C31,92 33,93.5 33,96.5 L33,103 C33,106 30.5,107.8 27.5,107.8 C24.5,107.8 22.3,106 22.3,103 Z" fill="#1e2132"/>
<ellipse cx="27" cy="99.8" rx="1.6" ry="2.3" fill="#d8d8d8"/>
<!-- torso -->
<path d="M123,81 C128,78 134,75.5 140,73 L143,70 L156,70 L159,73 C164,75 169,77 172,81 C173.5,100 172.5,115 171.5,128 C171,135 171.5,140 171.5,145 L127,145 C127,138 126.5,130 126,120 C125.5,108 124,95 123,81 Z" fill="url(#torso)"/>
<circle cx="149" cy="84.1" r="0.9" fill="#4a3428"/>
<path d="M130,108 C136,112 143,112 148,109 M152,109 C158,112 165,112 170,108" fill="none" stroke="#a98266" stroke-width="1.2" opacity="0.5"/>
<line x1="149.5" y1="112" x2="149.5" y2="135" stroke="#a47e63" stroke-width="0.8" opacity="0.5"/>
<!-- right arm -->
<path d="M166,79 C172,77 178,76.5 186,77.5 C205,80.5 225,83.5 242,86.5 C245,87.2 247,88 249,89 L249,97 C246,96 243.5,95 241,94 C225,92.5 205,92.5 188,93 C180,93.5 174,94.5 170,95.5 Z" fill="url(#armg)"/>
<path d="M195,80.5 C197,80 201,80 203,80.5 L203.5,97 C203.5,100 201,101 199,101 C196.5,101 195,100 195,97 Z" fill="#0e0e0e"/>
<circle cx="243" cy="90" r="0.8" fill="#3a2a22"/>
<!-- right controller -->
<path d="M239.3,95 L253,96.5 L253,100.8 L239.3,99.3 Z" fill="#1f2234"/>
<path d="M242,88.5 C246,87.5 251,88 254.5,90.5 C257,93 257.5,97 256,100 C254,102.5 249,103 245.5,102 C242.5,100.5 241,97 241,93.5 Z" fill="#dcae8e"/>
<path d="M239.3,95.3 L246,96.6 L247,100.8 L239.3,99.6 Z" fill="#1c1f30"/>
<ellipse cx="261.5" cy="98" rx="5.6" ry="5.3" fill="#222446" stroke="#30326e" stroke-width="2.2"/>
<ellipse cx="262.5" cy="98.6" rx="2" ry="2.6" fill="#4a4c70"/>
<!-- head -->
<path d="M137,57 L159.5,57 C160.5,66 158.5,74 154.5,80 L142,80 C138,74 136,66 137,57 Z" fill="#8f6c57"/>
<path d="M137.5,60 C138,69 141.5,77 148,80.5 C155,77 159,69 159.5,60 C155,66 151.5,67.5 148.5,67.5 C145,67.5 141.5,66 137.5,60 Z" fill="#382a21"/>
<path d="M145,64 C146.5,67 149.5,67 151,64 Z" fill="#6a4c3c"/>
<!-- headset -->
<path d="M134,55 C133,48 139,43 149,42.5 C158,42.5 165,46 165.5,52 C166,57 162,60 156,60.5 C150,61 142,61 138,59.5 C135.5,58.5 134.2,57 134,55 Z" fill="#2c2d68"/>
<ellipse cx="133.2" cy="57.5" rx="3.2" ry="4.6" fill="#262757"/><path d="M163,52 L170.5,55 L169.5,62 L164,62 Z" fill="#2a2b60"/>
<g fill="#b9bbd8"><circle cx="142" cy="47.5" r="0.7"/><circle cx="148" cy="45.5" r="0.7"/><circle cx="154" cy="47" r="0.7"/><circle cx="159" cy="50" r="0.7"/><circle cx="145" cy="52" r="0.7"/><circle cx="151" cy="53.5" r="0.7"/><circle cx="157" cy="55" r="0.7"/><circle cx="138.5" cy="53" r="0.7"/><circle cx="167" cy="56" r="0.7"/></g>
<path d="M118,33 C124,36 128,42 131,50 M124,32 C129,38 133,44 135,47 M114,36 C118,40 121,45 122,52" fill="none" stroke="#2b2b2b" stroke-width="0.7"/>
<!-- harness -->
<path d="M136.3,70 L147,90 M161,70 L157.5,91" stroke="#111" stroke-width="2.6" fill="none"/>
<path d="M124.5,101.5 C132,100 140,99 150,99 C158,99 165,99.5 171.5,100 L171.5,104 C160,104 150,104.5 140,104.5 C134,104.5 129,105 124.5,106 Z" fill="#121212"/>
<rect x="146.2" y="88.4" width="12.7" height="16.5" rx="2" fill="#1a1a1a"/><circle cx="152.5" cy="95" r="3" fill="#3a3a3a"/><rect x="149" y="88" width="6" height="2.5" fill="#2a2a2a"/>
<!-- belt & shorts -->
<path d="M127,143 L171.5,143 L173.5,160 L174,195 L152.5,196 L149.5,185 L147,185 L146,198 L125.5,198 L124.4,170 L126,150 Z" fill="#0f0f0f"/>
<path d="M127,141 C137,143.5 143,145.5 151,145.8 C159,145.5 165,143.5 171.5,141.5 L171.5,139 L127,139 Z" fill="#d3b298"/>
<ellipse cx="151.8" cy="139.9" rx="1.3" ry="1" fill="#5a4030"/>
<path d="M126,146.5 C135,150.5 143,153 150,153.7 M159,152.5 C164,151.8 167,150.8 170.5,149.3" stroke="#c4874f" stroke-width="1.8" fill="none"/>
<rect x="148" y="147" width="11" height="10" rx="1.5" fill="#262626"/><circle cx="153.5" cy="152" r="2" fill="#3c3c3c"/>
<rect x="136.8" y="191" width="2.5" height="2.5" fill="#ddd"/><rect x="162" y="188" width="2.5" height="2.5" fill="#ddd"/>
<!-- legs -->
<defs>
<linearGradient id="legg2" x1="0" y1="0" x2="1" y2="0">
 <stop offset="0" stop-color="#b98d71"/><stop offset="0.45" stop-color="#d3ae94"/><stop offset="1" stop-color="#a57c62"/>
</linearGradient>
</defs>
<path d="M126.5,197 L145.5,197 C145,210 143.5,222 142,234 C141.5,241 142,247 141.5,252 L129.5,252 C129.5,246 129,239 128.5,232 C127.5,220 126.5,208 126.5,197 Z" fill="url(#legg2)"/>
<path d="M153,195.5 L173.5,194.5 C172.5,207 171,220 170,230 C169.5,238 170.5,243 170,248 L157.5,248 C157.5,242 157,235 156,226 C155,214 153.5,204 153,194 Z" fill="url(#legg2)"/>
<circle cx="131" cy="208.7" r="0.9" fill="#ddd"/><circle cx="143.3" cy="210" r="0.9" fill="#ddd"/><circle cx="156" cy="206" r="0.9" fill="#ddd"/><circle cx="170" cy="206" r="0.9" fill="#ddd"/><circle cx="136" cy="232" r="0.8" fill="#ddd"/><circle cx="162" cy="229" r="0.8" fill="#ddd"/>
<!-- shoes -->
<path d="M129,252 C132,250.5 138,250.5 141,252 C143,258 144,266 143.5,273 C143,277 140,278.5 135,278.5 C130,278.5 127,277 126.5,273 C126,266 127,258 129,252 Z" fill="#463a30"/>
<path d="M127.5,266 C131,263 139,263 143,266 L143.3,272 C139,270 131,270 127,272 Z" fill="#6d6055" opacity="0.9"/>
<ellipse cx="133" cy="262" rx="3.4" ry="3" fill="#5b6270"/><ellipse cx="132.5" cy="261.3" rx="1.3" ry="1.1" fill="#a3aab8"/>
<path d="M129,274.5 C132,276.5 138,276.5 142,274" stroke="#9a8f85" stroke-width="1.2" fill="none"/>
<path d="M139,255 L145,261" stroke="#8a7a6a" stroke-width="0.8"/>
<path d="M160,248.5 C164,247 170,247 173.5,249 C175.5,255 177,263 176.8,270 C176,274 172.5,275.5 167.5,275.5 C162.5,275.5 159.5,274 159,270 C158.5,263 158.5,255 160,248.5 Z" fill="#463a30"/>
<path d="M159.2,262 C163,259.5 171,259.5 176.5,262 L176.7,268 C171,266 163,266 159,268 Z" fill="#6d6055" opacity="0.9"/>
<ellipse cx="167" cy="257.5" rx="3.6" ry="3.1" fill="#5b6270"/><ellipse cx="166.5" cy="256.8" rx="1.3" ry="1.1" fill="#a3aab8"/>
<path d="M161,271.5 C165,273.5 171,273.5 175.5,271" stroke="#9a8f85" stroke-width="1.2" fill="none"/>
<path d="M171,251 L177,256" stroke="#8a7a6a" stroke-width="0.8"/>
<!-- floor tape marks -->
<path d="M56,279.5 L60,279.5 L61.5,283 L70.5,283 L70.5,286.5 L56,286.5 Z" fill="#1f1f1f"/>
<path d="M165.5,277.8 L171.3,277.8 L171.3,285.6 L156,285.6 L156,281.6 L165.5,281.6 Z" fill="#1f1f1f"/>
<ellipse cx="150" cy="238.5" rx="3" ry="1.1" fill="#f3efe8"/>
<rect x="70" y="251" width="6" height="1.6" fill="#2a2a2a"/>
<ellipse cx="203" cy="203" rx="3.5" ry="1.2" fill="#f5f1ea"/><ellipse cx="220" cy="231" rx="2.5" ry="0.9" fill="#f5f1ea"/>
<!-- small orange box & arrow -->
<rect x="124.8" y="177.2" width="20.8" height="46.6" fill="none" stroke="#ef7a2a" stroke-width="1"/>
<line x1="124" y1="200.2" x2="104" y2="200.2" stroke="#111" stroke-width="1.4"/>
<polygon points="99.6,200.2 105.5,197.3 105.5,203.1" fill="#111"/>
</g>
<!-- number badges -->
<g font-family="DejaVu Sans, sans-serif" font-size="8.8" fill="#f2f2f2" stroke="#f2f2f2" stroke-width="0.35" text-anchor="middle">
<g stroke="#97dc8c" stroke-width="1.15" fill="#2e3039">
<circle cx="147.6" cy="34.3" r="6.35"/><circle cx="15.2" cy="87.8" r="6.35"/><circle cx="269.8" cy="85.1" r="6.35"/>
<circle cx="138.9" cy="143.1" r="6.35"/><circle cx="117.9" cy="263" r="6.35"/><circle cx="186" cy="256.3" r="6.35"/>
<circle cx="91.8" cy="70.8" r="6.35"/><circle cx="199.1" cy="72" r="6.35"/><circle cx="137.7" cy="93.8" r="6.35"/>
</g>
<text x="147.6" y="37.7">1</text><text x="15.2" y="91.2">2</text><text x="269.8" y="88.5">3</text>
<text x="138.9" y="146.5">4</text><text x="117.9" y="266.4">5</text><text x="186" y="259.7">6</text>
<text x="91.8" y="74.2">7</text><text x="199.1" y="75.4">8</text><text x="137.7" y="97.2">9</text>
</g>
</g>

<polygon points="299.4,94.7 368.5,5.0 366.8,137.0 304.7,229.5" fill="#f6f6f6"/>
<polygon points="368.5,5.0 513.4,41.0 507.6,173.3 366.8,137.0" fill="#f2f2f2"/>
<polygon points="366.8,137.0 507.6,173.3 450.0,275.6 304.7,229.5" fill="#f3f3f3"/>
<g stroke="#e1e1e1" stroke-width="0.6" fill="none"><polyline points="299.4,94.7 368.5,5.0 513.4,41.0 507.6,173.3 450.0,275.6 304.7,229.5 299.4,94.7" stroke="#e4e4e4" stroke-width="0.7"/><line x1="371.8" y1="5.8" x2="370.0" y2="137.8"/><line x1="369.8" y1="137.8" x2="307.8" y2="230.5"/><line x1="389.2" y1="10.1" x2="386.9" y2="142.2"/><line x1="385.9" y1="141.9" x2="324.3" y2="235.7"/><line x1="406.6" y1="14.5" x2="403.9" y2="146.6"/><line x1="402.2" y1="146.1" x2="341.1" y2="241.0"/><line x1="424.1" y1="18.8" x2="420.8" y2="150.9"/><line x1="418.8" y1="150.4" x2="358.2" y2="246.5"/><line x1="441.6" y1="23.2" x2="437.9" y2="155.3"/><line x1="435.7" y1="154.8" x2="375.6" y2="252.0"/><line x1="459.2" y1="27.5" x2="454.9" y2="159.7"/><line x1="452.9" y1="159.2" x2="393.4" y2="257.6"/><line x1="476.8" y1="31.9" x2="472.1" y2="164.1"/><line x1="470.4" y1="163.7" x2="411.5" y2="263.4"/><line x1="494.5" y1="36.3" x2="489.2" y2="168.6"/><line x1="488.2" y1="168.3" x2="429.9" y2="269.2"/><line x1="512.2" y1="40.7" x2="506.4" y2="173.0"/><line x1="506.3" y1="173.0" x2="448.7" y2="275.2"/><line x1="368.5" y1="7.4" x2="513.3" y2="43.4"/><line x1="368.5" y1="7.6" x2="299.5" y2="97.4"/><line x1="368.1" y1="33.9" x2="512.1" y2="70.0"/><line x1="368.1" y1="35.5" x2="300.6" y2="126.1"/><line x1="367.8" y1="60.1" x2="511.0" y2="96.2"/><line x1="367.8" y1="62.4" x2="301.7" y2="153.6"/><line x1="367.5" y1="86.0" x2="509.8" y2="122.2"/><line x1="367.4" y1="88.2" x2="302.8" y2="180.0"/><line x1="367.1" y1="111.7" x2="508.7" y2="147.9"/><line x1="367.1" y1="113.1" x2="303.7" y2="205.3"/><line x1="366.8" y1="137.0" x2="507.6" y2="173.3"/><line x1="366.8" y1="137.0" x2="304.7" y2="229.5"/><line x1="366.0" y1="8.2" x2="364.5" y2="140.4"/><line x1="364.5" y1="140.5" x2="505.5" y2="177.1"/><line x1="358.6" y1="17.9" x2="357.8" y2="150.4"/><line x1="357.6" y1="150.7" x2="499.1" y2="188.4"/><line x1="351.0" y1="27.7" x2="351.0" y2="160.6"/><line x1="350.6" y1="161.1" x2="492.7" y2="199.8"/><line x1="343.2" y1="37.8" x2="344.0" y2="171.0"/><line x1="343.6" y1="171.6" x2="486.1" y2="211.5"/><line x1="335.3" y1="48.1" x2="336.8" y2="181.7"/><line x1="336.4" y1="182.3" x2="479.5" y2="223.3"/><line x1="327.2" y1="58.6" x2="329.5" y2="192.5"/><line x1="329.1" y1="193.1" x2="472.7" y2="235.2"/><line x1="318.9" y1="69.4" x2="322.1" y2="203.6"/><line x1="321.8" y1="204.1" x2="465.9" y2="247.4"/><line x1="310.4" y1="80.4" x2="314.5" y2="214.9"/><line x1="314.3" y1="215.2" x2="458.9" y2="259.8"/><line x1="301.7" y1="91.7" x2="306.7" y2="226.5"/><line x1="306.7" y1="226.5" x2="451.9" y2="272.3"/></g>
<g stroke="#1e1e1e" stroke-width="0.75"><line x1="512.3" y1="43.4" x2="515.5" y2="43.4"/><line x1="511.1" y1="71.1" x2="514.3" y2="71.1"/><line x1="509.9" y1="97.0" x2="513.1" y2="97.0"/><line x1="508.8" y1="123.6" x2="512.0" y2="123.6"/><line x1="507.7" y1="149.0" x2="510.9" y2="149.0"/><line x1="506.6" y1="173.6" x2="509.8" y2="173.6"/><line x1="308.0" y1="232.3" x2="306.4" y2="234.7"/><line x1="324.9" y1="237.0" x2="323.3" y2="239.4"/><line x1="342.3" y1="242.1" x2="340.7" y2="244.5"/><line x1="359.8" y1="247.4" x2="358.2" y2="249.8"/><line x1="377.8" y1="253.0" x2="376.2" y2="255.4"/><line x1="395.3" y1="258.0" x2="393.7" y2="260.4"/><line x1="413.1" y1="263.3" x2="411.5" y2="265.7"/><line x1="431.0" y1="269.0" x2="429.4" y2="271.4"/><line x1="448.5" y1="274.3" x2="446.9" y2="276.7"/><line x1="505.1" y1="177.3" x2="507.7" y2="178.5"/><line x1="499.5" y1="188.6" x2="502.1" y2="189.8"/><line x1="493.4" y1="200.0" x2="496.0" y2="201.2"/><line x1="486.8" y1="212.2" x2="489.4" y2="213.4"/><line x1="480.6" y1="224.1" x2="483.2" y2="225.3"/><line x1="473.4" y1="236.1" x2="476.0" y2="237.3"/><line x1="466.2" y1="248.6" x2="468.8" y2="249.8"/><line x1="458.9" y1="260.2" x2="461.5" y2="261.4"/><line x1="452.3" y1="272.8" x2="454.9" y2="274.0"/></g>
<g font-family="DejaVu Sans, sans-serif" font-size="4.6" fill="#151515" stroke="#151515" stroke-width="0.38"><text x="516.3" y="45.0" text-anchor="start">0.4</text><text x="515.1" y="72.7" text-anchor="start">0.2</text><text x="513.9" y="98.6" text-anchor="start">0.0</text><text x="512.8" y="125.2" text-anchor="start">−0.2</text><text x="511.7" y="150.6" text-anchor="start">−0.4</text><text x="510.6" y="175.2" text-anchor="start">−0.6</text><text x="305.4" y="243.9" text-anchor="middle">0.4</text><text x="322.3" y="248.6" text-anchor="middle">0.3</text><text x="339.7" y="253.7" text-anchor="middle">0.2</text><text x="357.2" y="259.0" text-anchor="middle">0.1</text><text x="375.2" y="264.6" text-anchor="middle">0.0</text><text x="393.1" y="269.6" text-anchor="middle">−0.1</text><text x="410.9" y="274.9" text-anchor="middle">−0.2</text><text x="428.8" y="280.6" text-anchor="middle">−0.3</text><text x="446.3" y="285.9" text-anchor="middle">−0.4</text><text x="511.4" y="187.5" text-anchor="middle">−0.3</text><text x="505.8" y="198.8" text-anchor="middle">−0.2</text><text x="499.7" y="210.2" text-anchor="middle">−0.1</text><text x="492.4" y="222.4" text-anchor="middle">0.0</text><text x="486.2" y="234.3" text-anchor="middle">0.1</text><text x="479.0" y="246.3" text-anchor="middle">0.2</text><text x="471.8" y="258.8" text-anchor="middle">0.3</text><text x="464.5" y="270.4" text-anchor="middle">0.4</text><text x="457.9" y="283.0" text-anchor="middle">0.5</text><text x="373" y="272.3" text-anchor="middle" transform="rotate(17 373 270.8)" font-size="4.6">X in m</text><text x="491" y="239" text-anchor="middle" transform="rotate(-56 491 237.5)" font-size="4.6">Z in m</text><text x="524.8" y="107.6" text-anchor="middle" transform="rotate(90 524.8 106)" font-size="4.3">Y in m</text></g>
<polyline points="293.8,18.1 341.4,23.4 393.0,35.2 417.0,41.2 449.2,52.3 528.5,91.0" fill="none" stroke="#d0d0d0" stroke-width="0.9" stroke-linejoin="round" stroke-linecap="round"/>
<polyline points="417.9,24.2 417.6,41.0 417.4,77.5 416.5,100.0 415.8,112.5" fill="none" stroke="#d0d0d0" stroke-width="0.9" stroke-linejoin="round" stroke-linecap="round"/>
<polyline points="415.8,112.5 398.9,115.1 364.9,144.3 358.9,172.3 370.2,208.1 396.5,209.5" fill="none" stroke="#d0d0d0" stroke-width="0.9" stroke-linejoin="round" stroke-linecap="round"/>
<polyline points="415.8,112.5 431.0,118.0 432.0,160.0 432.3,181.0 450.1,220.2" fill="none" stroke="#d0d0d0" stroke-width="0.9" stroke-linejoin="round" stroke-linecap="round"/>
<circle cx="293.8" cy="18.1" r="1.5" fill="#cfcfcf"/><circle cx="341.4" cy="23.4" r="1.5" fill="#cfcfcf"/><circle cx="393.0" cy="35.2" r="1.5" fill="#cfcfcf"/><circle cx="449.2" cy="52.3" r="1.5" fill="#cfcfcf"/><circle cx="528.5" cy="91.0" r="1.5" fill="#cfcfcf"/><circle cx="417.9" cy="24.2" r="1.5" fill="#cfcfcf"/><circle cx="417.4" cy="75.4" r="1.5" fill="#cfcfcf"/><circle cx="364.9" cy="144.3" r="1.5" fill="#cfcfcf"/><circle cx="358.9" cy="172.3" r="1.5" fill="#cfcfcf"/><circle cx="370.2" cy="208.1" r="1.5" fill="#cfcfcf"/><circle cx="450.1" cy="220.2" r="1.5" fill="#cfcfcf"/>
<polyline points="400.1,153.4 398.1,199.9 416.5,234.9" fill="none" stroke="#bdbdbd" stroke-width="0.9" stroke-linejoin="round" stroke-linecap="round"/>
<polyline points="428.6,162.6 425.8,209.4 416.5,234.9" fill="none" stroke="#bdbdbd" stroke-width="0.9" stroke-linejoin="round" stroke-linecap="round"/>
<polyline points="288.7,29.2 333.6,36.2 388.7,44.0 416.0,58.8 441.8,55.4 494.6,65.1 539.3,71.8" fill="none" stroke="#f9a444" stroke-width="1.1" stroke-linejoin="round" stroke-linecap="round"/>
<polyline points="411.2,41.6 416.2,45.0 416.0,58.8 415.4,66.2 415.4,86.0 416.0,101.9 415.6,112.4" fill="none" stroke="#f9a444" stroke-width="1.1" stroke-linejoin="round" stroke-linecap="round"/>
<polyline points="397.3,116.6 415.6,112.4 433.1,122.3" fill="none" stroke="#f9a444" stroke-width="1.1" stroke-linejoin="round" stroke-linecap="round"/>
<polyline points="397.3,116.6 398.6,152.8 397.8,168.9 403.7,219.4 395.3,238.6" fill="none" stroke="#f9a444" stroke-width="1.1" stroke-linejoin="round" stroke-linecap="round"/>
<polyline points="433.1,122.3 430.3,150.0 429.3,176.0 427.2,226.0 425.9,247.1" fill="none" stroke="#f9a444" stroke-width="1.1" stroke-linejoin="round" stroke-linecap="round"/>
<circle cx="288.7" cy="29.2" r="1.6" fill="#fc9424"/><circle cx="333.6" cy="36.2" r="1.6" fill="#fc9424"/><circle cx="388.7" cy="44.0" r="1.6" fill="#fc9424"/><circle cx="416.0" cy="58.8" r="1.6" fill="#fc9424"/><circle cx="441.8" cy="55.4" r="1.6" fill="#fc9424"/><circle cx="494.6" cy="65.1" r="1.6" fill="#fc9424"/><circle cx="539.3" cy="71.8" r="1.6" fill="#fc9424"/><circle cx="411.2" cy="41.6" r="1.6" fill="#fc9424"/><circle cx="415.4" cy="66.2" r="1.6" fill="#fc9424"/><circle cx="415.4" cy="86.0" r="1.6" fill="#fc9424"/><circle cx="416.0" cy="101.9" r="1.6" fill="#fc9424"/><circle cx="397.3" cy="116.6" r="1.6" fill="#fc9424"/><circle cx="433.1" cy="122.3" r="1.6" fill="#fc9424"/><circle cx="397.8" cy="168.9" r="1.6" fill="#fc9424"/><circle cx="403.7" cy="219.4" r="1.6" fill="#fc9424"/><circle cx="395.3" cy="238.6" r="1.6" fill="#fc9424"/><circle cx="429.3" cy="176.0" r="1.6" fill="#fc9424"/><circle cx="427.2" cy="226.0" r="1.6" fill="#fc9424"/><circle cx="425.9" cy="247.1" r="1.6" fill="#fc9424"/>
<polyline points="299.6,32.0 347.3,31.6 400.7,31.3 417.0,37.5 420.3,38.1 427.3,40.8 437.5,43.3 458.0,47.4 493.3,75.3 525.3,99.8" fill="none" stroke="#626262" stroke-width="1.5" stroke-linejoin="round" stroke-linecap="round"/>
<polyline points="420.3,38.1 427.3,33.0 427.3,40.8 426.7,68.5 423.5,85.8 418.6,102.0 415.6,112.6" fill="none" stroke="#626262" stroke-width="1.5" stroke-linejoin="round" stroke-linecap="round"/>
<polyline points="400.7,107.9 415.6,112.6 430.8,117.4" fill="none" stroke="#626262" stroke-width="1.5" stroke-linejoin="round" stroke-linecap="round"/>
<polyline points="400.7,107.9 397.8,156.0 395.6,205.1 388.4,231.0" fill="none" stroke="#626262" stroke-width="1.5" stroke-linejoin="round" stroke-linecap="round"/>
<polyline points="430.8,117.4 434.4,169.8 438.2,224.6 420.1,243.0" fill="none" stroke="#626262" stroke-width="1.5" stroke-linejoin="round" stroke-linecap="round"/>
<circle cx="299.6" cy="32.0" r="1.7" fill="#457a4a"/><circle cx="347.3" cy="31.6" r="1.7" fill="#457a4a"/><circle cx="400.7" cy="31.3" r="1.7" fill="#457a4a"/><circle cx="417.0" cy="37.5" r="1.7" fill="#457a4a"/><circle cx="420.3" cy="38.1" r="1.7" fill="#457a4a"/><circle cx="427.3" cy="33.0" r="1.7" fill="#457a4a"/><circle cx="437.5" cy="43.3" r="1.7" fill="#457a4a"/><circle cx="458.0" cy="47.4" r="1.7" fill="#457a4a"/><circle cx="493.3" cy="75.3" r="1.7" fill="#457a4a"/><circle cx="525.3" cy="99.8" r="1.7" fill="#457a4a"/><circle cx="426.7" cy="68.5" r="1.7" fill="#457a4a"/><circle cx="423.5" cy="85.8" r="1.7" fill="#457a4a"/><circle cx="418.6" cy="102.0" r="1.7" fill="#457a4a"/><circle cx="400.7" cy="107.9" r="1.7" fill="#457a4a"/><circle cx="430.8" cy="117.4" r="1.7" fill="#457a4a"/><circle cx="397.8" cy="156.0" r="1.7" fill="#457a4a"/><circle cx="395.6" cy="205.1" r="1.7" fill="#457a4a"/><circle cx="388.4" cy="231.0" r="1.7" fill="#457a4a"/><circle cx="434.4" cy="169.8" r="1.7" fill="#457a4a"/><circle cx="438.2" cy="224.6" r="1.7" fill="#457a4a"/><circle cx="420.1" cy="243.0" r="1.7" fill="#457a4a"/>
<circle cx="400.1" cy="153.4" r="1.5" fill="#7fe3b0"/><circle cx="398.1" cy="199.9" r="1.5" fill="#7fe3b0"/><circle cx="416.5" cy="234.9" r="1.5" fill="#7fe3b0"/><circle cx="425.8" cy="209.4" r="1.5" fill="#7fe3b0"/><circle cx="428.6" cy="162.6" r="1.5" fill="#7fe3b0"/>
<rect x="506.4" y="250.2" width="39" height="41.5" rx="1" fill="#fcfcfc" stroke="#eeeeee" stroke-width="0.5"/>
<line x1="508.8" y1="254.9" x2="518.6" y2="254.9" stroke="#ff9830" stroke-width="1"/>
<circle cx="513.7" cy="254.9" r="1.5" fill="#ff8c00"/>
<text x="522" y="256.5" font-family="DejaVu Sans, sans-serif" font-size="4.45" fill="#151515" stroke="#151515" stroke-width="0.38">qualisys</text>
<line x1="508.8" y1="261.3" x2="518.6" y2="261.3" stroke="#dcdcdc" stroke-width="1"/>
<circle cx="513.7" cy="261.3" r="1.5" fill="#cfcfcf"/>
<text x="522" y="262.90000000000003" font-family="DejaVu Sans, sans-serif" font-size="4.45" fill="#151515" stroke="#151515" stroke-width="0.38">3 tracker</text>
<line x1="508.8" y1="267.6" x2="518.6" y2="267.6" stroke="#c8c8c8" stroke-width="1"/>
<circle cx="513.7" cy="267.6" r="1.5" fill="#7fe3b0"/>
<text x="522" y="269.20000000000005" font-family="DejaVu Sans, sans-serif" font-size="4.45" fill="#151515" stroke="#151515" stroke-width="0.38">4 tracker</text>
<line x1="508.8" y1="274.0" x2="518.6" y2="274.0" stroke="#cccccc" stroke-width="1"/>
<circle cx="513.7" cy="274.0" r="1.5" fill="#c4ef7c"/>
<text x="522" y="275.6" font-family="DejaVu Sans, sans-serif" font-size="4.45" fill="#151515" stroke="#151515" stroke-width="0.38">6 tracker</text>
<line x1="508.8" y1="280.3" x2="518.6" y2="280.3" stroke="#505050" stroke-width="1"/>
<circle cx="513.7" cy="280.3" r="1.5" fill="#3f8f45"/>
<text x="522" y="281.90000000000003" font-family="DejaVu Sans, sans-serif" font-size="4.45" fill="#151515" stroke="#151515" stroke-width="0.38">8 tracker</text>
<line x1="508.8" y1="286.6" x2="518.6" y2="286.6" stroke="#9a9a9a" stroke-width="1"/>
<circle cx="513.7" cy="286.6" r="1.5" fill="#747474"/>
<text x="522" y="288.20000000000005" font-family="DejaVu Sans, sans-serif" font-size="4.45" fill="#151515" stroke="#151515" stroke-width="0.38">9 tracker</text>
<text x="142.6" y="312" font-family="Liberation Serif, serif" font-size="11.5" text-anchor="middle" fill="#111">(<tspan font-weight="bold">a</tspan>)</text>
<text x="412.8" y="312" font-family="Liberation Serif, serif" font-size="11.5" text-anchor="middle" fill="#111">(<tspan font-weight="bold">b</tspan>)</text>
</svg>
</body></html>
